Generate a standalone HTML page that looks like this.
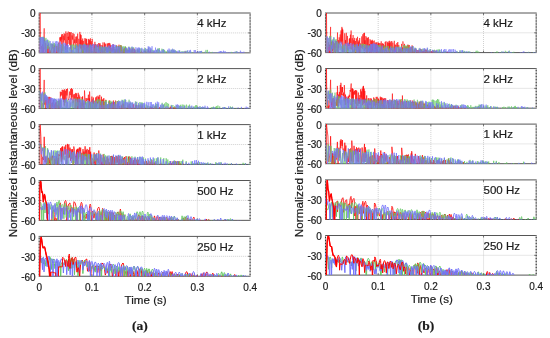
<!DOCTYPE html><html><head><meta charset="utf-8"><style>html,body{margin:0;padding:0;background:#fff;width:550px;height:338px;overflow:hidden}svg{display:block;filter:blur(0.4px)}text{font-family:"Liberation Sans",Arial,sans-serif;fill:#1a1a1a;stroke:#1a1a1a;stroke-width:0.2px}</style></head><body>
<svg width="550" height="338" viewBox="0 0 550 338"><defs><clipPath id="c00"><rect x="39.2" y="13" width="210.9" height="39.85"/></clipPath><clipPath id="c01"><rect x="39.2" y="68.6" width="210.9" height="39.85"/></clipPath><clipPath id="c02"><rect x="39.2" y="124.6" width="210.9" height="39.85"/></clipPath><clipPath id="c03"><rect x="39.2" y="180.5" width="210.9" height="39.85"/></clipPath><clipPath id="c04"><rect x="39.2" y="236.4" width="210.9" height="39.85"/></clipPath><clipPath id="c10"><rect x="325.5" y="13" width="210.7" height="39.6"/></clipPath><clipPath id="c11"><rect x="325.5" y="68.56" width="210.7" height="39.6"/></clipPath><clipPath id="c12"><rect x="325.5" y="124.1" width="210.7" height="39.6"/></clipPath><clipPath id="c13"><rect x="325.5" y="179.9" width="210.7" height="39.6"/></clipPath><clipPath id="c14"><rect x="325.5" y="235.5" width="210.7" height="39.6"/></clipPath></defs>
<path d="M91.92 13V52.85M144.65 13V52.85M197.37 13V52.85M39.2 32.92H250.1" stroke="#c4c4c4" stroke-width="0.8" stroke-dasharray="1 1" fill="none"/>
<path d="M91.92 13v2M91.92 52.85v-2M144.65 13v2M144.65 52.85v-2M197.37 13v2M197.37 52.85v-2M39.2 32.92h2M250.1 32.92h-2" stroke="#555" stroke-width="0.8" fill="none"/>
<path d="M38.7 13H250.6M38.7 52.85H250.6" stroke="#555" stroke-width="1" fill="none"/>
<path d="M39.2 13V52.85M250.1 13V52.85" stroke="#9a9a9a" stroke-width="1.1" fill="none"/>
<path d="M39.2 14.5V52.85M250.1 14.5V52.85" stroke="#333" stroke-width="1" stroke-dasharray="1 2" fill="none"/>
<g clip-path="url(#c00)"><path d="M40.0 62.8 40.1 13.0 40.3 32.9 40.5 42.9 40.8 45.0 41.0 49.3 41.5 46.0 42.0 62.8 42.5 44.4 43.0 57.1 43.2 46.3 43.4 61.4 44.2 28.3 44.3 41.4 44.7 39.7 45.2 58.8 45.6 43.0 46.0 48.3 46.6 48.8 47.2 55.8 47.5 45.0 47.9 61.7 48.4 44.2 48.9 60.0 49.5 47.4 50.0 53.4 50.3 50.4 50.7 61.9 51.3 48.9 51.9 48.8 52.2 44.2 52.5 48.3 53.1 47.1 53.7 55.4 54.0 44.7 54.3 52.7 54.8 45.9 55.2 61.4 55.6 59.7 56.1 62.8 56.6 45.9 57.2 62.8 57.8 46.3 58.3 57.7 58.7 42.6 59.1 51.7 59.7 37.4 60.3 40.5 60.5 37.2 60.8 41.8 61.1 36.7 61.4 62.8 61.7 34.5 61.9 39.6 62.3 34.0 62.8 51.2 63.3 35.6 63.8 42.8 64.1 33.3 64.4 40.3 65.0 34.0 65.5 50.0 65.9 31.4 66.2 45.0 66.5 46.0 66.8 38.7 67.1 33.0 67.4 49.0 67.7 37.6 67.9 38.1 68.2 31.5 68.5 40.0 68.7 36.6 69.0 43.8 69.4 32.0 69.8 45.3 70.2 32.4 70.6 49.1 71.1 32.1 71.7 62.8 72.0 35.4 72.4 39.6 72.9 33.0 73.5 45.5 74.0 33.9 74.6 43.2 74.9 39.4 75.2 49.0 75.8 36.7 76.3 43.2 76.7 36.4 77.1 47.3 77.7 33.6 78.2 62.8 78.8 38.8 79.4 46.6 79.9 31.9 80.4 48.0 80.6 34.3 80.9 49.0 81.1 35.1 81.3 62.8 81.8 40.2 82.4 55.1 82.7 38.5 82.9 56.8 83.3 40.9 83.7 62.8 84.1 44.6 84.5 49.7 84.9 38.2 85.2 54.9 85.8 38.6 86.3 62.8 86.5 38.9 86.8 62.8 87.3 43.5 87.8 53.1 88.3 38.9 88.8 53.3 89.1 39.3 89.4 62.8 89.7 40.2 90.1 46.2 90.4 38.3 90.7 54.8 91.3 41.3 91.8 56.6 92.2 38.8 92.5 45.5 93.0 44.6 93.6 59.7 94.1 44.5 94.7 54.1 94.9 41.8 95.2 55.4 95.6 44.2 96.0 47.5 96.3 45.1 96.7 55.9 97.2 44.1 97.8 47.1 98.2 46.0 98.5 57.0 98.7 43.0 99.0 47.4 99.3 43.5 99.5 55.6 100.1 43.4 100.7 54.7 101.0 45.0 101.3 62.8 101.7 48.6 102.0 58.1 102.3 45.4 102.5 58.6 103.0 42.4 103.4 59.6 103.8 50.7 104.3 53.9 104.5 42.5 104.8 61.5 105.1 44.3 105.5 50.7 105.9 43.5 106.4 58.5 106.8 47.4 107.2 49.8 107.5 43.5 107.8 60.7 108.4 43.1 109.0 52.2 109.3 42.9 109.5 59.3 110.0 43.5 110.5 62.8 110.7 45.3 110.9 49.5 111.2 52.4 111.4 51.7 111.9 48.0 112.4 52.0 112.8 44.5 113.2 50.8 113.6 44.4 114.0 53.4 114.4 48.9 114.7 62.8 115.2 49.5 115.7 55.5 115.9 48.9 116.1 62.8 116.6 45.3 117.2 56.5 117.6 48.9 118.0 60.6 118.3 45.9 118.7 62.8 119.0 44.7 119.4 57.5 119.8 46.7 120.1 60.1 120.5 45.2 120.9 62.8 121.4 45.6 121.9 57.3 122.3 50.2 122.7 62.4 123.3 49.1 123.8 56.6 124.2 47.9 124.6 55.2 124.8 48.7 125.1 58.2 125.5 46.9 125.8 60.0 126.2 48.6 126.6 52.7 126.9 52.6 127.3 58.5 127.7 49.8 128.1 55.3 128.7 49.9 129.3 57.2 129.8 47.9 130.3 62.8 130.7 51.4 131.1 62.8 131.3 50.1 131.6 60.4 132.1 48.6 132.5 54.5 132.9 48.4 133.2 54.7 133.6 52.3 134.0 62.8 134.3 48.7 134.7 55.4 135.0 50.2 135.3 62.8 135.7 51.6 136.0 62.8 136.5 53.6 137.0 62.8 137.3 49.8 137.7 56.5 138.1 53.6 138.5 57.5 138.9 51.1 139.3 62.8 139.7 57.0 140.1 55.1 140.5 52.5 141.0 62.8 141.3 50.8 141.5 55.2 142.0 52.5 142.4 59.0 142.9 54.7 143.4 61.8 144.0 54.3 144.6 62.8 144.9 50.9 145.3 62.8 145.8 51.3 146.3 60.8 146.5 56.7 146.8 58.6 147.4 53.9 147.9 62.8 148.2 50.1 148.4 61.9 148.9 50.8 149.4 62.8 149.8 52.2 150.2 62.8 150.4 50.2 150.6 62.8 150.8 51.6 151.0 59.4 151.4 57.1 151.8 62.8 152.0 54.8 152.3 56.9 152.8 52.4 153.4 62.8 153.9 51.7 154.4 62.8 154.8 53.7 155.3 62.0 155.7 56.6 156.1 62.8 156.6 53.0 157.1 57.2 157.7 52.6 158.3 62.8 158.5 52.6 158.7 60.5 159.0 54.8 159.3 62.5 159.7 53.4 160.1 62.8 160.5 53.1 161.0 62.8 161.4 53.7 161.9 60.2 162.4 55.0 162.8 61.1 163.4 53.9 163.9 62.8 164.3 54.7 164.8 58.4 165.1 54.9 165.4 62.8 165.8 53.7 166.2 62.8 166.6 52.4 167.0 62.8 167.4 53.1 167.8 58.6 168.2 53.1 168.7 62.8 169.2 55.8 169.7 62.8 170.2 52.5 170.8 62.8 171.1 52.9 171.5 62.8 171.8 52.9 172.2 62.8 172.5 53.3 172.8 62.8 173.2 52.9 173.5 62.8 174.1 57.4 174.6 62.2 175.1 52.8 175.5 62.8 175.9 55.7 176.3 59.4 176.9 52.5 177.4 62.8 177.8 56.0 178.3 62.8 178.7 55.7 179.1 62.8 179.6 54.0 180.0 62.8 180.3 56.6 180.5 62.8 180.9 54.0 181.2 62.8 181.5 53.2 181.8 62.8 182.1 53.0 182.4 62.1 182.9 55.3 183.3 62.8 183.6 54.6 184.0 62.8 184.4 56.0 184.7 58.7 185.2 51.5 185.6 62.8 186.2 53.5 186.8 62.8 187.3 54.3 187.8 62.8 188.4 53.0 188.9 60.5 189.4 52.9 189.9 62.8 190.3 56.5 190.8 62.4 191.1 54.4 191.5 61.4 192.0 56.7 192.4 62.8 192.6 55.4 192.9 62.8 193.3 56.2 193.8 62.2 194.1 54.8 194.3 62.8 194.6 62.8 194.9 61.1 195.1 60.1 195.3 62.8 195.7 57.3 196.1 60.6 196.4 55.9 196.6 62.6 197.0 56.3 197.3 62.8 197.9 55.7 198.4 59.4 198.8 56.9 199.3 62.8 199.6 57.6 199.9 62.8 200.2 55.0 200.4 62.8 200.7 56.5 201.1 62.8 201.3 56.0 201.6 61.1 201.8 59.6 202.0 61.3 202.6 54.7 203.1 62.8 203.4 57.7 203.7 62.8 204.1 55.7 204.6 62.8 205.1 54.1 205.7 62.8 206.2 57.6 206.7 62.8 207.0 57.7 207.3 60.7 207.6 56.1 207.9 62.8 208.2 55.0 208.5 62.8 208.7 57.7 208.9 59.7 209.2 54.3 209.4 62.8 209.7 58.0 209.9 61.6 210.3 54.5 210.6 62.8 211.2 57.7 211.7 62.2 212.0 55.2 212.3 62.8 212.6 60.1 212.9 62.8 213.4 54.9 213.8 62.8 214.2 56.9 214.5 62.8 215.1 54.9 215.6 62.8 216.0 54.8 216.4 62.8 217.0 55.2 217.5 62.8 217.9 54.6 218.3 62.8 218.7 57.2 219.0 62.8 219.6 54.3 220.1 60.8 220.6 56.1 221.0 62.8 221.5 54.5 222.0 62.8 222.5 57.3 223.1 62.8 223.6 57.7 224.1 62.8 224.5 55.9 224.9 62.8 225.2 58.1 225.4 62.8 225.9 55.1 226.4 62.8 226.8 62.8 227.1 62.1 227.5 55.8 228.0 62.8 228.4 56.4 228.8 62.8 229.2 60.9 229.6 62.6 230.0 55.5 230.3 62.8 230.5 62.8 230.8 62.8 231.0 55.9 231.3 62.8 231.5 58.6 231.8 62.8 232.3 60.2 232.7 62.8 233.0 59.2 233.3 62.6 233.6 56.8 233.9 62.8 234.1 61.5 234.4 62.8 234.9 58.0 235.3 62.8 235.9 60.0 236.4 62.8 236.7 58.2 237.1 62.8 237.5 57.9 237.9 62.8 238.3 59.5 238.7 62.8 239.2 56.5 239.8 62.8 240.3 56.4 240.8 62.8 241.2 57.6 241.6 62.8 241.9 57.7 242.2 62.8 242.4 58.8 242.7 62.8 243.3 61.9 243.9 62.8 244.1 57.1 244.3 62.8 244.6 61.9 244.8 62.8 245.2 60.5 245.6 62.8 246.2 57.6 246.8 62.8 247.1 57.6 247.5 62.8 247.7 60.1 247.9 62.8 248.3 58.6 248.7 62.8 249.1 57.4 249.6 62.8 250.2 57.7 250.7 62.8" stroke="#ff0000" stroke-width="0.55" fill="none" stroke-linejoin="round"/><path d="M39.2 36.2 39.6 39.4 40.0 42.8 40.6 37.6 41.2 62.8 42.0 36.9 42.8 61.7 43.2 36.8 43.6 46.4 44.0 37.0 44.5 49.6 44.9 38.6 45.3 59.1 46.0 37.9 46.7 52.8 47.2 40.3 47.6 48.9 48.0 39.9 48.4 48.6 49.1 40.7 49.7 51.5 50.4 43.5 51.1 62.8 51.5 43.4 52.0 59.7 52.7 43.7 53.4 62.8 53.7 43.3 54.0 49.8 54.4 43.1 54.8 54.8 55.7 44.2 56.6 50.6 57.3 44.1 57.9 62.8 58.6 43.7 59.3 60.8 59.9 47.3 60.5 62.8 60.9 44.9 61.3 62.8 62.1 43.8 63.0 62.5 63.3 44.7 63.6 58.6 64.3 46.4 65.0 62.8 65.7 45.6 66.4 58.2 66.8 46.6 67.2 57.0 67.8 46.9 68.3 62.8 69.2 48.1 70.1 52.0 70.9 44.8 71.6 58.7 72.0 44.6 72.5 62.8 73.0 44.4 73.5 62.8 74.1 44.7 74.8 62.8 75.5 45.2 76.2 52.2 76.5 44.2 76.9 62.8 77.7 45.4 78.6 60.2 79.4 44.1 80.2 62.8 81.0 44.4 81.8 59.5 82.2 45.4 82.5 54.5 83.0 47.8 83.4 59.6 84.1 43.8 84.9 59.5 85.2 44.0 85.5 53.1 86.1 45.8 86.6 62.8 87.2 47.7 87.7 62.8 88.5 47.3 89.3 62.8 89.7 44.7 90.2 62.8 91.0 45.1 91.8 56.8 92.7 50.7 93.5 62.8 94.1 47.9 94.7 62.8 95.5 45.5 96.2 51.9 96.7 45.5 97.3 62.8 98.0 47.4 98.7 62.8 99.0 48.8 99.4 60.2 99.8 46.0 100.3 52.4 100.9 47.0 101.5 62.8 101.8 47.0 102.2 62.8 102.8 46.6 103.4 60.4 103.8 47.2 104.1 53.7 104.7 46.9 105.3 57.8 105.9 46.8 106.4 62.8 106.7 47.4 107.1 62.8 107.4 47.0 107.7 62.8 108.1 46.9 108.6 60.8 109.0 48.0 109.4 58.1 109.7 48.7 110.0 53.5 110.8 49.6 111.6 62.8 112.2 46.9 112.9 55.6 113.5 49.9 114.1 62.8 114.6 47.1 115.2 60.0 115.7 46.2 116.2 62.8 116.8 45.7 117.4 53.3 117.9 48.4 118.4 62.8 118.7 46.2 119.0 57.3 119.7 45.5 120.4 55.0 121.0 45.0 121.6 62.8 122.1 46.3 122.5 62.8 123.4 46.3 124.2 62.8 124.5 46.6 124.9 59.8 125.4 46.2 125.9 62.8 126.7 47.5 127.4 59.5 127.7 48.6 128.0 62.8 128.4 50.4 128.7 62.8 129.1 46.7 129.4 62.8 130.1 49.5 130.8 62.8 131.1 47.3 131.5 62.8 132.2 47.0 132.9 62.8 133.7 47.2 134.5 62.8 135.2 49.5 135.9 55.8 136.3 52.1 136.6 62.8 137.1 49.5 137.5 62.8 137.8 48.7 138.1 62.8 138.5 49.7 138.8 62.8 139.2 48.3 139.5 58.0 140.3 48.5 141.1 62.8 141.8 48.6 142.6 62.8 143.2 53.1 143.7 62.8 144.0 50.4 144.3 62.8 144.7 48.1 145.1 62.8 145.8 49.7 146.5 62.8 147.0 48.9 147.6 58.7 147.9 51.5 148.3 62.8 148.6 47.7 148.9 62.8 149.7 51.9 150.4 62.8 151.0 48.7 151.6 62.8 152.1 50.1 152.5 61.9 153.2 49.9 154.0 57.5 154.9 51.3 155.7 62.8 156.4 49.8 157.0 62.8 157.6 48.7 158.2 62.8 158.6 48.6 159.0 62.8 159.4 48.1 159.8 62.8 160.5 54.0 161.2 62.8 161.9 48.7 162.5 55.8 163.0 49.1 163.4 62.8 163.8 49.6 164.2 62.8 164.6 50.0 165.1 61.4 165.4 51.4 165.7 62.8 166.6 51.3 167.4 62.8 167.8 50.3 168.2 62.8 168.9 51.0 169.6 62.8 170.3 51.4 170.9 62.0 171.2 49.9 171.5 62.8 172.1 49.6 172.8 61.3 173.4 49.4 174.1 62.8 174.5 50.6 175.0 62.8 175.4 50.3 175.8 59.9 176.5 51.1 177.1 57.9 177.9 54.5 178.7 62.8 179.6 50.2 180.4 62.8 180.8 52.6 181.1 62.8 181.8 51.2 182.5 62.8 183.2 51.2 183.9 62.8 184.7 51.5 185.6 60.5 186.1 50.8 186.6 62.8 187.3 50.8 188.1 62.2 188.7 52.3 189.3 62.8 189.7 51.5 190.2 62.8 190.5 52.0 190.8 62.8 191.1 51.8 191.4 62.8 192.1 52.2 192.9 60.1 193.3 56.0 193.8 62.8 194.2 53.3 194.6 57.7 195.1 53.3 195.7 62.8 196.4 53.4 197.2 62.8 197.5 52.9 197.8 62.8 198.6 52.5 199.4 60.0 199.9 51.4 200.4 62.8 201.0 51.0 201.5 62.8 202.0 51.8 202.5 62.8 203.1 53.1 203.8 62.8 204.6 51.9 205.4 62.8 206.0 49.9 206.6 62.8 207.5 49.9 208.3 62.8 208.7 52.2 209.1 62.8 209.7 57.5 210.3 62.8 211.0 52.2 211.8 62.8 212.4 51.9 213.1 62.8 213.5 53.2 214.0 62.8 214.6 56.9 215.1 62.8 215.8 52.5 216.4 62.2 216.9 52.7 217.5 59.5 218.0 55.2 218.5 62.8 219.0 53.9 219.4 60.2 220.1 55.3 220.7 62.8 221.4 52.2 222.1 62.8 222.9 53.3 223.7 61.1 224.0 52.5 224.4 61.1 225.0 54.2 225.5 62.8 226.0 54.8 226.5 62.8 226.9 52.6 227.2 60.5 227.7 53.5 228.1 62.8 228.5 55.0 228.9 62.8 229.4 55.5 230.0 62.8 230.4 52.6 230.9 62.8 231.3 51.9 231.8 61.8 232.2 52.3 232.7 62.8 233.0 54.0 233.4 62.8 233.9 53.0 234.5 60.5 234.9 52.1 235.3 62.8 236.2 51.1 237.1 62.8 237.8 52.3 238.6 62.8 239.0 55.5 239.4 62.8 239.8 55.3 240.2 62.8 241.0 53.8 241.8 62.8 242.4 56.5 243.1 62.8 243.9 56.2 244.6 62.8 245.4 55.0 246.1 62.8 247.0 54.9 247.9 61.1 248.6 55.0 249.3 62.8 250.2 57.6 251.0 62.8" stroke="#64c864" stroke-width="0.55" fill="none" stroke-linejoin="round"/><path d="M39.2 36.9 39.6 37.6 40.0 60.2 40.4 37.3 40.9 60.8 41.4 37.0 42.0 62.3 42.4 37.4 42.9 58.6 43.2 36.9 43.6 59.0 44.0 38.2 44.4 62.8 45.1 41.2 45.8 62.8 46.1 40.3 46.5 58.1 47.3 39.5 48.1 46.0 48.7 42.5 49.3 53.4 50.2 41.1 51.1 57.3 51.8 43.8 52.4 62.8 53.0 41.4 53.6 62.8 54.2 47.1 54.9 62.8 55.3 41.4 55.7 56.0 56.5 41.1 57.3 52.4 57.8 41.4 58.4 57.4 59.2 42.5 60.0 62.8 60.4 41.9 60.8 62.8 61.6 44.1 62.5 54.9 63.3 42.6 64.1 62.8 64.7 43.3 65.3 53.1 65.6 43.3 66.0 59.5 66.5 45.2 67.0 62.2 67.3 44.2 67.6 62.8 68.2 44.9 68.7 61.4 69.5 47.0 70.4 52.2 71.0 45.4 71.7 62.8 72.3 50.0 73.0 62.8 73.7 46.4 74.4 62.8 75.2 47.9 76.1 59.6 76.7 45.1 77.2 56.3 78.0 46.2 78.7 62.8 79.3 44.2 80.0 55.5 80.7 44.6 81.5 54.5 82.2 44.8 83.0 50.3 83.6 44.3 84.2 62.8 84.7 44.4 85.1 62.8 85.7 45.1 86.3 62.8 86.8 45.1 87.4 60.4 87.8 44.6 88.1 62.8 89.0 45.4 89.9 62.8 90.5 44.3 91.0 62.8 91.5 45.6 92.0 53.3 92.5 44.1 92.9 62.8 93.8 43.9 94.6 58.2 95.3 44.6 96.1 62.8 96.8 44.5 97.5 62.8 97.9 46.5 98.2 62.8 98.7 44.3 99.2 56.2 99.9 49.8 100.6 62.2 101.1 45.8 101.7 53.4 102.3 47.6 102.9 60.6 103.8 46.6 104.6 56.6 105.5 45.8 106.4 57.7 106.7 47.1 107.0 62.5 107.4 47.8 107.8 53.6 108.2 45.7 108.6 62.8 109.3 45.6 110.0 51.6 110.6 46.7 111.2 61.6 111.7 45.0 112.3 62.8 112.7 44.3 113.0 62.8 113.4 44.3 113.7 62.8 114.3 44.8 114.9 62.8 115.6 44.9 116.3 62.8 116.6 47.2 116.9 52.9 117.6 46.1 118.4 62.3 118.9 46.6 119.5 53.8 120.0 46.9 120.6 62.8 121.2 51.4 121.9 62.8 122.6 47.2 123.4 62.8 124.2 53.8 125.0 58.3 125.3 48.0 125.7 61.0 126.0 51.4 126.3 58.6 126.8 47.8 127.2 58.6 127.7 50.2 128.3 62.8 128.6 46.8 129.0 62.8 129.3 47.4 129.6 53.5 129.9 48.7 130.2 62.8 130.9 48.8 131.5 62.8 132.0 46.5 132.6 62.8 133.2 47.9 133.7 62.8 134.5 49.5 135.3 62.8 135.9 47.2 136.4 62.8 137.1 48.2 137.7 62.8 138.1 47.5 138.6 60.2 139.1 47.4 139.5 62.7 139.8 48.2 140.1 62.8 140.5 54.9 140.9 62.8 141.8 47.8 142.6 56.5 143.2 48.9 143.7 55.9 144.2 50.5 144.7 56.7 145.5 48.1 146.4 62.8 147.1 48.9 147.8 62.8 148.2 46.3 148.6 62.8 149.1 46.6 149.6 62.8 150.0 47.2 150.5 62.8 150.8 48.2 151.2 62.8 152.0 46.2 152.9 57.7 153.6 50.9 154.2 58.5 154.5 50.3 154.9 62.8 155.5 47.6 156.1 62.8 156.7 49.9 157.3 62.8 157.9 48.7 158.5 62.8 159.4 49.7 160.3 55.3 160.8 50.8 161.4 62.8 162.2 49.8 163.1 62.8 163.6 49.3 164.2 62.8 165.0 51.7 165.9 59.8 166.4 53.8 166.9 62.8 167.8 49.7 168.6 62.8 169.0 48.5 169.4 62.8 169.9 49.6 170.4 62.8 171.3 49.7 172.1 62.8 172.6 48.7 173.1 62.8 173.5 50.4 173.9 62.8 174.4 49.5 174.8 56.7 175.7 50.6 176.5 62.8 177.3 50.9 178.1 62.8 178.7 50.5 179.3 62.8 179.8 51.1 180.4 62.8 180.8 51.9 181.2 62.2 181.5 52.1 181.9 62.8 182.7 51.6 183.4 59.8 183.8 52.0 184.2 62.8 185.0 50.9 185.7 62.8 186.3 51.6 186.9 62.8 187.7 50.3 188.5 62.8 189.3 50.4 190.1 62.8 190.5 49.9 190.8 62.8 191.4 52.1 191.9 62.8 192.2 54.5 192.6 62.8 193.1 53.2 193.6 62.8 194.2 50.0 194.7 62.8 195.4 50.1 196.1 62.8 196.8 52.3 197.6 62.8 198.0 51.0 198.4 62.8 198.9 53.5 199.3 62.8 199.6 51.5 200.0 57.7 200.4 51.2 200.8 62.8 201.5 50.9 202.1 62.8 202.9 55.0 203.6 62.8 204.2 54.1 204.8 57.3 205.5 51.8 206.3 62.8 207.1 53.1 207.9 62.8 208.3 52.5 208.7 62.8 209.3 51.7 209.9 62.8 210.4 55.1 210.8 62.8 211.6 53.3 212.4 62.8 212.9 52.5 213.3 60.5 213.9 52.4 214.5 62.8 214.8 53.8 215.2 59.7 215.9 52.5 216.6 62.8 217.3 52.2 218.0 60.2 218.7 51.8 219.3 62.8 219.6 51.5 219.9 62.8 220.5 51.0 221.0 62.8 221.7 51.1 222.3 59.8 222.6 52.3 222.9 62.8 223.5 50.7 224.1 62.8 224.6 51.5 225.2 62.8 225.5 51.5 225.9 62.8 226.5 52.5 227.1 62.8 227.6 52.3 228.0 62.1 228.5 52.7 228.9 62.8 229.3 52.8 229.6 61.3 229.9 52.3 230.3 62.8 230.6 52.4 230.9 62.8 231.7 55.3 232.4 62.0 233.1 52.2 233.8 62.8 234.6 51.8 235.4 62.8 236.2 51.5 237.0 62.8 237.5 51.6 238.0 62.8 238.6 52.5 239.2 62.8 239.6 52.7 239.9 62.8 240.4 50.7 240.9 62.8 241.6 51.9 242.3 62.8 242.7 52.0 243.0 62.0 243.9 51.7 244.7 62.8 245.5 54.9 246.4 62.8 246.8 53.9 247.2 62.8 248.0 54.0 248.7 62.8 249.5 53.1 250.2 62.6" stroke="#7373fa" stroke-width="0.55" fill="none" stroke-linejoin="round"/></g>
<text x="35.6" y="17.4" font-size="10" text-anchor="end">0</text>
<text x="35.6" y="37.32" font-size="10" text-anchor="end"><tspan dy="-0.9">-</tspan><tspan dy="0.9">30</tspan></text>
<text x="35.6" y="57.25" font-size="10" text-anchor="end"><tspan dy="-0.9">-</tspan><tspan dy="0.9">60</tspan></text>
<text x="197.2" y="27.1" font-size="11.5">4 kHz</text>
<path d="M91.92 68.6V108.45M144.65 68.6V108.45M197.37 68.6V108.45M39.2 88.52H250.1" stroke="#c4c4c4" stroke-width="0.8" stroke-dasharray="1 1" fill="none"/>
<path d="M91.92 68.6v2M91.92 108.45v-2M144.65 68.6v2M144.65 108.45v-2M197.37 68.6v2M197.37 108.45v-2M39.2 88.52h2M250.1 88.52h-2" stroke="#555" stroke-width="0.8" fill="none"/>
<path d="M38.7 68.6H250.6M38.7 108.45H250.6" stroke="#555" stroke-width="1" fill="none"/>
<path d="M39.2 68.6V108.45M250.1 68.6V108.45" stroke="#9a9a9a" stroke-width="1.1" fill="none"/>
<path d="M39.2 70.1V108.45M250.1 70.1V108.45" stroke="#333" stroke-width="1" stroke-dasharray="1 2" fill="none"/>
<g clip-path="url(#c01)"><path d="M40.0 118.4 40.1 68.6 40.3 88.5 40.5 98.5 41.0 98.4 41.5 109.3 42.1 113.0 42.8 113.8 43.0 103.1 43.3 106.9 44.2 79.9 44.5 104.6 45.1 97.3 45.7 117.8 46.0 99.9 46.4 104.7 47.0 98.5 47.7 111.9 48.3 96.9 49.0 118.4 49.6 96.9 50.2 114.6 50.8 97.4 51.4 112.6 51.7 103.4 52.0 118.2 52.5 102.5 52.9 106.8 53.4 100.0 54.0 108.8 54.5 104.1 54.9 117.2 55.6 102.3 56.2 114.4 56.5 102.0 56.8 116.3 57.1 104.8 57.4 114.6 57.7 110.0 58.0 107.9 58.3 100.9 58.6 108.4 59.2 100.5 59.8 118.4 60.3 91.7 60.7 96.4 61.3 92.1 61.9 95.4 62.2 89.8 62.6 99.4 63.1 89.8 63.6 101.8 63.9 90.5 64.3 105.7 64.7 89.2 65.1 102.7 65.6 90.7 66.1 99.5 66.5 89.0 66.9 95.5 67.5 88.6 68.2 100.3 68.7 98.8 69.3 98.4 69.7 91.5 70.2 95.1 70.7 88.9 71.3 99.8 71.6 88.1 72.0 97.4 72.5 89.3 73.0 103.1 73.7 94.4 74.3 98.9 74.8 93.9 75.2 109.7 75.7 92.9 76.1 100.6 76.6 93.4 77.1 109.4 77.5 97.2 77.9 108.7 78.2 92.8 78.5 118.4 79.0 94.6 79.5 102.4 79.9 96.6 80.3 118.4 80.9 102.5 81.6 112.8 82.0 97.0 82.3 106.2 82.6 96.3 82.9 110.6 83.6 102.7 84.2 108.9 84.5 90.5 85.4 104.4 86.1 98.0 86.7 101.3 87.3 98.4 88.0 100.4 88.4 94.7 88.8 108.6 89.2 98.3 89.5 104.9 89.6 91.5 90.3 111.5 90.9 101.9 91.4 102.1 91.9 96.5 92.3 103.7 92.6 99.6 92.9 113.7 93.3 97.5 93.6 103.9 94.0 101.2 94.4 102.5 94.9 109.6 95.3 102.6 95.7 97.4 96.2 107.4 96.7 96.5 97.1 103.5 97.4 102.0 97.8 104.1 98.0 95.7 98.2 102.9 98.8 96.9 99.4 111.3 99.8 94.9 100.3 118.4 100.7 101.5 101.2 113.2 101.5 96.7 101.9 107.5 102.3 99.7 102.7 110.2 103.1 99.2 103.5 115.7 103.8 98.1 104.2 118.4 104.8 102.0 105.4 107.9 105.8 99.8 106.3 118.4 107.0 104.3 107.6 107.6 108.0 110.1 108.5 106.9 108.8 102.0 109.2 116.1 109.7 100.4 110.3 117.5 110.6 102.9 110.8 113.9 111.2 103.0 111.5 117.7 111.8 102.1 112.1 113.4 112.6 102.8 113.0 118.4 113.4 100.5 113.9 115.6 114.4 101.9 115.0 109.6 115.5 100.6 116.0 112.4 116.3 109.2 116.6 118.4 117.2 101.1 117.9 118.4 118.5 102.8 119.0 112.0 119.5 106.1 119.9 112.6 120.4 108.1 121.0 118.4 121.4 105.4 121.9 116.2 122.3 103.9 122.7 112.0 123.1 103.4 123.5 118.4 123.8 103.9 124.2 110.2 124.8 107.2 125.5 118.4 125.9 107.4 126.2 108.0 126.8 116.0 127.3 118.4 127.9 105.6 128.5 118.4 129.1 104.1 129.8 111.0 130.4 106.6 131.0 116.0 131.3 107.9 131.6 110.3 132.1 107.7 132.7 118.4 133.3 104.3 134.0 114.7 134.5 108.1 135.0 113.6 135.6 105.1 136.2 118.4 136.7 104.8 137.2 118.4 137.8 117.3 138.5 112.6 138.9 105.2 139.4 111.5 140.1 108.5 140.8 118.4 141.0 105.5 141.3 115.4 141.7 106.9 142.2 118.4 142.4 105.6 142.7 118.4 143.3 109.2 143.8 118.4 144.2 108.1 144.5 111.4 144.9 108.2 145.3 118.4 145.8 107.6 146.2 114.0 146.6 109.0 147.1 118.4 147.5 107.8 148.0 117.9 148.4 113.3 148.9 112.4 149.4 109.3 149.8 118.4 150.1 107.2 150.3 118.4 150.5 107.1 150.8 118.4 151.3 107.0 151.8 111.1 152.3 107.0 152.7 118.4 153.4 108.1 154.1 118.4 154.5 107.4 155.0 111.9 155.4 106.0 155.8 117.3 156.3 106.4 156.8 118.4 157.4 109.2 158.0 118.4 158.7 108.5 159.4 118.4 159.7 107.1 160.1 118.3 160.3 111.1 160.6 118.4 160.9 109.4 161.2 118.4 161.5 109.7 161.9 118.1 162.3 115.5 162.7 118.4 163.4 108.1 164.1 112.4 164.6 118.1 165.2 114.6 165.7 107.8 166.3 118.4 166.7 108.0 167.1 118.4 167.6 110.9 168.0 118.4 168.3 108.4 168.6 118.4 168.9 107.7 169.3 118.4 169.7 114.1 170.1 118.4 170.4 106.6 170.8 118.4 171.3 107.0 171.8 114.6 172.2 110.3 172.5 118.4 173.0 110.7 173.4 118.4 173.9 107.0 174.4 118.4 174.8 107.7 175.1 118.4 175.3 107.5 175.6 118.4 175.8 108.2 176.1 116.0 176.4 109.0 176.8 118.4 177.2 109.1 177.6 112.8 178.2 115.0 178.9 118.4 179.5 109.8 180.0 115.6 180.6 113.4 181.1 117.5 181.4 110.8 181.7 118.4 182.1 108.8 182.5 118.4 182.8 112.1 183.0 118.4 183.3 118.4 183.7 118.4 184.3 110.0 185.0 115.9 185.5 108.4 186.0 118.4 186.5 108.4 187.0 113.3 187.3 109.1 187.6 118.4 188.3 112.2 188.9 117.6 189.2 111.7 189.4 117.4 190.1 114.4 190.8 118.4 191.4 108.7 192.1 118.4 192.5 111.2 192.8 118.4 193.3 114.9 193.7 118.4 194.4 118.4 195.1 118.4 195.6 113.5 196.1 118.4 196.7 113.7 197.3 118.4 197.7 114.6 198.1 117.6 198.5 113.1 198.8 118.4 199.3 114.4 199.7 117.1 200.0 110.9 200.3 118.4 200.6 112.1 200.9 118.4 201.3 111.8 201.7 118.4 202.0 111.1 202.3 118.4 202.6 111.1 202.9 115.5 203.4 109.8 203.9 118.4 204.2 109.6 204.6 118.4 205.0 109.9 205.5 118.4 206.1 112.6 206.8 118.4 207.4 109.0 208.1 118.4 208.5 114.7 208.9 118.4 209.4 110.7 210.0 118.4 210.5 118.4 211.1 118.4 211.4 110.4 211.7 116.8 212.1 108.9 212.4 118.4 213.0 112.5 213.5 115.0 213.8 110.6 214.0 118.4 214.3 110.4 214.6 118.4 215.0 109.2 215.4 118.4 215.8 109.6 216.1 118.4 216.5 110.8 217.0 118.4 217.2 112.3 217.5 118.4 218.1 114.1 218.7 118.4 219.1 111.1 219.5 118.4 220.0 110.7 220.6 118.4 220.9 111.6 221.3 115.9 221.9 117.5 222.5 115.8 222.8 114.0 223.2 118.4 223.7 110.2 224.2 118.4 224.6 110.2 225.0 118.4 225.4 113.6 225.9 118.4 226.5 114.9 227.0 118.4 227.5 111.8 228.0 118.4 228.6 113.4 229.2 118.4 229.5 110.5 229.8 118.4 230.3 112.8 230.7 118.4 231.4 111.0 232.0 118.4 232.4 118.4 232.7 118.4 233.2 110.9 233.7 118.4 234.3 113.3 234.9 118.4 235.4 118.4 235.9 118.4 236.1 110.4 236.4 118.4 236.9 110.7 237.5 118.4 238.1 114.8 238.8 118.4 239.3 112.2 239.8 116.9 240.5 115.8 241.1 118.4 241.7 116.7 242.2 118.4 242.5 112.6 242.8 117.4 243.4 114.3 244.1 118.4 244.7 112.5 245.2 118.4 245.6 115.4 246.0 118.4 246.4 118.0 246.8 118.4 247.1 112.8 247.5 118.4 248.0 118.4 248.5 118.4 249.0 117.8 249.6 117.4 250.2 118.4 250.7 118.4" stroke="#ff0000" stroke-width="0.6" fill="none" stroke-linejoin="round"/><path d="M39.2 89.9 39.8 96.3 40.5 101.7 40.8 94.1 41.2 112.7 41.8 93.6 42.4 118.4 43.1 93.2 43.8 114.7 44.8 92.2 45.7 98.2 46.2 95.1 46.6 100.3 47.1 97.1 47.5 116.3 48.1 103.0 48.8 115.3 49.8 100.6 50.8 118.4 51.7 102.8 52.5 118.4 53.2 99.7 53.9 110.3 54.9 98.6 55.8 118.4 56.5 100.1 57.1 118.4 57.6 100.8 58.2 118.4 58.7 101.2 59.3 106.4 59.7 99.7 60.1 118.4 60.6 99.8 61.1 118.4 61.7 99.8 62.2 118.4 62.8 107.2 63.3 118.4 64.3 100.1 65.4 118.4 65.9 99.4 66.5 109.9 67.3 99.8 68.2 118.4 69.1 100.9 70.0 115.4 70.8 102.4 71.7 118.4 72.2 100.3 72.8 108.9 73.6 100.7 74.4 117.0 75.0 98.2 75.7 118.3 76.0 102.2 76.4 118.4 76.8 98.6 77.2 106.1 77.8 102.3 78.3 118.4 78.9 98.5 79.5 118.4 79.9 103.8 80.3 118.4 80.9 98.8 81.5 118.4 82.3 99.1 83.2 118.4 84.0 100.5 84.8 118.4 85.4 101.8 86.1 116.0 86.6 101.8 87.1 115.5 87.6 100.8 88.1 118.4 88.8 101.6 89.6 118.4 90.0 102.4 90.5 111.9 90.9 102.0 91.3 118.4 91.8 103.0 92.3 118.4 92.8 101.7 93.3 118.4 93.8 103.3 94.2 110.8 94.6 100.6 95.1 118.4 95.6 102.9 96.2 109.8 96.8 100.2 97.4 118.3 97.9 99.1 98.3 118.4 99.0 99.3 99.7 112.9 100.4 99.6 101.2 117.3 102.2 100.9 103.2 118.4 104.1 100.7 105.0 118.4 105.4 100.8 105.8 118.4 106.4 100.1 106.9 114.7 107.4 104.1 107.9 118.4 108.5 100.7 109.1 118.4 109.8 101.7 110.4 110.1 110.9 100.9 111.4 118.4 112.1 101.6 112.9 118.4 113.9 104.2 114.8 112.8 115.6 101.4 116.4 118.4 117.3 101.0 118.3 118.4 118.7 100.3 119.2 118.4 120.1 101.7 121.1 118.4 122.0 99.7 122.9 110.4 123.3 100.6 123.6 118.4 124.3 99.4 125.0 109.3 125.8 100.1 126.5 118.4 127.3 102.9 128.1 109.9 129.1 99.7 130.1 118.4 130.7 102.4 131.3 118.4 132.3 102.7 133.2 116.3 134.0 107.2 134.8 117.4 135.4 101.4 136.0 118.4 136.8 101.8 137.6 118.4 138.4 104.8 139.1 115.8 139.9 102.0 140.7 118.4 141.3 102.5 141.9 118.4 142.6 102.6 143.4 118.4 144.3 104.5 145.2 118.4 146.0 104.4 146.8 118.4 147.5 105.6 148.2 118.4 149.0 106.0 149.8 118.4 150.7 105.9 151.7 118.4 152.7 105.3 153.7 112.2 154.3 106.4 154.8 111.2 155.3 104.8 155.7 118.4 156.3 103.8 156.9 111.2 157.9 104.0 159.0 118.4 159.8 108.5 160.6 115.6 161.0 105.7 161.4 118.4 162.2 102.8 162.9 113.3 163.4 104.5 163.8 111.4 164.6 103.5 165.3 113.9 166.0 102.0 166.8 118.4 167.2 103.0 167.6 111.5 168.6 103.8 169.5 118.4 170.0 109.1 170.4 118.4 171.2 104.9 172.1 112.9 172.9 105.0 173.8 118.4 174.8 106.0 175.8 112.9 176.7 105.2 177.6 111.7 178.3 106.4 179.0 118.4 179.5 105.8 179.9 118.4 180.6 104.8 181.3 118.4 182.2 104.5 183.1 114.8 183.8 104.7 184.5 118.4 185.0 105.6 185.4 116.5 186.4 104.6 187.4 117.5 188.2 105.6 189.0 118.4 189.6 104.6 190.2 118.4 191.2 106.6 192.2 118.4 193.1 106.6 194.0 114.9 194.4 106.5 194.8 118.4 195.6 105.3 196.4 115.1 196.7 105.1 197.1 118.4 198.1 107.2 199.0 118.4 200.0 106.2 200.9 118.4 201.7 107.0 202.5 118.4 203.0 107.0 203.4 116.8 204.2 107.3 204.9 118.4 205.6 107.7 206.2 118.4 207.0 111.2 207.9 118.4 208.5 109.1 209.1 118.4 209.5 108.1 209.8 113.4 210.3 109.1 210.8 116.0 211.3 107.2 211.8 118.4 212.3 107.2 212.8 118.4 213.4 106.6 214.0 118.4 214.4 107.7 214.8 118.4 215.5 106.8 216.3 118.4 216.6 106.1 217.0 118.4 217.9 105.5 218.8 118.4 219.7 106.4 220.6 118.4 221.2 109.7 221.8 114.4 222.7 107.5 223.7 118.4 224.4 107.0 225.1 118.4 225.7 107.4 226.4 118.4 227.2 109.0 228.1 118.4 228.5 108.1 228.9 118.4 229.4 108.8 229.8 118.4 230.3 106.4 230.7 118.4 231.1 107.0 231.6 118.4 232.5 106.7 233.4 118.4 233.8 108.0 234.3 118.4 235.0 109.7 235.6 118.4 236.1 107.9 236.5 118.4 237.5 110.3 238.5 118.4 239.0 109.7 239.5 116.1 240.2 108.3 240.9 118.4 241.4 111.4 242.0 118.4 243.0 109.1 244.0 117.1 244.4 111.5 244.8 115.6 245.3 109.1 245.9 118.4 246.5 110.0 247.2 118.4 248.1 108.1 249.0 118.4 249.6 109.9 250.2 116.2" stroke="#64c864" stroke-width="0.6" fill="none" stroke-linejoin="round"/><path d="M39.2 91.2 39.8 91.7 40.4 118.4 41.1 92.6 41.7 100.7 42.5 91.7 43.3 107.9 44.1 94.6 44.9 102.6 45.3 93.7 45.6 100.3 46.0 95.4 46.4 107.7 46.9 95.9 47.4 116.2 47.8 96.8 48.2 118.4 49.0 98.7 49.8 104.5 50.4 97.8 51.0 109.5 51.5 97.9 52.0 118.4 52.6 98.1 53.2 113.3 53.5 98.7 53.9 114.8 54.4 98.6 54.8 114.7 55.5 99.0 56.2 115.9 56.9 98.7 57.7 114.0 58.6 98.6 59.5 116.0 60.0 98.6 60.4 112.3 60.8 98.6 61.3 118.4 62.0 98.1 62.8 118.4 63.5 99.6 64.3 118.4 65.0 99.4 65.8 118.4 66.4 98.3 67.1 118.1 67.6 101.6 68.1 116.2 69.1 99.1 70.0 118.0 70.5 98.2 71.0 106.9 72.0 98.7 73.0 108.1 74.0 98.9 75.0 118.4 76.1 99.4 77.1 118.4 78.0 99.3 78.8 115.8 79.4 99.1 80.0 118.4 80.5 100.1 81.0 112.0 82.0 100.2 83.1 118.4 83.5 99.6 83.9 108.9 84.7 100.8 85.5 115.3 86.3 103.0 87.2 118.4 88.0 100.1 88.9 118.4 89.7 101.2 90.6 117.1 91.3 101.7 92.1 118.4 92.9 99.8 93.8 118.4 94.7 102.3 95.6 118.4 96.1 101.3 96.6 111.0 97.5 103.6 98.3 111.0 99.2 101.4 100.1 112.1 100.6 105.3 101.2 118.4 102.1 101.2 103.0 118.4 103.9 105.1 104.9 118.4 105.9 102.1 106.9 118.4 107.4 104.7 107.9 113.7 108.6 102.9 109.2 118.4 110.1 104.3 111.0 116.7 111.4 103.4 111.8 112.0 112.8 101.7 113.7 118.4 114.5 102.3 115.2 112.7 116.2 103.9 117.1 118.4 117.6 101.8 118.2 118.4 118.6 101.4 119.0 118.4 119.6 101.0 120.3 110.1 121.1 100.8 121.9 118.4 122.7 100.2 123.5 117.1 124.2 101.7 124.9 118.4 125.4 99.3 125.9 112.0 126.7 102.1 127.4 107.7 128.0 101.7 128.7 115.9 129.1 102.9 129.6 118.4 130.1 101.3 130.6 118.4 131.3 102.6 132.1 118.4 132.7 102.4 133.3 110.4 134.2 103.5 135.2 118.4 136.0 101.9 136.7 112.6 137.2 105.4 137.7 118.4 138.6 102.9 139.5 118.4 140.1 104.5 140.6 110.2 141.0 102.8 141.4 118.4 142.3 103.9 143.3 117.5 143.7 103.1 144.2 118.4 144.7 102.6 145.1 118.4 145.7 113.8 146.2 118.4 146.8 101.8 147.4 118.4 148.3 102.3 149.3 118.4 150.1 102.0 150.9 116.8 151.3 102.0 151.7 118.4 152.2 104.2 152.7 118.4 153.6 104.2 154.6 110.6 155.6 102.7 156.6 118.4 157.3 101.6 158.0 115.0 158.7 102.3 159.5 118.4 160.5 104.8 161.4 118.4 161.9 103.8 162.5 110.6 163.5 104.8 164.5 118.4 165.3 106.7 166.2 110.3 167.1 105.9 168.1 118.4 168.7 107.2 169.3 118.4 170.3 108.1 171.2 112.3 171.6 105.4 171.9 118.2 172.5 107.4 173.1 118.4 174.1 110.2 175.1 114.4 176.1 104.6 177.1 118.4 177.5 104.4 177.9 118.4 178.7 104.9 179.5 118.4 180.2 106.5 181.0 118.4 181.8 106.2 182.6 118.4 183.3 107.5 183.9 115.8 184.5 105.8 185.1 118.4 185.5 108.4 186.0 118.4 186.8 107.7 187.5 118.4 188.4 106.3 189.4 116.0 190.1 106.4 190.8 118.4 191.8 105.6 192.8 117.6 193.5 106.8 194.1 118.4 195.0 107.7 195.9 117.1 196.7 107.2 197.6 116.0 198.5 106.9 199.4 118.4 199.9 106.6 200.4 118.4 201.4 107.2 202.3 118.4 202.7 106.4 203.2 116.3 203.8 107.1 204.3 118.4 205.0 105.7 205.7 118.4 206.3 107.9 206.8 113.6 207.4 106.3 207.9 118.4 208.6 107.6 209.3 118.4 210.2 111.1 211.1 118.4 212.0 108.0 212.9 118.4 213.3 107.3 213.7 118.4 214.4 107.3 215.1 118.4 215.6 108.5 216.1 115.0 216.9 113.9 217.6 116.7 218.6 108.0 219.6 118.4 220.2 108.1 220.8 115.7 221.7 108.6 222.6 118.4 223.1 107.3 223.5 118.4 223.9 107.5 224.2 117.4 224.6 107.0 225.0 118.4 225.8 107.9 226.6 116.1 227.1 108.3 227.7 118.4 228.6 106.4 229.6 118.4 230.5 107.5 231.5 118.4 232.3 107.2 233.2 118.4 233.7 107.8 234.2 118.4 234.8 111.1 235.4 118.4 236.3 108.5 237.1 118.2 238.1 107.4 239.0 118.4 239.8 109.5 240.5 118.4 241.4 106.9 242.2 118.4 243.1 110.1 244.0 118.4 244.7 107.9 245.3 115.3 246.2 106.6 247.2 118.4 247.8 107.1 248.3 118.4 249.4 108.4 250.4 118.4" stroke="#7373fa" stroke-width="0.6" fill="none" stroke-linejoin="round"/></g>
<text x="35.6" y="73" font-size="10" text-anchor="end">0</text>
<text x="35.6" y="92.92" font-size="10" text-anchor="end"><tspan dy="-0.9">-</tspan><tspan dy="0.9">30</tspan></text>
<text x="35.6" y="112.85" font-size="10" text-anchor="end"><tspan dy="-0.9">-</tspan><tspan dy="0.9">60</tspan></text>
<text x="197.2" y="82.7" font-size="11.5">2 kHz</text>
<path d="M91.92 124.6V164.45M144.65 124.6V164.45M197.37 124.6V164.45M39.2 144.52H250.1" stroke="#c4c4c4" stroke-width="0.8" stroke-dasharray="1 1" fill="none"/>
<path d="M91.92 124.6v2M91.92 164.45v-2M144.65 124.6v2M144.65 164.45v-2M197.37 124.6v2M197.37 164.45v-2M39.2 144.52h2M250.1 144.52h-2" stroke="#555" stroke-width="0.8" fill="none"/>
<path d="M38.7 124.6H250.6M38.7 164.45H250.6" stroke="#555" stroke-width="1" fill="none"/>
<path d="M39.2 124.6V164.45M250.1 124.6V164.45" stroke="#9a9a9a" stroke-width="1.1" fill="none"/>
<path d="M39.2 126.1V164.45M250.1 126.1V164.45" stroke="#333" stroke-width="1" stroke-dasharray="1 2" fill="none"/>
<g clip-path="url(#c02)"><path d="M40.0 174.4 40.1 124.6 40.5 129.9 40.9 136.6 41.2 147.8 41.5 157.7 41.9 164.5 42.7 156.8 43.5 160.0 44.2 136.8 45.0 162.4 45.8 156.8 46.6 165.4 47.3 155.4 48.1 172.4 48.7 157.8 49.4 163.4 49.8 158.1 50.3 167.1 51.0 156.4 51.8 160.3 52.6 155.7 53.4 172.9 53.9 168.8 54.4 174.4 54.8 158.4 55.1 168.0 55.5 159.9 55.9 165.2 56.4 156.4 57.0 174.4 57.3 160.3 57.5 174.4 57.9 157.9 58.3 167.2 58.8 154.2 59.3 156.0 59.7 155.2 60.1 155.5 60.7 148.0 61.4 161.9 61.8 147.2 62.1 157.0 62.4 146.3 62.8 159.4 63.1 156.4 63.4 155.6 64.2 146.6 65.0 154.5 65.8 144.9 66.6 174.4 67.4 143.9 68.2 158.2 68.8 144.4 69.4 157.5 70.0 147.6 70.6 160.8 71.2 149.2 71.8 158.8 72.5 149.2 73.2 174.4 73.8 146.5 74.5 150.5 75.0 154.6 75.4 164.0 75.9 155.8 76.3 161.6 76.6 149.7 76.9 165.3 77.4 148.9 77.8 166.1 78.2 148.6 78.6 158.7 79.4 147.4 80.2 157.0 80.7 147.6 81.2 174.4 81.9 152.8 82.5 167.3 83.0 149.1 83.4 174.4 83.9 151.5 84.4 156.6 85.1 146.3 85.7 156.4 86.2 150.1 86.6 166.6 87.1 148.9 87.6 168.7 87.9 160.6 88.1 156.2 88.7 149.9 89.3 159.3 89.8 147.2 90.2 174.4 90.6 151.7 91.1 169.7 91.7 158.0 92.3 158.5 93.0 160.2 93.8 164.1 94.1 152.5 94.5 163.5 95.2 154.7 95.9 174.4 96.4 153.4 96.9 162.4 97.4 158.4 97.9 160.8 98.2 159.1 98.5 162.8 98.8 150.5 99.8 174.4 100.6 154.9 101.5 164.2 102.1 161.6 102.7 174.4 103.2 154.3 103.7 173.2 104.4 157.2 105.1 165.0 105.8 160.3 106.6 169.0 107.1 156.8 107.5 174.4 108.1 158.5 108.7 166.0 109.2 162.2 109.8 166.6 110.5 156.2 111.2 165.6 111.6 155.9 111.9 174.1 112.2 156.4 112.5 166.4 113.0 156.7 113.6 173.3 114.2 157.0 114.8 166.7 115.5 158.5 116.2 162.8 116.7 156.0 117.3 162.7 118.0 156.6 118.6 166.6 119.0 156.0 119.4 167.0 120.0 159.1 120.6 174.4 121.3 159.3 122.0 164.7 122.4 157.4 122.8 161.3 123.3 157.9 123.8 166.4 124.5 157.1 125.2 170.9 126.0 156.2 126.7 167.6 127.2 161.9 127.7 171.4 128.5 156.6 129.4 173.8 129.7 156.7 130.1 169.0 130.4 157.7 130.7 174.4 131.4 158.5 132.2 168.6 132.6 162.7 132.9 164.1 133.4 160.2 133.8 166.4 134.6 158.5 135.3 174.2 136.0 160.0 136.7 171.3 137.2 158.7 137.6 174.4 138.3 159.8 139.0 174.4 139.7 163.7 140.4 174.4 141.2 168.3 142.0 172.0 142.6 165.3 143.3 169.1 143.8 161.2 144.3 173.1 145.0 165.1 145.6 174.4 146.4 161.2 147.2 165.8 147.7 162.8 148.2 174.4 148.9 160.8 149.6 172.1 150.4 162.1 151.2 167.4 151.9 160.2 152.5 173.1 153.1 162.5 153.8 174.4 154.5 162.6 155.3 171.4 155.9 162.6 156.4 174.4 156.8 165.8 157.2 173.9 157.9 165.6 158.7 168.2 159.3 164.3 159.9 174.4 160.7 163.3 161.5 174.4 162.1 168.8 162.8 174.4 163.4 172.8 163.9 174.4 164.7 164.4 165.5 174.4 166.3 166.7 167.1 174.4 167.7 165.8 168.3 167.9 168.5 166.0 168.8 174.4 169.5 163.5 170.2 174.4 170.6 161.2 170.9 174.4 171.8 163.0 172.6 168.0 173.1 161.3 173.6 174.4 174.1 162.1 174.7 174.4 175.4 161.2 176.2 174.4 176.9 161.4 177.6 174.4 178.2 161.4 178.8 173.0 179.1 161.5 179.4 172.4 180.1 163.2 180.8 169.0 181.5 166.0 182.2 171.4 182.9 163.5 183.6 174.4 183.8 164.6 184.1 174.4 184.7 166.4 185.2 174.4 186.0 166.7 186.7 174.0 187.3 165.9 187.9 174.4 188.3 170.3 188.7 174.4 189.3 166.9 189.8 174.4 190.2 172.3 190.5 170.4 190.8 170.4 191.0 174.4 191.5 166.2 191.9 173.5 192.3 166.3 192.8 169.7 193.2 169.2 193.6 174.4 194.3 171.4 194.9 174.4 195.5 165.0 196.1 173.9 196.6 163.8 197.1 171.4 197.7 166.0 198.3 173.5 199.1 168.2 199.9 174.4 200.6 164.8 201.3 171.9 202.1 169.2 202.9 170.6 203.4 168.8 203.8 174.4 204.5 164.9 205.3 174.4 205.6 164.9 206.0 174.4 206.6 166.3 207.1 173.0 207.5 166.2 207.8 174.4 208.3 167.9 208.8 174.4 209.6 165.5 210.4 174.4 210.9 167.4 211.5 174.4 212.0 167.5 212.4 174.4 213.0 165.3 213.6 174.4 214.3 174.4 215.1 174.4 215.5 168.8 215.9 173.3 216.3 168.6 216.8 174.4 217.3 165.4 217.7 173.9 218.1 166.4 218.4 174.4 218.9 171.0 219.4 174.4 219.7 166.1 220.1 172.2 220.9 165.0 221.7 173.9 222.0 165.9 222.3 174.4 223.1 166.8 223.9 174.4 224.7 171.5 225.5 173.7 226.0 165.7 226.5 172.4 227.0 165.7 227.6 174.4 227.9 166.4 228.2 174.4 228.9 168.5 229.6 174.4 230.4 166.9 231.2 174.4 231.9 169.3 232.6 174.4 233.4 166.8 234.3 174.4 234.5 170.0 234.8 174.4 235.4 171.7 236.0 174.4 236.3 166.1 236.7 174.4 237.0 166.4 237.3 174.4 237.8 167.8 238.2 174.4 239.0 169.8 239.8 174.4 240.5 168.5 241.1 174.3 241.9 166.6 242.6 174.4 243.3 168.5 244.0 174.4 244.7 168.2 245.4 174.4 245.8 169.7 246.3 174.4 246.6 168.7 247.0 174.4 247.3 171.9 247.6 174.4 248.2 170.2 248.8 174.4 249.1 174.4 249.5 174.4 249.9 167.7 250.4 174.4" stroke="#ff0000" stroke-width="0.7" fill="none" stroke-linejoin="round"/><path d="M39.2 144.5 40.8 144.9 42.4 150.8 43.2 147.3 44.1 158.4 45.5 146.2 47.0 174.4 47.6 148.2 48.2 168.9 49.7 152.5 51.2 167.0 51.8 150.8 52.5 171.3 53.5 152.0 54.4 174.4 55.0 150.3 55.6 164.9 56.3 150.8 57.1 174.4 57.8 150.5 58.5 174.4 60.0 150.5 61.6 165.4 62.8 151.2 64.1 160.2 65.1 155.7 66.1 174.4 67.0 153.7 67.8 170.5 69.5 151.0 71.1 158.2 72.1 152.7 73.1 171.5 74.0 151.4 74.8 163.1 75.9 157.2 77.1 172.9 78.3 153.3 79.5 174.3 80.7 153.6 81.9 174.4 82.5 153.6 83.2 169.5 84.2 154.1 85.2 174.4 85.9 153.5 86.5 171.9 87.7 154.4 88.9 170.0 89.5 154.2 90.2 171.0 91.6 155.0 93.0 166.4 94.0 154.3 95.0 161.4 96.1 153.9 97.2 174.4 98.1 153.1 99.0 174.4 100.6 153.7 102.2 162.2 102.8 157.6 103.4 164.1 104.1 153.9 104.7 174.4 105.7 155.4 106.8 174.3 107.9 155.6 108.9 170.1 110.5 156.5 112.0 174.4 113.3 155.3 114.7 174.0 115.8 156.2 117.0 171.6 118.5 154.9 120.0 174.4 120.8 156.1 121.6 169.3 122.6 156.5 123.5 174.4 124.4 158.6 125.3 174.4 126.8 156.2 128.4 164.3 129.4 156.5 130.3 174.4 131.9 156.3 133.5 172.2 135.0 156.7 136.5 165.6 137.7 157.0 138.8 163.7 140.1 156.8 141.4 174.4 142.0 158.4 142.6 174.4 143.3 157.4 143.9 174.4 145.5 158.6 147.1 171.2 148.5 160.0 149.9 174.4 151.2 159.0 152.5 174.4 154.1 158.5 155.6 174.4 156.3 158.3 157.1 174.4 158.1 157.5 159.1 173.8 160.7 157.5 162.3 169.5 163.8 158.2 165.3 174.4 166.2 158.3 167.1 172.4 167.8 159.5 168.5 171.3 169.9 161.0 171.4 174.4 172.6 161.8 173.8 174.4 174.6 160.5 175.5 171.3 176.1 161.7 176.8 174.4 177.9 161.0 179.0 174.4 179.7 161.2 180.5 174.4 181.2 161.1 181.9 174.4 182.8 159.7 183.7 174.4 184.3 167.9 184.9 174.4 186.2 161.2 187.5 174.4 188.6 166.7 189.7 174.4 191.2 161.4 192.7 173.8 193.6 163.4 194.5 174.2 195.1 163.2 195.7 174.4 196.9 163.0 198.1 174.4 199.6 162.2 201.0 174.4 202.2 163.2 203.5 174.4 204.4 163.1 205.3 174.4 206.1 163.0 206.9 174.4 208.0 162.5 209.1 174.4 210.5 163.2 212.0 174.4 213.5 165.5 215.1 174.4 215.8 162.2 216.6 172.2 217.3 163.2 218.0 174.4 218.9 162.8 219.8 174.4 220.9 162.2 222.0 174.4 222.8 166.2 223.6 174.4 224.8 164.9 226.1 174.4 227.3 163.9 228.4 174.4 229.2 163.8 230.1 174.4 231.4 163.2 232.7 174.4 233.9 164.6 235.0 174.4 235.9 164.8 236.8 174.2 238.1 164.0 239.4 174.4 240.0 164.4 240.6 174.4 241.2 166.1 241.8 174.4 243.1 162.8 244.4 174.4 245.3 163.0 246.1 172.6 247.0 165.3 247.9 174.4 249.2 163.9 250.5 174.4" stroke="#64c864" stroke-width="0.7" fill="none" stroke-linejoin="round"/><path d="M39.2 143.2 40.3 145.1 41.4 154.3 42.6 147.7 43.8 174.4 44.4 148.0 45.1 174.4 45.8 156.0 46.6 163.2 48.2 149.7 49.8 159.5 51.4 150.0 52.9 174.4 53.5 150.6 54.0 157.9 54.7 156.0 55.3 169.6 56.0 152.4 56.6 165.1 57.9 151.0 59.1 174.4 60.2 150.7 61.4 171.1 62.2 151.6 63.0 174.4 64.3 149.3 65.7 169.3 66.2 149.0 66.8 169.7 68.3 149.8 69.7 174.2 70.6 150.8 71.5 162.9 72.4 152.1 73.3 160.6 74.3 151.5 75.3 165.1 76.1 153.7 76.9 174.4 77.7 151.9 78.4 174.3 79.9 151.2 81.3 171.1 82.2 154.9 83.1 170.2 84.0 155.3 85.0 160.2 86.0 156.7 87.0 166.8 88.6 154.4 90.2 174.4 91.8 153.8 93.3 171.5 94.5 154.1 95.6 159.9 96.4 154.2 97.2 166.3 98.2 153.4 99.3 174.4 100.0 154.2 100.8 173.8 101.8 154.9 102.9 168.7 104.4 156.5 106.0 166.4 107.0 156.3 108.0 174.4 109.1 155.5 110.3 165.8 111.4 156.7 112.5 171.9 113.5 154.5 114.5 174.4 115.9 155.4 117.4 174.4 118.1 155.2 118.9 174.4 120.0 154.9 121.1 164.5 121.9 156.6 122.8 163.1 124.1 159.6 125.5 174.4 126.3 157.8 127.0 173.2 128.3 162.7 129.5 171.5 130.3 158.4 131.1 170.6 132.0 157.9 133.0 165.9 134.0 157.5 135.1 166.8 135.7 157.7 136.2 169.3 137.7 157.2 139.1 168.9 139.8 156.7 140.5 174.4 141.1 157.1 141.7 169.9 142.3 156.5 142.9 168.8 143.6 159.1 144.3 174.4 145.6 159.6 146.9 174.4 148.0 158.3 149.1 174.4 150.4 157.6 151.7 170.7 153.2 157.5 154.7 174.4 155.7 161.0 156.7 168.2 157.8 157.5 159.0 174.4 160.4 159.2 161.7 174.4 163.1 159.1 164.6 169.7 166.1 161.2 167.5 174.4 168.8 162.7 170.0 174.4 170.7 161.0 171.4 174.4 172.2 162.7 173.0 174.4 173.6 160.8 174.2 174.4 175.3 161.4 176.4 174.4 177.7 161.0 178.9 174.4 180.4 166.2 181.9 174.4 182.6 161.1 183.2 174.4 184.4 164.0 185.6 174.4 186.1 162.4 186.7 170.5 187.4 165.1 188.2 170.9 188.8 162.8 189.3 174.4 190.3 164.0 191.3 174.4 192.6 161.2 193.8 174.4 194.7 160.4 195.5 172.6 196.3 160.0 197.0 174.4 198.5 160.8 200.1 174.4 201.2 162.0 202.3 174.4 203.2 162.4 204.1 169.3 205.0 162.8 205.9 174.4 207.4 162.8 208.9 174.4 209.9 163.6 210.9 174.4 212.0 163.6 213.0 174.4 214.1 164.2 215.2 174.4 216.7 162.9 218.3 174.4 219.1 162.3 219.8 174.4 221.3 162.7 222.8 174.4 223.4 163.7 224.0 174.4 225.1 162.7 226.2 174.4 227.1 163.4 228.0 174.4 229.1 165.0 230.2 174.4 231.4 163.4 232.7 174.4 233.9 164.1 235.2 174.4 236.3 163.6 237.4 174.4 237.9 164.3 238.5 174.4 239.7 165.6 241.0 174.4 241.7 164.3 242.5 174.4 243.4 165.5 244.4 174.4 245.6 163.6 246.9 174.4 248.4 164.4 249.9 174.4 251.4 165.7 252.8 174.4" stroke="#7373fa" stroke-width="0.7" fill="none" stroke-linejoin="round"/></g>
<text x="35.6" y="129" font-size="10" text-anchor="end">0</text>
<text x="35.6" y="148.92" font-size="10" text-anchor="end"><tspan dy="-0.9">-</tspan><tspan dy="0.9">30</tspan></text>
<text x="35.6" y="168.85" font-size="10" text-anchor="end"><tspan dy="-0.9">-</tspan><tspan dy="0.9">60</tspan></text>
<text x="197.2" y="138.7" font-size="11.5">1 kHz</text>
<path d="M91.92 180.5V220.35M144.65 180.5V220.35M197.37 180.5V220.35M39.2 200.43H250.1" stroke="#c4c4c4" stroke-width="0.8" stroke-dasharray="1 1" fill="none"/>
<path d="M91.92 180.5v2M91.92 220.35v-2M144.65 180.5v2M144.65 220.35v-2M197.37 180.5v2M197.37 220.35v-2M39.2 200.43h2M250.1 200.43h-2" stroke="#555" stroke-width="0.8" fill="none"/>
<path d="M38.7 180.5H250.6M38.7 220.35H250.6" stroke="#555" stroke-width="1" fill="none"/>
<path d="M39.2 180.5V220.35M250.1 180.5V220.35" stroke="#9a9a9a" stroke-width="1.1" fill="none"/>
<path d="M39.2 182V220.35M250.1 182V220.35" stroke="#333" stroke-width="1" stroke-dasharray="1 2" fill="none"/>
<g clip-path="url(#c03)"><path d="M39.4 230.3 39.7 193.8 40.1 183.2 40.5 181.2 40.9 181.8 41.3 187.1 41.8 192.4 42.3 191.8 42.8 195.1 43.3 201.8 43.8 197.8 44.5 194.3 45.0 196.4 45.5 200.4 46.7 204.4 48.0 230.3 48.5 227.4 49.0 224.0 49.7 222.8 50.3 224.0 50.8 227.4 51.3 230.3 52.1 214.3 52.9 210.9 54.0 209.7 54.1 210.9 54.2 214.3 54.4 226.9 54.7 222.1 55.1 218.8 55.6 217.6 56.1 218.8 56.4 222.1 56.8 226.9 57.0 218.4 57.3 218.4 57.7 218.4 58.0 218.4 58.3 218.4 58.5 218.4 59.1 207.4 59.6 204.1 60.4 202.9 60.4 204.1 60.4 207.4 60.5 230.3 60.9 212.9 61.4 209.5 62.1 208.3 62.7 209.5 63.2 212.9 63.7 214.2 64.2 205.0 64.8 201.6 65.6 200.4 66.1 201.6 66.4 205.0 66.8 221.1 67.8 207.4 68.7 204.1 70.0 202.9 70.1 204.1 70.2 207.4 70.3 212.6 70.7 211.8 71.2 208.4 71.8 207.2 72.5 208.4 72.9 211.8 73.4 214.2 73.6 206.2 73.8 202.9 74.0 201.7 75.1 202.9 76.0 206.2 76.9 224.7 77.3 213.3 77.8 210.0 78.5 208.8 79.1 210.0 79.6 213.3 80.1 222.9 80.5 206.8 80.9 203.5 81.4 202.3 82.0 203.5 82.5 206.8 82.9 216.4 83.3 217.6 83.7 216.9 84.3 215.7 84.8 216.9 85.3 217.6 85.7 217.6 85.9 218.6 86.2 215.2 86.5 214.0 86.8 215.2 87.0 218.6 87.3 218.6 87.6 218.8 87.8 216.2 88.2 215.0 88.5 216.2 88.8 218.8 89.1 218.8 89.4 208.7 89.7 205.4 90.2 204.1 90.7 205.4 91.0 208.7 91.4 230.3 91.7 215.8 92.1 212.5 92.6 211.3 93.1 212.5 93.5 215.8 93.9 218.3 94.3 217.0 94.6 213.6 95.2 212.4 95.7 213.6 96.1 217.0 96.4 230.3 97.1 211.6 97.8 208.3 98.8 207.1 99.3 208.3 99.7 211.6 100.2 230.3 100.5 216.9 100.8 213.6 101.2 212.4 101.6 213.6 101.9 216.9 102.3 230.3 102.3 213.0 102.4 209.6 102.5 208.4 103.5 209.6 104.4 213.0 105.2 221.5 105.4 219.4 105.6 216.0 105.8 214.8 106.1 216.0 106.3 219.4 106.5 230.3 106.8 217.0 107.2 213.7 107.6 212.4 108.1 213.7 108.4 217.0 108.7 227.7 109.1 216.2 109.4 212.8 109.9 211.6 110.3 212.8 110.6 216.2 111.0 230.3 111.2 217.1 111.4 213.7 111.7 212.5 112.0 213.7 112.3 217.1 112.5 223.1 112.7 217.2 112.9 213.9 113.1 212.7 113.4 213.9 113.6 217.2 113.7 219.7 114.1 219.5 114.4 216.2 114.8 215.0 115.2 216.2 115.6 219.5 115.9 227.4 116.4 216.5 117.0 213.2 117.7 212.0 118.5 213.2 119.0 216.5 119.6 230.3 119.8 213.6 120.1 210.3 120.4 209.1 120.6 210.3 120.8 213.6 120.9 220.9 121.2 217.6 121.4 214.3 121.7 213.1 122.0 214.3 122.2 217.6 122.4 218.3 122.8 219.0 123.2 215.7 123.8 214.5 124.3 215.7 124.7 219.0 125.1 230.3 125.6 224.5 126.1 221.2 126.7 219.9 127.4 221.2 127.9 224.5 128.4 230.3 128.8 223.5 129.3 220.2 129.9 218.9 130.6 220.2 131.0 223.5 131.5 230.3 131.9 222.0 132.3 218.6 132.9 217.4 133.4 218.6 133.9 222.0 134.3 229.2 134.7 221.7 135.1 219.6 135.7 218.4 136.3 219.6 136.7 221.7 137.1 221.7 137.6 219.3 138.1 216.0 138.8 214.8 139.4 216.0 139.9 219.3 140.4 222.4 140.6 220.6 140.8 217.3 141.1 216.0 141.4 217.3 141.6 220.6 141.8 230.3 142.0 220.5 142.3 217.2 142.7 215.9 143.0 217.2 143.3 220.5 143.6 230.3 144.1 221.1 144.7 217.8 145.4 216.6 146.2 217.8 146.7 221.1 147.3 230.3 147.7 221.1 148.2 217.8 148.8 216.6 149.4 217.8 149.9 221.1 150.3 230.3 150.8 221.9 151.3 218.5 151.9 217.3 152.6 218.5 153.0 221.9 153.5 227.1 153.8 220.5 154.1 217.2 154.5 215.9 154.9 217.2 155.3 220.5 155.6 230.3 156.0 221.1 156.5 217.7 157.2 216.5 157.8 217.7 158.3 221.1 158.8 227.0 159.0 221.7 159.2 218.4 159.6 217.2 159.9 218.4 160.1 221.7 160.4 228.5 160.8 221.9 161.3 218.6 161.9 217.4 162.5 218.6 162.9 221.9 163.4 225.7 163.6 221.7 163.9 218.3 164.3 217.1 164.7 218.3 165.0 221.7 165.3 230.3 165.7 221.9 166.1 218.6 166.7 217.3 167.3 218.6 167.7 221.9 168.1 223.5 168.4 223.0 168.7 219.7 169.1 218.4 169.5 219.7 169.8 223.0 170.1 230.3 170.3 222.1 170.6 218.8 170.9 217.6 171.2 218.8 171.5 222.1 171.7 230.3 172.0 223.9 172.4 220.5 172.8 219.3 173.2 220.5 173.5 223.9 173.8 230.3 174.1 225.8 174.4 222.5 174.7 221.3 175.1 222.5 175.3 225.8 175.6 230.3 175.8 223.6 176.0 220.3 176.2 219.0 176.5 220.3 176.7 223.6 176.9 230.3 177.2 223.8 177.5 220.4 178.0 219.2 178.4 220.4 178.7 223.8 179.0 227.7 179.5 229.4 180.0 226.1 180.7 224.9 181.4 226.1 181.9 229.4 182.4 230.3 182.7 222.6 183.0 219.3 183.4 218.0 183.8 219.3 184.1 222.6 184.4 230.3 184.8 221.9 185.1 218.6 185.6 217.4 186.0 218.6 186.4 221.9 186.7 224.4 187.0 222.6 187.3 219.3 187.8 218.1 188.2 219.3 188.5 222.6 188.8 230.3 189.3 223.9 189.8 220.5 190.5 219.3 191.1 220.5 191.6 223.9 192.1 230.3 192.6 221.7 193.1 218.4 193.8 217.1 194.4 218.4 194.9 221.7 195.4 230.3 195.7 227.4 196.0 224.0 196.3 222.8 196.7 224.0 197.0 227.4 197.3 230.3 197.5 225.1 197.8 222.5 198.1 221.3 198.5 222.5 198.8 225.1 199.0 225.1 199.5 224.8 199.9 221.4 200.5 220.2 201.1 221.4 201.6 224.8 202.0 230.3 202.3 225.0 202.7 221.7 203.1 220.5 203.5 221.7 203.9 225.0 204.2 230.3 204.4 224.8 204.6 221.5 204.9 220.2 205.2 221.5 205.5 224.8 205.7 225.3 205.9 223.6 206.1 220.3 206.4 219.0 206.7 220.3 206.9 223.6 207.1 229.4 207.6 223.9 208.1 220.6 208.7 219.4 209.4 220.6 209.9 223.9 210.4 227.4 210.8 225.6 211.3 222.3 211.9 221.0 212.5 222.3 212.9 225.6 213.4 230.3 213.8 225.5 214.2 222.2 214.7 220.9 215.3 222.2 215.7 225.5 216.1 230.3 216.6 228.2 217.1 225.1 217.7 223.9 218.3 225.1 218.8 228.2 219.3 228.2 219.7 225.6 220.1 222.3 220.7 221.1 221.2 222.3 221.6 225.6 222.0 230.3 222.4 225.2 222.8 221.8 223.3 220.6 223.8 221.8 224.2 225.2 224.6 229.5 224.8 223.7 225.1 220.4 225.4 219.2 225.7 220.4 225.9 223.7 226.1 227.2 226.4 225.6 226.7 222.3 227.1 221.1 227.5 222.3 227.8 225.6 228.1 230.3 228.4 228.0 228.7 224.7 229.1 223.5 229.5 224.7 229.8 228.0 230.1 230.3 230.3 226.0 230.5 222.6 230.8 221.4 231.1 222.6 231.4 226.0 231.6 230.3 232.0 227.2 232.3 223.8 232.8 222.6 233.3 223.8 233.7 227.2 234.1 230.3 234.4 226.4 234.8 223.1 235.3 221.9 235.7 223.1 236.1 226.4 236.5 230.3 237.0 225.4 237.5 222.1 238.3 220.9 239.0 222.1 239.5 225.4 240.1 230.3 240.3 229.5 240.6 226.1 240.9 224.9 241.2 226.1 241.4 229.5 241.7 230.3 241.9 227.4 242.1 224.1 242.4 222.9 242.7 224.1 242.9 227.4 243.1 230.3 243.3 227.1 243.5 223.8 243.8 222.5 244.1 223.8 244.3 227.1 244.5 230.3 244.8 227.6 245.2 224.3 245.6 223.1 246.1 224.3 246.4 227.6 246.8 230.3 247.1 229.1 247.5 225.7 248.0 224.5 248.5 225.7 248.8 229.1 249.2 230.3 249.4 230.1 249.6 226.8 249.9 225.6 250.1 226.8 250.3 230.1 250.5 230.3" stroke="#ff0000" stroke-width="0.85" fill="none" stroke-linejoin="round"/><path d="M39.2 201.8 39.6 206.9 40.0 203.5 40.5 202.3 41.0 203.5 41.4 206.9 41.8 230.3 42.1 210.8 42.4 207.4 42.7 206.2 43.1 207.4 43.4 210.8 43.6 230.3 43.8 207.2 44.0 203.8 44.3 202.6 44.6 203.8 44.8 207.2 45.0 213.0 45.2 207.0 45.5 203.7 45.9 202.4 46.2 203.7 46.5 207.0 46.8 212.5 47.0 211.7 47.3 208.4 47.6 207.2 47.9 208.4 48.1 211.7 48.4 214.1 48.6 208.8 48.8 205.5 49.1 204.3 49.4 205.5 49.7 208.8 49.9 209.5 50.4 209.2 50.8 205.8 51.5 204.6 52.1 205.8 52.6 209.2 53.1 220.8 53.5 209.1 54.0 205.8 54.6 204.5 55.2 205.8 55.6 209.1 56.1 214.6 56.3 206.7 56.6 203.3 56.9 202.1 57.3 203.3 57.5 206.7 57.8 230.3 58.2 205.0 58.6 201.6 59.1 200.4 59.6 201.6 60.0 205.0 60.4 230.3 60.9 208.9 61.5 205.6 62.2 204.4 62.9 205.6 63.4 208.9 63.9 218.7 64.3 207.7 64.6 204.4 65.0 203.2 65.5 204.4 65.8 207.7 66.2 217.6 66.6 210.4 67.1 207.0 67.7 205.8 68.3 207.0 68.8 210.4 69.2 217.7 69.7 209.7 70.2 206.4 70.8 205.1 71.5 206.4 72.0 209.7 72.4 230.3 72.9 211.9 73.4 208.6 74.0 207.4 74.6 208.6 75.1 211.9 75.5 224.0 75.8 211.3 76.0 208.0 76.3 206.8 76.7 208.0 76.9 211.3 77.1 219.5 77.5 211.9 77.9 208.5 78.3 207.3 78.8 208.5 79.2 211.9 79.5 224.3 80.1 212.9 80.7 209.6 81.4 208.3 82.1 209.6 82.7 212.9 83.2 230.3 83.5 214.1 83.7 210.7 84.0 209.5 84.2 210.7 84.4 214.1 84.7 224.1 85.2 216.8 85.7 213.5 86.3 212.2 87.0 213.5 87.5 216.8 88.0 224.9 88.3 219.1 88.5 215.8 88.8 214.5 89.2 215.8 89.4 219.1 89.7 230.3 90.0 215.1 90.4 213.5 90.9 212.3 91.4 213.5 91.8 215.1 92.2 215.1 92.7 215.8 93.3 212.4 94.1 211.2 94.8 212.4 95.4 215.8 95.9 230.3 96.3 217.4 96.7 214.1 97.3 212.9 97.8 214.1 98.2 217.4 98.6 222.8 98.9 215.0 99.3 211.7 99.7 210.4 100.2 211.7 100.5 215.0 100.8 224.5 101.3 213.8 101.8 210.5 102.5 209.2 103.2 210.5 103.7 213.8 104.2 223.3 104.4 214.7 104.7 211.4 105.0 210.2 105.3 211.4 105.6 214.7 105.9 224.4 106.1 215.3 106.4 212.0 106.7 210.8 107.1 212.0 107.3 215.3 107.6 222.5 107.8 216.5 108.1 213.1 108.5 211.9 108.8 213.1 109.1 216.5 109.3 220.7 109.7 217.8 110.0 214.5 110.4 213.3 110.8 214.5 111.1 217.8 111.4 227.0 111.6 216.8 111.8 213.5 112.1 212.2 112.4 213.5 112.6 216.8 112.8 223.9 113.0 219.8 113.3 216.4 113.7 215.2 114.0 216.4 114.3 219.8 114.5 226.1 114.9 216.9 115.3 213.6 115.8 212.4 116.4 213.6 116.8 216.9 117.2 227.1 117.5 216.2 117.8 212.9 118.2 211.7 118.6 212.9 118.9 216.2 119.1 223.2 119.6 215.4 120.1 212.0 120.7 210.8 121.3 212.0 121.8 215.4 122.3 230.3 122.5 216.3 122.8 213.0 123.1 211.7 123.4 213.0 123.6 216.3 123.9 225.8 124.3 219.2 124.6 215.8 125.2 214.6 125.7 215.8 126.1 219.2 126.5 230.3 126.9 220.9 127.2 217.5 127.7 216.3 128.2 217.5 128.5 220.9 128.9 230.3 129.2 218.3 129.6 215.0 130.1 213.8 130.5 215.0 130.9 218.3 131.2 230.3 131.4 220.6 131.7 217.3 131.9 216.0 132.2 217.3 132.4 220.6 132.6 230.3 133.1 220.2 133.5 216.9 134.1 215.6 134.7 216.9 135.1 220.2 135.6 226.6 136.1 216.2 136.5 212.9 137.1 211.7 137.7 212.9 138.2 216.2 138.6 230.3 139.0 216.2 139.4 212.9 140.0 211.7 140.5 212.9 140.9 216.2 141.3 226.8 141.7 215.7 142.0 212.4 142.5 211.1 143.1 212.4 143.4 215.7 143.8 220.1 144.2 220.2 144.6 216.9 145.2 215.7 145.8 216.9 146.2 220.2 146.6 222.1 147.0 216.6 147.3 213.3 147.8 212.1 148.3 213.3 148.6 216.6 149.0 230.3 149.2 218.6 149.5 215.2 149.9 214.0 150.3 215.2 150.5 218.6 150.8 230.3 151.0 219.8 151.3 216.5 151.6 215.3 151.9 216.5 152.2 219.8 152.4 222.1 152.8 222.3 153.3 219.0 153.9 217.7 154.5 219.0 154.9 222.3 155.3 226.4 155.9 225.3 156.4 221.9 157.1 220.7 157.8 221.9 158.4 225.3 158.9 230.3 159.4 220.7 159.9 218.4 160.6 217.1 161.3 218.4 161.8 220.7 162.4 220.7 162.6 221.4 162.9 218.1 163.3 216.9 163.7 218.1 164.0 221.4 164.3 221.7 164.8 222.0 165.3 218.6 165.9 217.4 166.6 218.6 167.1 222.0 167.6 229.7 167.8 226.9 168.0 223.6 168.3 222.3 168.7 223.6 168.9 226.9 169.1 228.6 169.4 222.2 169.7 218.9 170.1 217.7 170.5 218.9 170.8 222.2 171.1 227.6 171.3 221.6 171.6 218.3 171.9 217.0 172.3 218.3 172.5 221.6 172.8 230.3 173.2 220.5 173.7 217.2 174.3 216.0 174.9 217.2 175.4 220.5 175.8 227.9 176.3 222.8 176.8 219.5 177.4 218.3 178.1 219.5 178.5 222.8 179.0 230.3 179.4 225.3 179.7 222.0 180.1 220.8 180.6 222.0 180.9 225.3 181.3 228.5 181.5 220.4 181.8 217.1 182.1 215.8 182.4 217.1 182.7 220.4 182.9 229.9 183.3 221.2 183.7 217.8 184.2 216.6 184.6 217.8 185.0 221.2 185.4 230.2 185.7 220.5 185.9 217.1 186.3 215.9 186.7 217.1 187.0 220.5 187.3 230.3 187.8 223.5 188.3 220.2 189.0 218.9 189.7 220.2 190.2 223.5 190.7 224.4 191.0 223.4 191.4 220.6 191.9 219.4 192.4 220.6 192.7 223.4 193.1 223.4 193.6 224.0 194.0 220.6 194.7 219.4 195.3 220.6 195.7 224.0 196.2 230.3 196.4 223.9 196.6 220.6 196.9 219.3 197.2 220.6 197.5 223.9 197.7 227.8 198.1 225.7 198.5 222.4 199.1 221.2 199.7 222.4 200.1 225.7 200.6 229.0 200.8 227.6 201.1 224.3 201.5 223.1 201.9 224.3 202.2 227.6 202.5 230.3 202.8 225.1 203.1 221.8 203.6 220.6 204.0 221.8 204.3 225.1 204.6 230.3 204.9 224.1 205.1 224.1 205.5 223.3 205.9 224.1 206.2 224.1 206.4 224.1 207.0 224.3 207.5 220.9 208.2 219.7 208.9 220.9 209.4 224.3 210.0 230.3 210.4 224.8 210.9 221.5 211.5 220.3 212.1 221.5 212.5 224.8 213.0 229.0 213.4 224.1 213.8 220.8 214.4 219.6 214.9 220.8 215.3 224.1 215.8 227.4 216.1 227.0 216.4 224.3 216.8 223.1 217.3 224.3 217.6 227.0 217.9 227.0 218.4 226.8 218.8 223.4 219.5 222.2 220.1 223.4 220.5 226.8 221.0 230.3 221.4 225.1 221.8 221.7 222.3 220.5 222.8 221.7 223.2 225.1 223.6 230.3 224.1 223.6 224.6 220.3 225.3 219.0 225.9 220.3 226.5 223.6 227.0 230.3 227.3 223.5 227.6 220.2 228.0 219.0 228.5 220.2 228.8 223.5 229.1 230.3 229.5 223.2 229.9 219.9 230.5 218.6 231.1 219.9 231.5 223.2 231.9 230.3 232.1 223.9 232.3 220.5 232.5 219.3 232.8 220.5 233.0 223.9 233.2 230.3 233.7 226.9 234.2 226.2 234.9 224.9 235.7 226.2 236.2 226.9 236.7 226.9 237.0 227.6 237.2 224.3 237.6 223.1 237.9 224.3 238.1 227.6 238.4 230.3 238.9 230.3 239.4 229.0 240.1 227.7 240.9 229.0 241.4 230.3 241.9 230.3 242.1 226.8 242.3 226.3 242.6 225.1 242.8 226.3 243.0 226.8 243.2 226.8 243.7 229.2 244.1 225.9 244.7 224.7 245.3 225.9 245.8 229.2 246.2 230.3 246.5 230.3 246.8 230.3 247.1 229.5 247.5 230.3 247.7 230.3 248.0 230.3 248.5 225.6 249.0 222.3 249.7 221.1 250.4 222.3 250.9 225.6 251.4 230.3" stroke="#64c864" stroke-width="0.85" fill="none" stroke-linejoin="round"/><path d="M39.2 199.1 39.7 209.8 40.2 208.5 40.8 207.3 41.5 208.5 41.9 209.8 42.4 209.8 42.8 208.0 43.1 204.7 43.6 203.5 44.1 204.7 44.5 208.0 44.8 209.7 45.1 208.7 45.4 205.4 45.9 204.1 46.3 205.4 46.6 208.7 46.9 218.6 47.2 207.0 47.6 203.7 48.0 202.5 48.5 203.7 48.8 207.0 49.2 230.3 49.6 206.5 49.9 203.1 50.5 201.9 51.0 203.1 51.4 206.5 51.8 218.6 52.2 210.1 52.6 206.8 53.1 205.5 53.7 206.8 54.1 210.1 54.5 212.2 54.7 207.9 54.9 204.5 55.1 203.3 55.4 204.5 55.6 207.9 55.8 216.9 56.2 212.0 56.6 208.7 57.2 207.4 57.7 208.7 58.1 212.0 58.5 220.0 58.9 209.7 59.2 206.4 59.7 205.2 60.2 206.4 60.6 209.7 61.0 221.8 61.1 212.4 61.3 209.1 61.6 207.9 61.9 209.1 62.0 212.4 62.2 218.7 62.6 211.3 63.0 208.0 63.5 206.8 64.0 208.0 64.4 211.3 64.8 214.6 65.2 211.2 65.7 207.9 66.3 206.7 67.0 207.9 67.5 211.2 67.9 230.3 68.4 214.6 68.8 211.3 69.4 210.0 69.9 211.3 70.4 214.6 70.8 230.3 71.2 212.6 71.6 209.3 72.2 208.0 72.7 209.3 73.1 212.6 73.6 216.7 73.9 213.6 74.2 210.2 74.6 209.0 75.0 210.2 75.3 213.6 75.6 214.3 75.8 215.3 76.1 212.0 76.3 210.7 76.6 212.0 76.8 215.3 77.0 224.2 77.3 212.2 77.6 209.5 77.9 208.2 78.2 209.5 78.5 212.2 78.8 212.2 79.1 210.4 79.4 207.1 79.9 205.9 80.3 207.1 80.7 210.4 81.0 213.5 81.2 210.4 81.4 207.0 81.7 205.8 82.0 207.0 82.2 210.4 82.4 230.3 82.7 212.3 83.0 209.1 83.4 207.9 83.8 209.1 84.1 212.3 84.4 212.3 84.9 209.1 85.4 205.8 86.1 204.6 86.8 205.8 87.3 209.1 87.8 222.7 88.0 215.4 88.2 212.0 88.5 210.8 88.7 212.0 88.9 215.4 89.1 230.3 89.6 211.6 90.1 208.3 90.7 207.1 91.3 208.3 91.8 211.6 92.3 230.3 92.8 213.7 93.4 210.9 94.1 209.7 94.9 210.9 95.4 213.7 96.0 213.7 96.2 219.6 96.4 216.3 96.6 215.0 96.9 216.3 97.1 219.6 97.3 223.5 97.6 215.7 97.8 212.4 98.2 211.2 98.6 212.4 98.9 215.7 99.2 230.3 99.7 219.7 100.2 216.4 100.9 215.1 101.6 216.4 102.1 219.7 102.6 222.3 103.1 213.1 103.6 209.7 104.2 208.5 104.8 209.7 105.2 213.1 105.7 216.8 105.9 213.8 106.1 210.5 106.4 209.2 106.7 210.5 106.9 213.8 107.1 218.2 107.5 214.6 107.9 211.3 108.5 210.0 109.0 211.3 109.4 214.6 109.8 225.0 110.1 214.8 110.4 211.4 110.8 210.2 111.2 211.4 111.4 214.8 111.7 230.3 112.0 215.1 112.2 211.7 112.5 210.5 112.8 211.7 113.0 215.1 113.2 224.6 113.6 216.3 114.0 213.0 114.5 211.7 115.0 213.0 115.4 216.3 115.7 230.3 116.2 218.6 116.7 215.3 117.4 214.0 118.1 215.3 118.6 218.6 119.1 224.7 119.4 219.4 119.6 216.1 120.0 214.9 120.4 216.1 120.7 219.4 121.0 230.3 121.2 219.9 121.4 216.6 121.6 215.4 121.9 216.6 122.1 219.9 122.3 225.6 122.7 219.8 123.2 216.4 123.8 215.2 124.4 216.4 124.8 219.8 125.2 230.3 125.6 227.6 126.0 224.3 126.5 223.1 127.0 224.3 127.4 227.6 127.8 230.0 128.0 218.1 128.2 214.7 128.5 213.5 128.8 214.7 129.1 218.1 129.3 226.6 129.6 220.0 130.0 216.7 130.4 215.4 130.9 216.7 131.2 220.0 131.6 230.1 131.9 219.8 132.2 216.4 132.7 215.2 133.1 216.4 133.4 219.8 133.8 227.4 134.0 217.5 134.3 214.2 134.7 212.9 135.0 214.2 135.3 217.5 135.5 218.5 135.8 217.8 136.1 214.5 136.4 213.3 136.8 214.5 137.1 217.8 137.3 223.7 137.9 220.9 138.5 217.6 139.2 216.4 139.9 217.6 140.5 220.9 141.0 226.8 141.4 219.7 141.8 216.4 142.2 215.2 142.7 216.4 143.1 219.7 143.4 229.4 143.9 218.5 144.4 215.2 145.0 214.0 145.6 215.2 146.1 218.5 146.5 230.3 146.9 220.7 147.3 217.3 147.8 216.1 148.4 217.3 148.8 220.7 149.2 221.3 149.7 218.2 150.2 214.9 150.9 213.6 151.6 214.9 152.2 218.2 152.7 225.8 153.2 222.6 153.7 219.2 154.3 218.0 155.0 219.2 155.5 222.6 156.0 227.8 156.5 219.6 157.0 216.2 157.7 215.0 158.4 216.2 158.9 219.6 159.4 230.3 159.7 221.3 160.0 218.0 160.3 216.8 160.7 218.0 161.0 221.3 161.3 230.3 161.6 220.0 161.9 216.7 162.4 215.4 162.8 216.7 163.1 220.0 163.5 221.0 163.7 219.9 163.9 216.6 164.2 215.3 164.5 216.6 164.7 219.9 164.9 230.3 165.5 220.1 166.0 216.8 166.8 215.6 167.5 216.8 168.1 220.1 168.6 230.3 168.8 220.5 169.1 217.2 169.4 215.9 169.6 217.2 169.9 220.5 170.1 222.7 170.5 220.5 170.9 217.2 171.4 216.0 172.0 217.2 172.4 220.5 172.8 222.2 173.2 221.2 173.7 217.8 174.3 216.6 174.9 217.8 175.4 221.2 175.8 230.3 176.2 222.3 176.6 218.9 177.1 217.7 177.7 218.9 178.0 222.3 178.4 230.3 178.9 225.0 179.3 221.6 179.9 220.4 180.5 221.6 180.9 225.0 181.3 230.3 181.6 223.9 181.9 220.6 182.2 219.4 182.6 220.6 182.8 223.9 183.1 229.8 183.6 226.6 184.1 223.4 184.7 222.1 185.3 223.4 185.8 226.6 186.3 226.6 186.8 219.9 187.3 216.6 187.9 215.4 188.5 216.6 189.0 219.9 189.5 230.3 190.0 221.2 190.4 217.8 191.0 216.6 191.6 217.8 192.1 221.2 192.6 230.3 193.1 223.5 193.6 220.2 194.4 218.9 195.1 220.2 195.6 223.5 196.2 230.3 196.4 223.4 196.7 220.1 197.0 218.9 197.3 220.1 197.6 223.4 197.8 230.3 198.3 223.1 198.8 219.8 199.4 218.6 200.0 219.8 200.5 223.1 201.0 230.3 201.3 225.6 201.7 223.8 202.2 222.6 202.7 223.8 203.0 225.6 203.4 225.6 203.9 223.5 204.5 220.1 205.2 218.9 206.0 220.1 206.5 223.5 207.1 229.6 207.4 227.4 207.8 224.1 208.3 222.9 208.8 224.1 209.1 227.4 209.5 230.3 209.9 226.0 210.4 222.7 211.0 221.4 211.6 222.7 212.0 226.0 212.5 230.3 213.0 224.0 213.6 220.6 214.3 219.4 215.0 220.6 215.5 224.0 216.1 230.3 216.6 223.6 217.1 220.3 217.9 219.1 218.6 220.3 219.1 223.6 219.6 230.3 220.0 222.5 220.3 219.2 220.7 218.0 221.1 219.2 221.4 222.5 221.8 229.9 222.1 225.3 222.5 221.9 222.9 220.7 223.4 221.9 223.7 225.3 224.1 230.3 224.3 223.5 224.6 220.2 225.0 219.0 225.4 220.2 225.6 223.5 225.9 230.3 226.2 224.1 226.6 220.8 227.0 219.5 227.5 220.8 227.8 224.1 228.1 225.4 228.6 224.4 229.1 221.0 229.7 219.8 230.3 221.0 230.7 224.4 231.2 230.2 231.6 223.6 231.9 220.2 232.4 219.0 232.8 220.2 233.2 223.6 233.5 230.3 234.0 227.5 234.5 224.2 235.2 222.9 235.9 224.2 236.4 227.5 236.9 230.3 237.2 224.9 237.6 221.6 238.1 220.3 238.6 221.6 238.9 224.9 239.3 230.3 239.7 225.0 240.2 221.7 240.7 220.5 241.3 221.7 241.7 225.0 242.1 230.3 242.6 226.3 243.0 222.9 243.6 221.7 244.3 222.9 244.7 226.3 245.2 230.3 245.5 227.5 245.9 224.1 246.4 222.9 246.9 224.1 247.2 227.5 247.6 230.0 248.1 227.9 248.6 224.5 249.4 223.3 250.1 224.5 250.6 227.9 251.1 230.3" stroke="#7373fa" stroke-width="0.85" fill="none" stroke-linejoin="round"/><path d="M39.4 230.3 39.7 193.8 40.1 183.2 40.5 181.2 40.9 181.8 41.3 187.1 41.8 192.4 42.3 191.8 42.8 195.1 43.3 201.8 43.8 197.8 44.5 194.3 45.0 196.4 45.5 200.4 46.7 204.4 48.0 230.3 48.5 227.4" stroke="#ff0000" stroke-width="1.3" fill="none" stroke-linejoin="round"/></g>
<text x="35.6" y="184.9" font-size="10" text-anchor="end">0</text>
<text x="35.6" y="204.83" font-size="10" text-anchor="end"><tspan dy="-0.9">-</tspan><tspan dy="0.9">30</tspan></text>
<text x="35.6" y="224.75" font-size="10" text-anchor="end"><tspan dy="-0.9">-</tspan><tspan dy="0.9">60</tspan></text>
<text x="197.2" y="194.6" font-size="11.5">500 Hz</text>
<path d="M91.92 236.4V276.25M144.65 236.4V276.25M197.37 236.4V276.25M39.2 256.32H250.1" stroke="#c4c4c4" stroke-width="0.8" stroke-dasharray="1 1" fill="none"/>
<path d="M91.92 236.4v2M91.92 276.25v-2M144.65 236.4v2M144.65 276.25v-2M197.37 236.4v2M197.37 276.25v-2M39.2 256.32h2M250.1 256.32h-2" stroke="#555" stroke-width="0.8" fill="none"/>
<path d="M38.7 236.4H250.6M38.7 276.25H250.6" stroke="#555" stroke-width="1" fill="none"/>
<path d="M39.2 236.4V276.25M250.1 236.4V276.25" stroke="#9a9a9a" stroke-width="1.1" fill="none"/>
<path d="M39.2 237.9V276.25M250.1 237.9V276.25" stroke="#333" stroke-width="1" stroke-dasharray="1 2" fill="none"/>
<g clip-path="url(#c04)"><path d="M80.5 264.9 81.3 261.5 82.4 260.3 82.6 261.5 82.8 264.9 83.0 268.6 84.1 263.5 85.2 260.2 86.7 259.0 86.9 260.2 87.0 263.5 87.2 267.5 87.5 271.2 87.8 269.7 88.2 268.5 88.6 269.7 88.9 271.2 89.2 271.2 89.2 265.9 89.3 262.5 89.3 261.3 89.9 262.5 90.3 265.9 90.7 275.4 91.2 269.6 91.6 267.4 92.3 266.1 92.9 267.4 93.4 269.6 93.9 269.6 94.5 270.3 95.0 267.0 95.8 265.8 96.6 267.0 97.2 270.3 97.7 272.5 98.0 270.6 98.3 267.2 98.6 266.0 99.0 267.2 99.3 270.6 99.5 276.5 99.8 271.0 100.1 268.7 100.5 267.5 100.8 268.7 101.1 271.0 101.4 271.0 101.5 267.5 101.7 264.2 101.9 263.0 103.3 264.2 104.3 267.5 105.3 275.1 105.8 273.2 106.2 269.9 106.9 268.6 107.5 269.9 107.9 273.2 108.4 273.3 108.8 268.5 109.3 265.2 109.9 264.0 110.9 265.2 111.7 268.5 112.5 278.2 113.1 273.5 113.6 270.1 114.3 268.9 115.0 270.1 115.6 273.5 116.1 276.5 116.4 274.0 116.8 270.7 117.2 269.5 117.7 270.7 118.0 274.0 118.4 278.6 118.7 274.2 119.0 270.8 119.4 269.6 119.8 270.8 120.1 274.2 120.4 286.2 121.2 267.5 122.0 264.2 123.0 263.0 123.5 264.2 123.9 267.5 124.3 286.2 124.7 276.2 125.1 272.8 125.6 271.6 126.2 272.8 126.6 276.2 127.0 280.0 127.2 275.1 127.5 271.8 127.8 270.5 128.1 271.8 128.4 275.1 128.6 280.8 128.9 274.4 129.2 271.1 129.6 269.9 130.0 271.1 130.3 274.4 130.6 286.2 131.2 274.7 131.7 271.4 132.4 270.2 133.1 271.4 133.7 274.7 134.2 286.2 134.8 274.1 135.4 270.7 136.3 269.5 137.1 270.7 137.7 274.1 138.3 286.2 138.9 273.0 139.5 269.6 140.3 268.4 141.1 269.6 141.7 273.0 142.3 286.2 142.8 276.0 143.3 272.7 143.9 271.5 144.6 272.7 145.1 276.0 145.5 278.2 146.0 274.9 146.4 271.6 146.9 270.4 147.4 271.6 147.8 274.9 148.2 282.9 148.7 276.2 149.1 272.8 149.7 271.6 150.2 272.8 150.7 276.2 151.1 277.6 151.4 277.0 151.7 273.7 152.0 272.4 152.4 273.7 152.7 277.0 152.9 286.2 153.5 277.9 154.2 274.6 155.0 273.3 155.8 274.6 156.4 277.9 157.0 284.6 157.6 277.3 158.2 274.0 159.0 272.8 159.8 274.0 160.4 277.3 161.0 286.2 161.6 276.6 162.2 273.3 162.9 272.0 163.7 273.3 164.3 276.6 164.8 286.2 165.5 276.4 166.1 273.0 166.9 271.8 167.7 273.0 168.3 276.4 168.9 286.2 169.3 276.2 169.6 272.9 170.1 271.6 170.5 272.9 170.8 276.2 171.2 286.2 171.5 276.2 171.7 272.8 172.1 271.6 172.4 272.8 172.7 276.2 173.0 285.0 173.4 278.4 173.8 275.1 174.4 273.8 174.9 275.1 175.4 278.4 175.8 282.2 176.2 278.6 176.6 275.3 177.1 274.0 177.6 275.3 178.0 278.6 178.4 286.2 178.8 279.3 179.1 276.0 179.6 274.8 180.0 276.0 180.4 279.3 180.7 286.2 181.3 280.0 181.9 276.6 182.6 275.4 183.4 276.6 184.0 280.0 184.6 286.2 185.2 276.2 185.8 272.8 186.6 271.6 187.4 272.8 188.0 276.2 188.6 279.3 189.0 278.0 189.4 274.7 189.9 273.5 190.5 274.7 190.9 278.0 191.3 285.5 191.6 277.9 191.9 274.6 192.3 273.4 192.6 274.6 192.9 277.9 193.2 286.2 193.5 279.3 193.8 275.9 194.3 274.7 194.7 275.9 195.0 279.3 195.3 286.2 195.7 280.0 196.2 276.6 196.8 275.4 197.3 276.6 197.8 280.0 198.2 286.2 198.6 281.5 198.9 278.2 199.4 276.9 199.8 278.2 200.1 281.5 200.5 286.2 200.7 278.5 201.0 275.2 201.3 274.0 201.6 275.2 201.9 278.5 202.1 286.2 202.5 277.3 202.9 274.0 203.4 272.8 203.9 274.0 204.3 277.3 204.7 286.2 205.3 276.5 205.9 273.2 206.8 271.9 207.6 273.2 208.2 276.5 208.8 286.2 209.2 280.1 209.5 276.7 210.0 275.5 210.4 276.7 210.7 280.1 211.1 286.2 211.6 277.7 212.1 274.4 212.8 273.2 213.4 274.4 213.9 277.7 214.4 281.6 214.7 282.1 215.0 278.7 215.4 277.5 215.8 278.7 216.1 282.1 216.3 286.2 216.9 280.1 217.5 276.8 218.3 275.6 219.1 276.8 219.7 280.1 220.3 286.2 220.8 280.1 221.3 276.8 222.1 275.6 222.8 276.8 223.3 280.1 223.9 286.2 224.4 280.4 224.9 277.0 225.7 275.8 226.4 277.0 226.9 280.4 227.5 286.2 228.0 280.1 228.5 276.8 229.2 275.5 229.9 276.8 230.5 280.1 231.0 286.2 231.3 282.3 231.6 279.0 232.1 277.8 232.5 279.0 232.8 282.3 233.1 286.2 233.6 279.1 234.1 275.7 234.7 274.5 235.3 275.7 235.8 279.1 236.3 286.2 236.7 283.4 237.1 280.4 237.7 279.2 238.2 280.4 238.7 283.4 239.1 283.4 239.7 284.4 240.3 281.1 241.1 279.8 241.9 281.1 242.5 284.4 243.1 286.2 243.4 281.0 243.6 277.7 244.0 276.4 244.3 277.7 244.6 281.0 244.8 286.2 245.3 285.0 245.8 281.7 246.5 280.4 247.2 281.7 247.7 285.0 248.2 286.2 248.7 282.7 249.1 279.4 249.7 278.1 250.3 279.4 250.7 282.7 251.2 286.2" stroke="#ff0000" stroke-width="1.0" fill="none" stroke-linejoin="round"/><path d="M39.2 257.3 39.5 261.7 39.8 258.4 40.3 257.2 40.7 258.4 41.0 261.7 41.3 262.9 41.6 262.4 42.0 259.1 42.4 257.9 42.8 259.1 43.1 262.4 43.5 262.4 43.8 264.2 44.2 260.9 44.7 259.7 45.2 260.9 45.5 264.2 45.9 266.2 46.2 263.7 46.6 260.4 47.1 259.2 47.5 260.4 47.9 263.7 48.3 266.5 48.7 261.1 49.2 257.8 49.8 256.6 50.4 257.8 50.8 261.1 51.3 269.5 51.9 263.5 52.4 260.1 53.1 258.9 53.9 260.1 54.4 263.5 54.9 268.6 55.5 266.4 56.1 263.0 56.9 261.8 57.6 263.0 58.2 266.4 58.8 267.7 59.0 267.0 59.3 263.7 59.7 262.5 60.0 263.7 60.3 267.0 60.6 286.2 61.1 264.6 61.7 263.2 62.4 262.0 63.2 263.2 63.7 264.6 64.3 264.6 64.9 263.8 65.6 260.5 66.4 259.3 67.3 260.5 67.9 263.8 68.6 270.7 68.9 262.8 69.3 259.5 69.8 258.2 70.3 259.5 70.7 262.8 71.1 268.5 71.3 262.2 71.6 258.9 71.9 257.6 72.2 258.9 72.4 262.2 72.7 267.9 72.9 263.5 73.2 260.2 73.6 259.0 74.0 260.2 74.2 263.5 74.5 274.7 75.0 265.5 75.6 262.2 76.3 260.9 77.0 262.2 77.5 265.5 78.0 275.8 78.4 264.7 78.7 261.6 79.1 260.3 79.6 261.6 79.9 264.7 80.2 264.7 80.6 264.9 81.0 261.6 81.6 260.4 82.1 261.6 82.5 264.9 82.9 273.6 83.5 264.5 84.0 261.2 84.8 260.0 85.5 261.2 86.0 264.5 86.6 265.6 87.2 267.0 87.9 263.7 88.7 262.5 89.6 263.7 90.3 267.0 90.9 269.3 91.5 269.3 92.2 265.9 93.0 264.7 93.9 265.9 94.5 269.3 95.2 272.2 95.7 267.0 96.3 267.0 97.0 266.2 97.8 267.0 98.3 267.0 98.9 267.0 99.3 269.0 99.6 265.7 100.1 264.4 100.6 265.7 101.0 269.0 101.4 286.2 101.8 267.9 102.2 266.9 102.8 265.7 103.4 266.9 103.8 267.9 104.3 267.9 104.7 269.8 105.2 268.8 105.8 267.6 106.4 268.8 106.9 269.8 107.3 269.8 107.7 270.9 108.0 267.6 108.4 266.4 108.9 267.6 109.2 270.9 109.6 278.0 109.9 269.8 110.1 266.5 110.5 265.3 110.9 266.5 111.2 269.8 111.5 272.3 112.0 268.8 112.6 265.5 113.3 264.3 114.0 265.5 114.5 268.8 115.0 273.9 115.4 270.8 115.8 267.5 116.4 266.2 116.9 267.5 117.3 270.8 117.7 272.2 118.1 271.1 118.5 267.8 119.0 266.6 119.5 267.8 119.9 271.1 120.3 271.3 120.7 272.6 121.0 269.3 121.5 268.1 122.0 269.3 122.3 272.6 122.7 275.3 123.0 269.9 123.3 266.6 123.6 265.3 124.0 266.6 124.3 269.9 124.6 286.2 124.9 271.3 125.2 268.0 125.5 266.8 125.9 268.0 126.2 271.3 126.4 277.7 126.7 270.3 127.0 267.6 127.4 266.4 127.8 267.6 128.1 270.3 128.4 270.3 129.0 272.3 129.6 269.0 130.4 267.7 131.2 269.0 131.9 272.3 132.5 280.1 132.9 270.6 133.4 267.3 134.0 266.1 134.6 267.3 135.1 270.6 135.5 282.1 136.2 271.2 136.8 267.9 137.7 266.7 138.5 267.9 139.1 271.2 139.8 275.9 140.3 273.1 140.8 269.8 141.4 268.5 142.1 269.8 142.6 273.1 143.0 281.2 143.5 272.9 143.9 269.6 144.5 268.3 145.0 269.6 145.5 272.9 145.9 277.3 146.1 272.9 146.4 269.6 146.7 268.4 147.0 269.6 147.2 272.9 147.5 273.3 147.9 273.4 148.4 270.0 149.0 268.8 149.6 270.0 150.1 273.4 150.5 274.9 151.1 273.8 151.6 270.4 152.3 269.2 153.0 270.4 153.5 273.8 154.0 278.6 154.6 276.2 155.1 272.9 155.8 271.7 156.6 272.9 157.1 276.2 157.6 284.7 158.1 277.1 158.7 277.1 159.3 277.1 160.0 277.1 160.6 277.1 161.1 277.1 161.6 277.3 162.1 273.9 162.8 272.7 163.5 273.9 164.0 277.3 164.6 281.6 165.2 276.8 165.8 273.5 166.6 272.2 167.4 273.5 168.0 276.8 168.6 286.2 169.2 278.1 169.8 274.7 170.5 273.5 171.3 274.7 171.8 278.1 172.4 286.2 172.7 280.8 173.1 277.5 173.5 276.2 174.0 277.5 174.3 280.8 174.6 286.2 175.0 279.0 175.5 275.7 176.0 274.5 176.6 275.7 177.1 279.0 177.5 286.1 177.8 278.6 178.2 275.2 178.7 274.0 179.2 275.2 179.5 278.6 179.9 286.2 180.5 278.2 181.0 274.8 181.8 273.6 182.6 274.8 183.1 278.2 183.7 286.2 184.0 279.9 184.4 276.6 184.9 275.4 185.3 276.6 185.7 279.9 186.0 285.1 186.3 278.8 186.5 275.4 186.9 274.2 187.2 275.4 187.4 278.8 187.7 282.5 188.2 278.6 188.6 275.3 189.3 274.0 189.9 275.3 190.4 278.6 190.8 281.9 191.2 280.6 191.5 277.3 192.0 276.1 192.4 277.3 192.7 280.6 193.1 282.7 193.3 280.1 193.5 276.7 193.8 275.5 194.1 276.7 194.3 280.1 194.6 286.2 195.2 282.8 195.8 279.4 196.7 278.2 197.6 279.4 198.2 282.8 198.8 285.8 199.1 280.0 199.3 279.1 199.6 277.8 199.9 279.1 200.1 280.0 200.3 280.0 200.9 282.8 201.6 279.4 202.4 278.2 203.2 279.4 203.9 282.8 204.5 286.2 204.9 280.5 205.4 277.2 206.0 275.9 206.6 277.2 207.0 280.5 207.4 281.8 207.9 279.1 208.4 277.3 209.0 276.1 209.6 277.3 210.1 279.1 210.6 279.1 211.0 279.0 211.5 275.7 212.1 274.4 212.7 275.7 213.2 279.0 213.6 285.9 214.1 279.8 214.6 276.4 215.3 275.2 216.0 276.4 216.5 279.8 217.0 286.2 217.5 278.1 218.0 274.7 218.6 273.5 219.3 274.7 219.8 278.1 220.3 286.2 220.7 276.3 221.1 273.0 221.7 271.8 222.2 273.0 222.6 276.3 223.0 286.2 223.4 277.1 223.8 273.8 224.3 272.6 224.9 273.8 225.2 277.1 225.6 285.6 226.2 278.5 226.7 275.1 227.4 273.9 228.1 275.1 228.7 278.5 229.2 285.7 229.6 278.5 230.0 275.2 230.5 273.9 231.0 275.2 231.4 278.5 231.8 286.2 232.3 279.6 232.9 276.3 233.7 275.1 234.4 276.3 235.0 279.6 235.6 280.6 235.8 280.6 236.0 277.3 236.4 276.0 236.7 277.3 236.9 280.6 237.2 280.7 237.6 279.7 238.1 276.4 238.7 275.2 239.2 276.4 239.7 279.7 240.1 286.2 240.4 279.5 240.7 276.1 241.1 274.9 241.5 276.1 241.8 279.5 242.1 286.2 242.5 279.7 242.9 276.4 243.5 275.2 244.1 276.4 244.5 279.7 244.9 284.1 245.5 281.0 246.1 277.8 246.9 276.6 247.7 277.8 248.4 281.0 249.0 281.0 249.5 282.3 250.0 279.0 250.6 277.8 251.3 279.0 251.8 282.3 252.3 286.2" stroke="#64c864" stroke-width="1.0" fill="none" stroke-linejoin="round"/><path d="M39.2 255.3 39.7 262.4 40.2 259.0 40.9 257.8 41.5 259.0 42.0 262.4 42.5 269.7 42.7 261.7 43.0 258.4 43.3 257.2 43.6 258.4 43.8 261.7 44.0 271.9 44.5 262.4 45.0 259.1 45.6 257.9 46.3 259.1 46.7 262.4 47.2 266.8 47.7 260.8 48.2 257.5 48.8 256.2 49.4 257.5 49.9 260.8 50.4 273.3 50.8 263.2 51.2 259.9 51.7 258.7 52.2 259.9 52.6 263.2 53.0 286.2 53.4 263.8 53.9 260.5 54.5 259.3 55.1 260.5 55.6 263.8 56.0 286.2 56.3 263.4 56.6 260.1 56.9 258.8 57.3 260.1 57.5 263.4 57.8 286.2 58.1 265.0 58.3 261.7 58.7 260.4 59.0 261.7 59.3 265.0 59.5 266.1 60.1 263.4 60.7 260.1 61.5 258.8 62.2 260.1 62.8 263.4 63.4 273.0 63.9 265.8 64.4 262.4 65.1 261.2 65.7 262.4 66.2 265.8 66.7 274.7 67.3 266.9 67.8 263.6 68.5 262.3 69.2 263.6 69.7 266.9 70.2 274.9 70.6 266.4 70.9 263.1 71.4 261.9 71.8 263.1 72.1 266.4 72.5 286.2 72.8 266.6 73.1 263.3 73.6 262.0 74.0 263.3 74.3 266.6 74.6 270.4 74.9 266.1 75.2 263.2 75.6 261.9 76.0 263.2 76.3 266.1 76.6 266.1 76.9 264.8 77.3 261.4 77.9 260.2 78.4 261.4 78.8 264.8 79.2 272.8 79.7 264.8 80.3 261.5 81.1 260.2 81.8 261.5 82.4 264.8 82.9 270.2 83.2 266.0 83.4 263.4 83.7 262.1 84.1 263.4 84.3 266.0 84.5 266.0 85.1 265.4 85.7 262.0 86.5 260.8 87.3 262.0 87.9 265.4 88.5 271.5 88.8 264.9 89.0 261.6 89.4 260.3 89.8 261.6 90.1 264.9 90.4 277.7 90.8 265.9 91.3 262.6 91.9 261.4 92.5 262.6 93.0 265.9 93.5 276.1 94.0 266.5 94.5 263.1 95.3 261.9 96.0 263.1 96.5 266.5 97.0 276.3 97.4 267.6 97.8 264.3 98.3 263.1 98.9 264.3 99.3 267.6 99.7 286.2 100.0 267.6 100.4 264.3 100.9 263.1 101.4 264.3 101.8 267.6 102.1 269.2 102.7 267.7 103.3 264.4 104.0 263.2 104.8 264.4 105.4 267.7 105.9 273.4 106.4 267.0 106.8 263.7 107.3 262.4 107.9 263.7 108.3 267.0 108.7 278.7 108.9 265.8 109.2 262.5 109.4 261.3 109.7 262.5 110.0 265.8 110.2 270.5 110.7 268.6 111.1 265.3 111.8 264.1 112.4 265.3 112.9 268.6 113.4 277.4 113.9 269.2 114.4 265.8 115.1 264.6 115.7 265.8 116.2 269.2 116.7 278.5 117.3 267.1 117.8 263.7 118.6 262.5 119.4 263.7 119.9 267.1 120.5 278.7 120.8 270.9 121.0 267.6 121.4 266.4 121.8 267.6 122.1 270.9 122.4 276.5 122.7 269.9 123.0 267.1 123.5 265.8 123.9 267.1 124.3 269.9 124.6 269.9 125.2 270.1 125.8 266.8 126.6 265.6 127.4 266.8 128.0 270.1 128.6 286.2 128.8 271.6 129.1 268.2 129.4 267.0 129.8 268.2 130.0 271.6 130.3 274.2 130.5 271.5 130.7 268.1 131.1 266.9 131.4 268.1 131.6 271.5 131.9 281.1 132.5 270.9 133.1 267.6 134.0 266.4 134.8 267.6 135.4 270.9 136.1 281.0 136.5 270.7 137.0 267.4 137.6 266.2 138.3 267.4 138.8 270.7 139.2 278.9 139.9 271.4 140.5 268.0 141.4 266.8 142.2 268.0 142.9 271.4 143.5 280.9 144.0 275.2 144.6 271.9 145.3 270.6 146.0 271.9 146.5 275.2 147.1 284.3 147.4 277.5 147.8 274.2 148.2 272.9 148.7 274.2 149.0 277.5 149.4 278.2 150.0 276.2 150.5 272.9 151.3 271.6 152.1 272.9 152.7 276.2 153.3 282.7 153.6 272.9 154.0 269.5 154.5 268.3 155.0 269.5 155.4 272.9 155.7 275.7 156.0 273.5 156.3 270.2 156.6 269.0 157.0 270.2 157.3 273.5 157.5 276.3 157.9 274.2 158.2 270.8 158.7 269.6 159.2 270.8 159.5 274.2 159.9 281.7 160.4 275.9 160.9 272.5 161.6 271.3 162.2 272.5 162.7 275.9 163.2 284.0 163.5 275.0 163.8 271.7 164.1 270.4 164.5 271.7 164.8 275.0 165.1 286.2 165.4 275.5 165.7 272.1 166.1 270.9 166.5 272.1 166.8 275.5 167.1 276.8 167.5 273.9 167.9 270.6 168.3 269.3 168.8 270.6 169.2 273.9 169.6 277.7 169.9 276.3 170.2 276.3 170.7 276.3 171.1 276.3 171.5 276.3 171.8 276.3 172.1 278.1 172.4 274.7 172.8 273.5 173.2 274.7 173.6 278.1 173.9 281.3 174.4 276.7 174.9 273.4 175.6 272.2 176.4 273.4 176.9 276.7 177.4 286.2 178.0 276.6 178.6 273.3 179.3 272.1 180.1 273.3 180.6 276.6 181.2 282.4 181.5 277.8 181.8 274.5 182.2 273.3 182.6 274.5 182.9 277.8 183.2 278.4 183.8 278.4 184.4 275.1 185.2 273.8 186.0 275.1 186.7 278.4 187.3 286.0 187.9 277.5 188.6 274.2 189.4 273.0 190.3 274.2 190.9 277.5 191.6 286.2 192.2 276.1 192.8 272.8 193.5 271.5 194.3 272.8 194.9 276.1 195.5 281.1 195.8 279.8 196.1 276.5 196.4 275.3 196.8 276.5 197.1 279.8 197.3 286.2 197.6 280.7 198.0 277.4 198.4 276.2 198.8 277.4 199.2 280.7 199.5 283.5 200.0 278.0 200.5 274.6 201.1 273.4 201.8 274.6 202.2 278.0 202.7 282.3 203.2 277.0 203.6 273.7 204.1 272.5 204.7 273.7 205.1 277.0 205.6 282.8 206.1 277.1 206.6 273.8 207.2 272.6 207.9 273.8 208.4 277.1 208.9 282.3 209.3 278.4 209.6 275.1 210.1 273.9 210.6 275.1 211.0 278.4 211.4 285.2 211.7 279.1 212.0 275.8 212.4 274.5 212.8 275.8 213.1 279.1 213.4 286.2 213.7 278.9 214.1 275.6 214.5 274.4 215.0 275.6 215.3 278.9 215.7 282.2 216.0 277.9 216.4 274.6 216.8 273.4 217.3 274.6 217.7 277.9 218.0 280.2 218.5 279.8 219.1 276.5 219.8 275.2 220.5 276.5 221.0 279.8 221.6 286.2 221.9 282.4 222.2 279.1 222.6 277.9 223.1 279.1 223.4 282.4 223.7 286.2 224.2 278.8 224.6 275.5 225.2 274.3 225.8 275.5 226.2 278.8 226.6 284.3 227.1 277.5 227.5 274.2 228.1 273.0 228.7 274.2 229.2 277.5 229.6 286.2 230.1 280.0 230.6 276.7 231.3 275.5 232.0 276.7 232.4 280.0 232.9 283.5 233.2 279.7 233.4 276.4 233.8 275.2 234.1 276.4 234.3 279.7 234.6 279.7 235.1 279.4 235.7 276.1 236.4 274.9 237.1 276.1 237.7 279.4 238.2 280.7 238.8 279.5 239.4 277.1 240.2 275.9 241.0 277.1 241.6 279.5 242.2 279.5 242.5 279.9 242.8 276.5 243.1 275.3 243.5 276.5 243.8 279.9 244.1 286.2 244.5 280.1 244.8 276.8 245.3 275.6 245.8 276.8 246.2 280.1 246.6 280.8 246.9 280.8 247.2 277.4 247.6 276.2 248.0 277.4 248.2 280.8 248.5 286.2 248.9 284.2 249.3 280.9 249.9 279.6 250.4 280.9 250.8 284.2 251.2 286.2" stroke="#7373fa" stroke-width="1.0" fill="none" stroke-linejoin="round"/><path d="M39.4 286.2 39.8 263.0 40.4 243.0 40.8 238.4 41.2 237.1 41.6 239.1 42.1 243.0 42.6 246.4 43.2 248.0 43.8 247.0 44.5 247.0 45.0 248.4 45.8 253.0 46.8 257.0 48.2 263.0 49.2 269.6 50.3 286.2 50.7 272.2 51.2 272.2 51.8 272.2 52.4 272.2 52.9 272.2 53.3 272.2 53.7 272.8 54.0 272.8 54.5 272.8 55.0 272.8 55.4 272.8 55.7 272.8 56.1 283.8 56.4 282.9 56.9 281.7 57.4 282.9 57.8 283.8 58.1 283.8 58.7 266.8 59.4 266.8 60.2 266.8 61.1 266.8 61.7 266.8 62.3 266.8 62.4 261.9 62.6 258.5 62.7 257.3 63.9 258.5 64.8 261.9 65.7 266.5 65.8 264.9 65.9 261.5 66.1 260.3 66.9 261.5 67.5 264.9 68.2 266.7 68.5 258.7 68.8 255.4 69.3 254.1 69.5 255.4 69.7 258.7 69.9 268.5 70.7 262.1 71.4 258.7 72.4 257.5 72.7 258.7 72.9 262.1 73.1 264.5 73.9 261.5 74.6 258.2 75.6 257.0 76.0 258.2 76.3 261.5 76.6 268.9 77.0 272.2 77.5 268.9 78.1 267.6 78.7 268.9 79.2 272.2 79.7 276.1 80.5 264.9" stroke="#ff0000" stroke-width="1.0" fill="none" stroke-linejoin="round"/><path d="M39.4 286.2 39.8 263.0 40.4 243.0 40.8 238.4 41.2 237.1 41.6 239.1 42.1 243.0 42.6 246.4 43.2 248.0 43.8 247.0 44.5 247.0 45.0 248.4 45.8 253.0 46.8 257.0 48.2 263.0 49.2 269.6 50.3 286.2 50.7 272.2" stroke="#ff0000" stroke-width="1.4" fill="none" stroke-linejoin="round"/></g>
<text x="35.6" y="240.8" font-size="10" text-anchor="end">0</text>
<text x="35.6" y="260.72" font-size="10" text-anchor="end"><tspan dy="-0.9">-</tspan><tspan dy="0.9">30</tspan></text>
<text x="35.6" y="280.65" font-size="10" text-anchor="end"><tspan dy="-0.9">-</tspan><tspan dy="0.9">60</tspan></text>
<text x="197.2" y="250.5" font-size="11.5">250 Hz</text>
<text x="39.2" y="290.65" font-size="10" text-anchor="middle">0</text>
<text x="91.92" y="290.65" font-size="10" text-anchor="middle">0.1</text>
<text x="144.65" y="290.65" font-size="10" text-anchor="middle">0.2</text>
<text x="197.38" y="290.65" font-size="10" text-anchor="middle">0.3</text>
<text x="250.1" y="290.65" font-size="10" text-anchor="middle">0.4</text>
<text x="145.65" y="303.75" font-size="11.6" text-anchor="middle">Time (s)</text>
<text transform="translate(16.7 143.3) rotate(-90)" font-size="11.7" text-anchor="middle">Normalized instantaneous level (dB)</text>
<text x="139.85" y="330" font-size="13.5" font-weight="bold" text-anchor="middle" style="font-family:'Liberation Serif',serif">(a)</text>
<path d="M378.18 13V52.6M430.85 13V52.6M483.53 13V52.6M325.5 32.8H536.2" stroke="#c4c4c4" stroke-width="0.8" stroke-dasharray="1 1" fill="none"/>
<path d="M378.18 13v2M378.18 52.6v-2M430.85 13v2M430.85 52.6v-2M483.53 13v2M483.53 52.6v-2M325.5 32.8h2M536.2 32.8h-2" stroke="#555" stroke-width="0.8" fill="none"/>
<path d="M325 13H536.7M325 52.6H536.7" stroke="#555" stroke-width="1" fill="none"/>
<path d="M325.5 13V52.6M536.2 13V52.6" stroke="#9a9a9a" stroke-width="1.1" fill="none"/>
<path d="M325.5 14.5V52.6M536.2 14.5V52.6" stroke="#333" stroke-width="1" stroke-dasharray="1 2" fill="none"/>
<g clip-path="url(#c10)"><path d="M326.3 62.5 326.5 13.0 326.7 32.8 327.1 42.7 327.6 49.5 328.1 58.3 328.6 42.3 329.1 57.4 329.4 44.5 329.7 57.1 330.6 26.9 330.6 62.5 331.0 41.9 331.4 49.1 331.9 41.4 332.5 50.8 332.7 41.0 332.9 54.5 333.5 42.0 334.0 49.8 334.3 43.4 334.6 60.8 334.9 43.3 335.2 60.2 335.6 41.3 335.9 47.8 336.4 41.0 337.0 51.2 337.5 32.5 338.0 62.5 338.4 40.2 338.7 48.4 339.2 37.3 339.7 44.5 340.2 34.4 340.7 42.5 341.0 30.4 341.3 43.7 341.9 26.9 342.0 41.3 342.3 28.5 342.5 62.5 342.8 29.6 343.0 38.2 343.6 47.1 344.1 62.5 344.7 33.3 345.3 45.8 345.6 40.1 345.8 44.1 346.3 32.8 346.9 53.2 347.4 35.9 348.0 50.6 348.2 43.3 348.5 45.4 348.8 46.0 349.1 43.7 349.3 38.7 349.5 45.6 349.8 38.2 350.1 49.0 350.4 34.6 350.8 42.9 351.1 30.5 351.7 49.6 352.3 38.2 352.8 62.5 353.1 35.1 353.3 45.4 353.6 40.4 354.0 39.9 354.2 40.7 354.5 53.1 354.7 37.9 354.9 47.7 355.4 41.0 355.9 53.7 356.5 38.4 357.0 52.3 357.5 36.8 357.9 48.3 358.3 41.6 358.6 52.7 359.0 40.3 359.4 62.5 359.7 38.0 360.0 62.5 360.6 43.5 361.2 47.8 361.8 36.4 362.3 48.8 362.8 34.3 363.2 46.7 363.8 33.1 364.2 51.4 364.5 32.8 364.7 44.0 365.1 40.3 365.5 49.1 365.9 36.1 366.2 54.9 366.8 37.4 367.4 62.5 367.6 38.1 367.9 55.1 368.4 37.2 368.9 49.7 369.3 44.1 369.6 62.5 370.0 39.2 370.5 57.4 370.9 40.3 371.4 58.5 371.7 40.8 371.9 52.7 372.3 39.8 372.6 53.6 373.1 41.1 373.6 62.5 374.2 40.5 374.8 60.1 375.2 43.3 375.6 55.5 376.0 42.1 376.3 54.8 376.7 42.7 377.1 60.1 377.4 44.6 377.7 62.5 378.0 42.1 378.3 48.1 378.5 43.4 378.8 47.5 379.2 43.0 379.7 52.6 380.2 43.3 380.7 52.7 381.2 41.3 381.8 54.1 382.1 43.6 382.4 59.4 382.8 43.2 383.3 51.9 383.5 44.1 383.7 48.0 384.3 45.5 384.8 53.4 385.2 41.9 385.6 51.0 386.0 41.2 386.4 59.4 386.7 50.5 386.9 57.8 387.4 42.3 387.8 48.7 388.2 41.5 388.6 57.9 388.9 43.0 389.1 60.0 389.4 40.8 389.7 49.6 390.0 42.7 390.3 62.5 390.8 41.5 391.2 50.2 391.8 41.0 392.3 60.0 392.8 42.6 393.2 57.0 393.5 50.9 393.9 48.3 394.3 40.8 394.7 51.9 395.1 44.5 395.5 54.9 395.9 44.9 396.3 57.3 396.8 43.1 397.4 47.5 397.8 42.0 398.3 56.2 398.8 44.9 399.2 57.3 399.8 48.7 400.3 61.5 400.8 48.4 401.2 59.6 401.6 43.9 401.9 62.5 402.4 47.4 402.9 55.3 402.9 41.4 404.0 56.0 404.5 43.9 405.0 49.7 405.2 47.3 405.5 62.5 405.8 46.3 406.2 51.0 406.6 46.6 407.1 49.3 407.4 44.8 407.8 60.9 408.3 44.8 408.8 52.3 409.3 45.0 409.8 62.5 410.2 48.2 410.7 55.9 411.2 47.0 411.8 62.5 412.1 45.3 412.4 52.1 412.6 46.4 412.8 61.3 413.3 51.7 413.7 56.3 413.9 50.4 414.1 53.3 414.6 49.5 415.0 58.1 415.3 48.8 415.6 52.0 416.2 49.5 416.8 58.6 417.2 50.0 417.5 62.5 418.1 50.3 418.6 62.5 419.0 50.1 419.3 54.1 419.7 51.9 420.0 57.2 420.4 48.9 420.9 55.6 421.2 50.6 421.5 62.0 421.8 49.5 422.0 62.5 422.5 51.1 422.9 54.0 423.2 51.0 423.4 62.5 423.8 50.7 424.2 60.4 424.5 50.1 424.9 57.4 425.2 49.8 425.6 62.5 426.0 49.5 426.4 58.1 426.6 50.4 426.8 62.4 427.4 50.9 428.0 62.5 428.5 51.6 429.0 62.5 429.5 51.3 430.0 57.3 430.3 51.1 430.6 62.5 431.2 51.3 431.7 62.5 432.1 51.2 432.5 61.4 432.9 50.3 433.3 62.5 433.6 51.1 433.8 62.5 434.2 54.4 434.5 56.9 435.0 50.5 435.5 62.5 436.1 51.1 436.7 59.6 437.1 58.5 437.4 62.1 437.7 53.2 437.9 62.5 438.3 59.3 438.7 60.5 439.1 57.4 439.6 58.7 440.0 57.5 440.5 62.5 441.1 54.0 441.6 62.5 442.0 52.9 442.4 62.5 443.0 54.6 443.5 60.3 444.0 52.9 444.5 58.4 445.0 53.3 445.5 62.5 446.0 55.3 446.4 59.2 446.7 53.6 446.9 62.5 447.2 51.9 447.5 62.5 447.7 56.1 447.9 60.3 448.4 52.8 449.0 62.5 449.4 52.3 449.8 62.5 450.0 54.0 450.2 62.5 450.5 54.3 450.9 57.7 451.3 59.9 451.7 62.5 451.9 56.8 452.2 62.5 452.6 54.6 453.0 62.5 453.5 53.1 454.0 62.5 454.3 57.1 454.7 60.0 455.3 59.8 455.9 60.7 456.4 53.9 457.0 62.5 457.4 54.5 457.8 62.5 458.2 54.3 458.5 62.2 458.7 54.5 459.0 62.5 459.2 53.4 459.4 62.5 460.0 56.1 460.6 62.5 461.1 54.5 461.6 62.5 462.1 53.9 462.7 62.5 462.9 53.5 463.1 62.5 463.6 53.2 464.2 58.8 464.4 58.8 464.6 62.5 465.2 54.2 465.7 62.5 466.0 53.4 466.4 62.5 466.9 55.0 467.4 62.5 467.8 53.1 468.1 62.5 468.5 53.4 468.9 62.5 469.3 54.0 469.7 62.5 470.3 53.2 470.9 59.7 471.1 54.4 471.4 62.5 471.9 54.0 472.5 62.5 472.8 58.2 473.0 59.8 473.4 53.5 473.7 62.5 474.1 53.6 474.5 62.5 475.1 53.4 475.7 62.2 476.2 53.6 476.7 62.5 477.2 54.7 477.7 62.5 478.1 53.4 478.6 62.5 479.2 59.4 479.8 62.5 480.1 56.6 480.3 62.5 480.6 56.2 480.9 62.5 481.5 60.3 482.1 62.5 482.6 53.3 483.1 62.5 483.6 55.9 484.1 62.5 484.3 57.7 484.5 62.5 484.9 53.7 485.3 62.5 485.6 54.4 486.0 62.5 486.2 54.1 486.4 62.5 486.9 55.2 487.5 62.5 487.8 57.7 488.0 62.5 488.6 53.8 489.1 62.5 489.7 56.1 490.3 62.5 490.7 57.7 491.1 62.5 491.6 54.0 492.0 62.5 492.3 54.1 492.5 62.5 492.8 60.9 493.2 62.5 493.7 56.6 494.2 62.5 494.7 56.8 495.1 62.5 495.4 53.5 495.7 60.9 496.1 55.2 496.5 62.5 497.1 56.9 497.7 62.5 498.1 56.3 498.4 62.5 498.7 54.7 499.0 61.3 499.5 55.6 500.0 62.5 500.3 60.9 500.6 62.5 501.0 57.2 501.3 62.4 501.8 62.3 502.3 62.5 502.8 57.6 503.3 62.5 503.6 56.4 504.0 62.5 504.3 61.1 504.7 62.5 505.2 57.9 505.8 62.5 506.1 57.5 506.5 62.5 507.0 59.6 507.5 62.5 507.9 58.9 508.2 62.5 508.6 57.5 509.0 62.5 509.5 58.3 509.9 62.5 510.4 55.6 510.9 62.5 511.5 55.7 512.0 62.5 512.3 56.6 512.5 62.5 512.8 59.0 513.1 62.5 513.5 57.0 513.9 62.5 514.4 56.3 514.9 62.5 515.3 60.2 515.6 62.5 516.1 56.6 516.5 62.5 517.0 58.0 517.5 62.5 518.0 58.8 518.4 62.5 519.0 60.9 519.5 62.5 520.1 55.0 520.6 62.5 520.9 56.0 521.1 62.5 521.5 61.5 521.8 62.5 522.2 61.4 522.6 62.5 523.2 55.3 523.8 62.5 524.3 59.7 524.7 62.5 525.2 58.2 525.7 62.5 526.1 58.2 526.5 61.9 527.1 57.6 527.6 62.5 528.0 59.2 528.4 62.5 529.0 61.9 529.6 62.5 529.9 58.2 530.2 62.5 530.5 59.7 530.7 62.5 531.1 62.5 531.4 62.5 531.8 57.7 532.1 62.5 532.7 59.8 533.3 62.5 533.7 62.2 534.1 62.5 534.3 57.5 534.5 62.5 534.9 62.5 535.2 62.5 535.6 57.4 536.1 62.5 536.5 57.5 536.8 62.5" stroke="#ff0000" stroke-width="0.55" fill="none" stroke-linejoin="round"/><path d="M325.5 35.4 326.4 36.3 327.2 55.3 328.0 38.3 328.7 47.0 329.6 36.2 330.4 51.2 330.9 35.8 331.4 51.9 331.8 39.8 332.3 48.8 333.0 39.1 333.7 62.5 334.2 37.5 334.6 56.4 335.3 39.5 336.0 56.3 336.3 39.3 336.7 61.7 337.0 42.5 337.3 62.5 337.9 41.7 338.4 62.5 339.2 43.0 340.0 50.1 340.5 44.2 341.0 60.9 341.6 46.2 342.2 53.9 342.8 44.8 343.4 54.4 343.9 46.3 344.4 54.2 344.7 44.4 345.0 54.9 345.8 45.2 346.6 62.5 347.2 45.7 347.8 52.0 348.1 48.4 348.4 51.8 349.1 46.4 349.9 62.5 350.6 46.1 351.4 62.5 352.2 46.5 353.0 61.2 353.3 49.6 353.6 62.5 354.0 44.8 354.4 53.4 355.1 44.6 355.8 62.5 356.6 46.4 357.5 62.5 358.2 45.7 358.8 57.7 359.7 44.1 360.6 62.5 361.2 44.1 361.9 59.1 362.7 43.7 363.4 62.5 363.7 44.2 364.1 51.3 364.9 44.3 365.6 62.5 366.0 44.7 366.3 55.3 366.8 52.9 367.3 62.5 367.7 46.0 368.2 62.5 368.5 45.2 368.9 62.5 369.7 46.4 370.4 56.9 371.3 44.9 372.1 62.5 372.5 50.6 372.9 62.5 373.5 45.0 374.1 62.5 374.5 44.9 374.9 54.7 375.6 49.1 376.2 62.5 376.9 45.1 377.5 62.5 378.2 44.8 378.9 62.5 379.3 45.4 379.7 54.1 380.3 45.2 381.0 58.2 381.6 49.6 382.2 56.0 382.8 46.8 383.3 56.9 384.1 45.2 384.9 58.8 385.5 46.7 386.1 62.5 386.9 45.8 387.7 59.6 388.3 46.0 388.9 62.5 389.6 48.4 390.4 62.5 391.0 46.2 391.6 62.2 392.3 47.7 393.0 53.4 393.6 46.6 394.2 59.2 394.8 52.2 395.4 53.5 395.9 46.7 396.4 62.5 397.3 46.7 398.1 62.5 398.8 46.6 399.4 58.3 400.0 46.7 400.6 62.5 401.5 46.5 402.3 58.6 402.7 49.3 403.1 62.5 403.8 45.0 404.4 62.5 404.9 45.6 405.4 54.5 405.9 45.5 406.4 55.5 406.9 46.7 407.3 55.3 407.8 44.9 408.4 62.5 409.1 47.1 409.8 54.1 410.2 47.0 410.6 62.5 411.3 49.3 411.9 62.5 412.6 46.1 413.4 57.8 414.0 49.4 414.6 62.5 415.0 47.6 415.4 62.5 415.8 48.3 416.2 62.5 416.7 53.7 417.3 62.5 417.9 51.6 418.5 62.5 419.1 48.4 419.8 62.5 420.5 49.7 421.3 55.4 421.7 49.1 422.2 62.5 423.0 48.7 423.9 62.5 424.7 48.8 425.5 62.5 426.1 50.8 426.8 55.5 427.6 48.4 428.4 56.0 429.0 50.2 429.7 56.8 430.3 49.0 430.9 62.0 431.7 54.1 432.6 62.5 433.1 50.1 433.7 58.2 434.4 49.7 435.0 62.5 435.6 50.9 436.2 62.5 437.0 49.6 437.9 56.1 438.3 49.4 438.8 59.4 439.5 49.4 440.2 62.5 441.0 50.3 441.8 59.7 442.5 53.3 443.3 62.5 443.9 51.4 444.6 59.3 444.9 51.4 445.2 62.5 445.6 51.3 445.9 59.1 446.4 53.9 446.9 62.5 447.5 56.8 448.0 62.5 448.6 52.4 449.3 62.5 449.7 52.4 450.2 58.4 450.9 52.3 451.7 62.5 452.4 52.2 453.1 62.5 453.4 51.6 453.8 62.5 454.4 53.4 455.0 57.8 455.6 59.6 456.3 62.5 457.0 50.9 457.7 62.5 458.5 52.3 459.3 62.5 460.2 50.3 461.0 61.0 461.5 52.4 462.1 62.5 462.9 50.4 463.6 62.5 464.3 50.9 465.0 62.5 465.9 51.6 466.7 62.5 467.2 52.3 467.6 62.5 468.3 51.2 469.1 62.5 469.8 51.5 470.5 62.5 470.8 55.3 471.2 62.5 472.0 52.8 472.8 62.5 473.4 51.9 473.9 62.5 474.8 53.3 475.7 62.5 476.1 50.8 476.4 62.5 477.2 50.7 478.0 62.5 478.7 51.5 479.4 62.5 480.2 54.4 481.1 62.5 481.8 54.2 482.6 62.5 483.4 53.0 484.3 61.0 484.8 55.1 485.3 62.5 485.7 60.3 486.2 62.5 486.5 57.9 486.9 62.1 487.3 55.1 487.7 62.5 488.5 56.5 489.3 62.5 490.1 54.0 491.0 62.5 491.5 54.4 492.0 62.5 492.7 53.9 493.5 62.5 494.3 52.1 495.2 62.5 495.8 52.3 496.4 62.5 496.8 51.4 497.3 59.6 497.7 51.7 498.2 62.5 498.6 53.4 498.9 62.5 499.5 54.0 500.1 62.5 500.6 52.7 501.2 62.5 501.8 51.4 502.4 62.5 503.2 52.3 503.9 62.5 504.2 54.9 504.6 62.5 505.3 50.8 506.0 62.5 506.9 51.6 507.7 62.5 508.3 52.6 508.8 62.5 509.3 50.6 509.7 62.5 510.4 52.1 511.1 62.5 511.5 53.3 511.8 62.5 512.1 52.0 512.5 62.5 512.8 52.1 513.2 62.5 513.8 51.8 514.4 62.5 515.3 52.8 516.1 62.5 516.6 56.8 517.1 62.5 517.7 53.2 518.4 62.5 519.0 54.1 519.6 62.5 520.1 54.8 520.7 60.4 521.6 54.8 522.5 62.5 522.9 53.2 523.4 60.4 523.7 53.7 524.1 62.5 524.8 55.3 525.6 62.5 526.0 52.7 526.4 62.5 527.2 52.5 527.9 62.5 528.7 51.8 529.6 62.5 530.1 54.4 530.5 62.5 531.4 52.9 532.2 62.5 532.7 52.7 533.1 62.5 533.9 52.2 534.7 60.2 535.4 52.7 536.1 62.5 536.5 55.7 537.0 60.7" stroke="#64c864" stroke-width="0.55" fill="none" stroke-linejoin="round"/><path d="M325.5 36.1 326.2 36.5 326.8 62.5 327.5 36.5 328.3 58.2 328.8 37.9 329.4 50.7 330.2 37.2 331.1 62.5 331.5 45.3 331.9 62.5 332.4 40.5 332.8 49.3 333.6 37.3 334.4 55.2 335.3 40.6 336.2 62.5 337.1 41.3 338.0 62.5 338.6 43.7 339.2 56.3 340.1 41.3 341.0 55.2 341.6 42.4 342.3 62.5 342.7 48.8 343.1 62.5 343.9 44.6 344.8 62.5 345.6 43.4 346.4 56.2 347.2 42.8 348.0 49.7 348.5 42.7 348.9 62.5 349.6 43.9 350.2 62.3 350.9 43.2 351.7 56.8 352.3 44.4 353.0 60.0 353.5 43.7 354.0 62.5 354.7 47.0 355.4 50.2 356.2 44.5 357.1 62.5 357.4 44.0 357.7 58.8 358.3 46.3 358.9 58.0 359.7 43.7 360.5 62.5 360.9 44.9 361.4 62.0 362.2 46.5 363.0 62.5 363.6 45.0 364.2 52.2 364.8 48.0 365.3 62.5 365.8 45.4 366.3 62.5 367.1 44.8 367.9 62.5 368.3 47.6 368.7 62.5 369.0 46.2 369.3 51.6 369.8 45.3 370.4 59.4 370.8 44.0 371.2 52.9 371.6 44.0 372.1 62.5 372.6 43.7 373.1 53.1 373.6 43.3 374.1 62.5 374.6 43.7 375.0 59.6 375.3 44.1 375.6 62.5 376.3 43.8 377.0 62.5 377.4 45.1 377.8 58.5 378.4 46.5 378.9 53.3 379.7 47.0 380.5 62.5 381.1 46.6 381.6 62.5 382.3 45.5 383.0 62.5 383.5 49.8 384.0 62.5 384.9 48.6 385.8 62.5 386.1 47.8 386.4 62.5 387.1 47.4 387.8 62.5 388.7 50.2 389.6 62.5 390.4 46.8 391.2 62.5 391.8 48.0 392.5 62.5 393.1 47.4 393.7 62.5 394.1 50.3 394.6 62.5 395.0 48.3 395.3 53.2 395.7 46.7 396.1 53.2 396.9 47.0 397.8 60.3 398.5 47.4 399.2 62.5 400.0 47.5 400.7 62.5 401.2 46.9 401.7 57.0 402.1 51.4 402.5 62.5 403.4 48.2 404.3 62.5 405.0 48.0 405.7 59.5 406.3 48.6 407.0 55.3 407.6 48.3 408.3 62.5 409.0 48.1 409.7 62.5 410.3 46.4 410.9 62.5 411.7 46.4 412.4 62.5 413.3 46.2 414.2 62.5 414.9 47.9 415.6 53.6 416.1 48.4 416.7 55.3 417.6 50.2 418.5 60.5 419.0 49.5 419.5 62.5 419.9 47.9 420.4 62.5 420.9 49.5 421.4 62.5 422.1 50.9 422.8 62.5 423.2 48.6 423.6 62.5 424.4 48.1 425.1 61.7 425.9 48.7 426.7 62.5 427.3 47.6 427.9 55.8 428.6 50.5 429.4 62.5 430.0 49.2 430.6 62.5 431.1 51.6 431.6 58.0 432.5 49.8 433.4 62.5 433.8 50.3 434.3 62.5 435.1 51.1 435.8 58.7 436.2 50.1 436.6 59.8 437.0 50.3 437.5 61.5 438.3 51.4 439.1 62.5 439.7 50.0 440.3 62.5 440.7 52.7 441.0 62.5 441.4 49.0 441.9 62.5 442.5 51.7 443.2 57.9 443.5 49.8 443.9 59.7 444.7 49.0 445.6 62.5 446.0 49.2 446.4 62.5 447.2 51.0 448.1 62.5 448.6 49.7 449.2 57.2 449.8 49.1 450.4 62.4 450.8 49.6 451.3 62.5 452.0 49.2 452.8 62.5 453.6 49.0 454.5 62.5 455.2 49.7 456.0 62.5 456.3 51.2 456.6 59.3 457.4 51.8 458.1 62.5 458.6 52.9 459.1 61.7 459.9 50.5 460.6 59.9 460.9 53.8 461.2 62.5 461.7 50.3 462.1 62.5 462.5 50.3 462.8 60.1 463.2 53.9 463.5 62.5 464.2 51.5 464.8 61.8 465.5 51.8 466.3 62.5 466.9 51.1 467.5 61.7 468.2 52.0 468.9 62.5 469.6 51.7 470.3 62.5 470.8 52.2 471.3 62.5 471.8 54.1 472.2 62.5 472.5 53.6 472.9 62.5 473.8 52.1 474.6 60.3 475.3 55.9 476.0 58.2 476.6 53.3 477.3 62.5 477.7 55.0 478.2 62.5 479.0 53.0 479.8 62.5 480.7 53.8 481.5 62.5 482.2 57.2 482.8 58.6 483.4 54.3 484.0 62.5 484.3 53.5 484.6 59.3 485.0 53.7 485.3 62.5 485.9 52.9 486.5 62.5 487.1 56.7 487.7 62.5 488.3 53.6 488.8 62.5 489.6 53.8 490.4 62.5 491.3 52.1 492.1 62.5 492.6 54.3 493.1 62.5 493.5 53.9 493.9 62.5 494.3 52.6 494.6 62.5 495.0 53.5 495.3 62.5 496.0 54.3 496.7 62.5 497.2 52.8 497.7 62.5 498.5 55.3 499.4 62.5 499.8 52.0 500.3 62.5 500.8 55.8 501.2 62.5 501.7 51.9 502.3 62.5 503.1 51.4 504.0 62.5 504.7 52.6 505.3 57.9 505.7 52.2 506.0 59.5 506.9 55.9 507.7 62.5 508.6 51.2 509.4 62.5 509.8 51.9 510.1 58.3 510.6 52.4 511.1 61.5 511.5 52.0 511.9 58.5 512.2 53.5 512.6 62.5 513.5 52.7 514.4 62.5 515.0 53.2 515.7 62.5 516.0 53.8 516.3 62.5 517.0 53.4 517.6 62.5 518.0 52.9 518.4 62.5 519.0 53.7 519.6 62.5 520.3 52.0 520.9 62.5 521.5 52.6 522.0 62.5 522.6 51.9 523.3 62.5 523.8 51.2 524.3 62.5 524.8 52.7 525.3 62.5 526.1 52.4 526.8 62.5 527.3 52.5 527.9 62.5 528.7 52.0 529.5 62.5 530.4 52.5 531.2 62.5 531.6 56.3 532.0 62.5 532.5 53.0 533.1 62.5 533.5 52.0 533.9 62.5 534.3 54.7 534.7 62.5 535.1 52.2 535.5 62.5 536.1 52.5 536.7 62.5" stroke="#7373fa" stroke-width="0.55" fill="none" stroke-linejoin="round"/></g>
<text x="321.9" y="17.4" font-size="10" text-anchor="end">0</text>
<text x="321.9" y="37.2" font-size="10" text-anchor="end"><tspan dy="-0.9">-</tspan><tspan dy="0.9">30</tspan></text>
<text x="321.9" y="57" font-size="10" text-anchor="end"><tspan dy="-0.9">-</tspan><tspan dy="0.9">60</tspan></text>
<text x="483.5" y="27.1" font-size="11.5">4 kHz</text>
<path d="M378.18 68.56V108.16M430.85 68.56V108.16M483.53 68.56V108.16M325.5 88.36H536.2" stroke="#c4c4c4" stroke-width="0.8" stroke-dasharray="1 1" fill="none"/>
<path d="M378.18 68.56v2M378.18 108.16v-2M430.85 68.56v2M430.85 108.16v-2M483.53 68.56v2M483.53 108.16v-2M325.5 88.36h2M536.2 88.36h-2" stroke="#555" stroke-width="0.8" fill="none"/>
<path d="M325 68.56H536.7M325 108.16H536.7" stroke="#555" stroke-width="1" fill="none"/>
<path d="M325.5 68.56V108.16M536.2 68.56V108.16" stroke="#9a9a9a" stroke-width="1.1" fill="none"/>
<path d="M325.5 70.06V108.16M536.2 70.06V108.16" stroke="#333" stroke-width="1" stroke-dasharray="1 2" fill="none"/>
<g clip-path="url(#c11)"><path d="M326.3 118.1 326.5 68.6 326.7 88.4 327.1 98.3 327.4 99.8 327.7 107.6 328.1 100.3 328.4 109.3 328.9 105.7 329.3 107.4 329.6 104.5 329.8 100.6 330.6 79.8 330.8 93.8 331.1 95.3 331.4 107.1 331.6 101.1 331.9 105.2 332.3 98.5 332.8 118.1 333.3 97.8 333.7 109.4 334.0 100.5 334.2 118.1 334.6 99.4 334.9 103.1 335.5 102.6 336.0 106.0 336.4 98.9 336.8 105.5 337.1 92.2 337.4 106.5 337.4 85.9 338.3 106.2 338.6 94.5 338.9 103.2 339.4 91.9 339.8 97.9 340.3 85.0 340.8 98.5 340.9 82.8 341.6 95.0 342.0 87.1 342.3 92.2 342.5 87.1 342.8 95.2 343.0 94.2 343.2 95.9 343.7 92.5 344.2 101.4 344.3 85.1 345.2 105.0 345.5 94.6 345.8 104.7 346.1 98.6 346.4 98.0 347.0 96.5 347.5 102.8 347.9 97.6 348.3 107.4 348.5 96.3 348.7 99.0 349.2 94.8 349.7 97.2 350.1 90.0 350.5 91.6 351.2 83.5 351.5 118.1 351.9 88.5 352.2 118.1 352.5 88.4 352.8 118.1 353.1 89.2 353.4 101.7 353.7 91.7 354.1 94.7 354.5 90.9 354.9 94.3 355.3 90.1 355.7 103.7 356.0 90.1 356.2 108.8 356.7 90.8 357.3 101.1 357.6 99.9 357.9 105.8 358.3 92.5 358.6 103.6 359.1 98.2 359.7 103.9 359.9 95.1 360.1 103.0 360.6 89.3 361.1 97.5 361.4 91.4 361.7 100.8 362.2 88.7 362.7 105.3 363.0 86.5 363.2 104.4 363.5 85.9 363.9 102.2 364.2 88.6 364.5 103.0 364.8 90.9 365.2 109.5 365.4 98.7 365.7 100.2 366.0 99.1 366.3 103.6 366.7 95.4 367.0 113.9 367.4 103.4 367.7 114.6 368.2 98.2 368.6 113.2 369.1 98.3 369.5 105.2 369.9 102.6 370.4 104.9 370.8 98.2 371.2 108.4 371.4 98.8 371.7 118.1 372.2 100.6 372.8 101.5 373.1 100.4 373.5 107.2 373.7 97.4 374.0 105.3 374.3 98.6 374.6 105.5 375.1 99.2 375.7 107.5 376.2 96.9 376.7 105.1 377.2 96.8 377.7 111.3 378.1 98.6 378.5 106.0 378.7 98.7 378.9 103.3 379.4 100.7 380.0 113.6 380.3 96.7 380.7 118.1 380.9 97.8 381.2 108.2 381.7 97.2 382.3 113.1 382.8 97.9 383.3 107.2 383.6 99.1 383.8 108.4 384.2 98.3 384.5 115.6 384.9 98.4 385.4 103.2 385.7 98.4 385.9 116.5 386.4 106.0 386.9 104.5 387.4 100.1 387.9 103.5 388.2 102.5 388.5 108.5 388.7 100.4 388.9 116.4 389.3 102.4 389.8 118.1 390.3 101.9 390.8 105.1 391.1 100.3 391.4 109.8 391.7 100.8 391.9 114.9 392.4 93.6 392.5 102.4 393.0 103.7 393.4 110.4 393.8 104.0 394.2 118.1 394.6 99.8 395.0 105.0 395.3 100.3 395.6 118.1 395.9 107.5 396.3 118.1 396.7 100.7 397.2 116.1 397.5 101.3 397.8 114.3 398.1 103.4 398.4 116.9 398.9 100.6 399.4 110.4 399.8 110.6 400.2 111.1 400.7 99.6 401.2 116.9 401.8 101.0 402.3 109.6 402.4 95.5 403.2 118.1 403.5 102.7 403.9 117.8 404.2 101.6 404.5 112.7 405.0 104.8 405.5 108.5 405.9 102.2 406.3 116.7 406.7 100.9 407.2 114.3 407.6 107.3 408.0 115.2 408.5 101.4 409.0 114.1 409.3 107.0 409.6 112.0 409.9 103.7 410.2 111.6 410.5 100.5 410.9 108.2 411.5 102.0 412.0 108.7 412.2 102.0 412.4 105.8 412.8 100.5 413.3 116.4 413.7 102.0 414.2 110.6 414.5 102.1 414.9 106.4 415.1 101.5 415.3 118.1 415.5 105.8 415.8 118.0 416.1 102.7 416.4 118.1 416.9 102.6 417.4 111.1 417.9 104.2 418.4 110.1 418.7 103.6 419.0 109.9 419.3 101.8 419.6 117.3 420.1 101.8 420.6 116.8 421.1 101.4 421.6 109.2 422.1 106.3 422.5 114.1 423.0 102.6 423.5 111.9 423.9 103.9 424.4 118.1 424.9 103.4 425.3 116.2 425.9 104.9 426.4 113.3 426.9 107.5 427.4 116.0 427.6 104.8 427.8 118.1 428.1 104.5 428.4 111.9 428.6 106.4 428.9 111.1 429.4 105.8 429.9 118.1 430.1 105.1 430.3 116.1 430.6 110.4 430.9 112.4 431.4 109.0 431.9 109.0 432.5 108.8 433.0 110.3 433.5 108.4 434.0 110.3 434.2 109.2 434.4 111.0 434.6 106.1 434.8 115.3 435.1 106.7 435.3 109.9 435.7 107.4 436.1 118.1 436.5 105.9 436.9 118.1 437.5 105.1 438.0 116.0 438.3 105.7 438.7 111.3 439.2 107.2 439.7 118.1 440.2 107.3 440.6 118.1 441.0 106.4 441.4 118.1 441.9 107.1 442.4 114.5 442.6 107.3 442.8 118.1 443.1 110.6 443.4 118.1 443.9 108.0 444.3 111.0 444.8 108.7 445.3 114.2 445.5 106.6 445.7 112.7 445.9 118.1 446.1 113.4 446.4 107.4 446.7 118.1 447.0 108.1 447.2 117.6 447.6 108.7 448.0 118.1 448.4 108.1 448.8 113.6 449.0 107.0 449.2 118.1 449.5 109.3 449.7 117.3 450.1 116.0 450.4 118.1 450.6 106.4 450.8 118.1 451.0 107.0 451.2 118.1 451.6 106.9 452.1 118.1 452.3 114.9 452.5 118.1 452.8 107.7 453.1 113.8 453.4 106.3 453.7 118.1 454.2 105.9 454.7 118.1 455.3 105.8 455.8 116.8 456.2 107.6 456.7 118.1 457.0 106.7 457.3 113.5 457.7 107.5 458.1 118.1 458.5 106.4 458.8 113.1 459.2 112.8 459.7 118.1 460.1 108.5 460.6 118.1 460.8 108.1 461.1 118.1 461.3 107.6 461.6 118.1 461.8 107.7 462.0 112.9 462.4 111.8 462.8 118.1 463.1 109.7 463.3 118.1 463.8 108.6 464.2 118.1 464.7 107.9 465.1 118.1 465.3 107.9 465.6 118.1 465.9 109.3 466.2 118.1 466.7 113.8 467.1 118.1 467.7 108.3 468.2 118.1 468.5 108.5 468.8 118.1 469.1 109.5 469.3 117.4 469.6 118.1 470.0 118.1 470.3 110.8 470.5 118.1 470.8 111.5 471.0 118.1 471.3 109.2 471.6 114.7 472.0 108.4 472.4 118.1 472.6 111.6 472.9 118.1 473.3 110.4 473.8 118.1 474.0 111.0 474.3 114.9 474.7 108.5 475.1 118.1 475.5 111.5 475.8 118.1 476.1 109.1 476.4 118.1 476.9 109.0 477.4 118.1 477.9 107.5 478.4 118.1 478.9 108.8 479.4 118.1 479.6 107.4 479.8 118.1 480.3 109.4 480.9 118.1 481.3 115.1 481.7 114.6 482.2 111.3 482.7 118.1 483.2 111.2 483.6 118.1 484.1 113.5 484.6 118.1 485.0 110.5 485.4 118.1 485.8 108.9 486.2 115.9 486.7 108.7 487.3 118.1 487.8 109.0 488.4 118.1 488.9 109.4 489.3 118.1 489.7 110.2 490.0 114.8 490.4 114.2 490.8 116.3 491.1 109.7 491.4 118.1 491.9 110.7 492.5 113.9 492.8 110.3 493.1 115.4 493.4 110.9 493.8 118.1 494.3 109.6 494.8 118.1 495.0 109.1 495.2 114.1 495.6 109.7 496.0 118.1 496.4 110.8 496.9 118.1 497.2 111.3 497.5 118.1 498.1 111.6 498.6 115.5 499.1 115.4 499.6 117.6 500.1 108.2 500.7 118.1 500.9 110.2 501.2 118.1 501.6 110.7 502.0 118.1 502.3 110.4 502.6 118.1 503.2 112.0 503.7 118.1 504.2 110.0 504.6 116.0 504.9 109.4 505.3 118.1 505.8 109.8 506.3 116.9 506.9 114.7 507.4 118.1 507.9 115.1 508.3 115.2 508.5 110.8 508.8 118.1 509.1 110.6 509.5 118.1 509.9 112.8 510.3 115.3 510.5 111.6 510.8 118.1 511.1 112.5 511.5 118.1 512.0 112.1 512.5 118.1 512.8 110.4 513.0 116.9 513.5 114.1 513.9 118.1 514.1 110.9 514.4 118.1 514.7 111.0 515.1 118.1 515.4 111.3 515.7 118.1 515.9 118.1 516.0 118.1 516.3 111.5 516.6 118.1 516.9 113.5 517.2 118.1 517.7 113.7 518.2 118.1 518.7 112.0 519.3 118.1 519.5 114.2 519.8 115.7 520.2 117.2 520.7 118.1 521.0 114.1 521.3 118.1 521.7 116.6 522.2 118.1 522.6 113.1 522.9 118.1 523.4 111.3 523.9 117.0 524.2 112.6 524.4 117.4 524.7 116.2 524.9 118.1 525.4 112.2 525.9 118.1 526.4 115.6 526.9 117.5 527.4 118.1 527.9 118.1 528.1 116.7 528.3 118.1 528.8 118.1 529.3 118.1 529.8 114.8 530.3 118.1 530.7 117.2 531.0 118.1 531.6 116.0 532.1 118.1 532.6 113.4 533.2 118.1 533.6 116.1 534.0 118.1 534.4 113.8 534.8 117.2 535.3 112.6 535.9 116.9 536.2 116.1 536.4 118.1" stroke="#ff0000" stroke-width="0.6" fill="none" stroke-linejoin="round"/><path d="M325.5 89.0 326.4 90.1 327.3 106.4 328.0 91.5 328.7 99.2 329.3 90.6 329.9 102.9 330.7 89.6 331.5 102.4 332.4 92.7 333.3 115.1 333.9 95.9 334.4 118.1 335.0 92.6 335.7 112.0 336.7 97.6 337.8 109.2 338.3 96.2 338.9 109.6 339.7 96.6 340.5 104.6 341.0 99.6 341.4 118.1 342.1 99.8 342.8 118.1 343.8 98.5 344.7 118.1 345.2 98.6 345.7 118.1 346.2 98.8 346.7 109.2 347.7 98.5 348.6 113.6 349.4 98.1 350.1 118.1 350.6 99.0 351.1 114.2 351.9 98.6 352.7 109.0 353.2 98.4 353.8 108.2 354.3 99.8 354.9 118.1 355.9 99.2 356.9 106.3 357.4 100.2 357.9 118.1 358.9 100.9 359.9 118.1 360.4 101.9 361.0 110.3 361.4 100.1 361.9 107.4 362.6 99.6 363.2 108.4 363.8 105.0 364.4 118.1 365.0 100.0 365.7 118.1 366.3 99.4 367.0 112.1 367.8 99.4 368.7 107.6 369.2 100.3 369.7 118.1 370.5 100.7 371.3 108.6 371.9 100.6 372.5 118.1 373.0 102.3 373.4 118.1 373.8 99.0 374.2 118.1 375.1 99.5 376.1 118.1 376.8 98.9 377.6 113.2 378.2 103.0 378.7 108.9 379.2 100.2 379.8 114.3 380.2 100.9 380.7 110.0 381.2 99.9 381.7 118.1 382.0 105.9 382.4 110.0 383.1 101.5 383.9 113.5 384.6 101.3 385.3 118.1 385.9 100.7 386.5 117.1 387.5 103.0 388.5 118.1 389.0 100.6 389.4 118.1 389.9 99.6 390.3 118.1 390.8 102.1 391.2 118.1 392.0 100.0 392.8 113.0 393.5 100.8 394.2 107.5 394.7 100.2 395.3 110.8 395.6 100.4 396.0 118.1 397.0 100.0 398.0 118.1 398.4 104.6 398.9 118.1 399.7 99.3 400.5 118.1 401.3 99.0 402.0 118.1 402.4 104.4 402.7 118.1 403.4 101.5 404.0 118.1 404.4 99.2 404.9 118.1 405.9 99.4 406.8 115.4 407.4 99.6 408.0 118.1 408.4 101.3 408.8 118.1 409.2 100.1 409.6 118.1 410.3 101.0 411.0 118.1 411.6 102.3 412.1 118.1 412.7 102.7 413.2 118.1 414.1 99.5 415.0 118.1 415.8 101.7 416.6 118.1 417.4 99.8 418.1 118.1 419.1 101.4 420.0 114.4 421.0 100.6 422.1 113.7 422.9 101.3 423.8 108.2 424.3 104.8 424.8 118.1 425.3 102.4 425.7 118.1 426.6 104.5 427.4 111.6 427.8 102.0 428.2 118.1 429.0 101.6 429.7 117.0 430.7 103.2 431.6 115.3 432.1 99.9 432.5 114.9 432.9 99.5 433.2 118.1 433.8 100.0 434.3 118.1 435.1 100.8 435.9 118.1 436.5 100.4 437.0 115.8 437.5 99.0 438.1 118.1 438.7 99.5 439.3 117.9 439.8 101.9 440.3 115.0 440.8 104.4 441.2 109.8 442.1 102.7 443.0 118.1 444.0 102.5 445.0 114.2 445.7 103.3 446.4 115.2 447.4 105.3 448.4 115.0 449.3 103.7 450.3 118.1 450.7 104.8 451.2 111.8 451.6 104.0 452.0 114.7 452.7 105.0 453.4 110.9 454.3 106.3 455.2 116.6 456.1 104.7 456.9 118.1 457.4 105.7 457.9 118.1 458.7 109.7 459.5 116.3 460.3 105.1 461.0 116.6 461.9 104.6 462.7 118.1 463.5 106.7 464.3 118.1 465.0 109.4 465.6 118.1 466.2 106.3 466.7 111.9 467.4 105.2 468.0 118.1 468.3 105.6 468.7 118.1 469.5 107.1 470.3 118.1 470.8 105.2 471.4 116.0 471.9 107.2 472.5 112.1 473.0 106.8 473.5 117.7 474.0 107.0 474.5 112.2 475.3 105.9 476.1 114.7 477.0 105.9 477.9 118.1 478.3 106.0 478.7 118.1 479.1 104.5 479.4 118.1 480.1 105.0 480.8 118.1 481.4 104.5 482.1 116.3 482.6 108.3 483.1 118.1 483.6 107.5 484.1 118.1 485.1 105.6 486.1 118.1 486.8 106.3 487.4 118.1 487.8 105.2 488.3 118.1 489.3 107.1 490.2 118.1 491.0 106.0 491.8 118.1 492.7 109.2 493.5 118.1 493.9 110.2 494.4 118.1 494.9 106.5 495.4 118.1 496.0 106.9 496.7 118.1 497.0 106.8 497.4 118.1 497.8 107.4 498.1 118.1 498.6 108.3 499.1 118.1 499.7 108.5 500.3 115.2 501.1 108.3 501.8 118.1 502.6 107.1 503.3 113.5 503.9 106.7 504.4 118.1 505.4 107.1 506.4 116.5 506.9 110.2 507.5 118.1 508.0 106.6 508.6 118.1 509.2 106.5 509.7 118.1 510.1 107.5 510.6 118.1 511.5 106.3 512.5 118.1 513.3 107.1 514.0 118.1 514.4 106.4 514.8 118.1 515.3 105.9 515.7 118.1 516.2 107.0 516.7 118.1 517.3 107.6 517.8 118.1 518.3 109.7 518.7 118.1 519.1 108.5 519.5 114.8 520.1 107.8 520.7 118.1 521.6 108.1 522.6 118.1 523.4 107.0 524.2 118.1 525.2 109.7 526.3 118.1 526.7 107.5 527.1 118.1 527.6 107.3 528.0 118.1 528.6 108.7 529.2 115.0 530.0 112.4 530.7 118.1 531.1 109.2 531.5 118.1 532.0 108.2 532.4 118.1 533.3 108.0 534.1 118.1 534.8 109.7 535.5 117.2 536.5 109.0 537.5 118.1" stroke="#64c864" stroke-width="0.6" fill="none" stroke-linejoin="round"/><path d="M325.5 89.0 326.5 91.3 327.5 105.1 328.3 90.7 329.1 100.6 329.7 94.0 330.3 108.5 330.7 93.0 331.1 118.1 331.9 93.5 332.8 111.2 333.3 98.3 333.9 108.3 334.5 95.6 335.1 118.1 335.8 97.4 336.4 99.4 337.4 95.3 338.4 107.2 339.3 98.7 340.1 106.7 340.6 97.2 341.1 110.2 341.5 95.3 341.9 115.2 342.8 96.2 343.7 118.1 344.0 96.8 344.4 118.1 344.9 99.3 345.4 115.9 346.3 97.1 347.2 108.5 347.6 98.9 348.0 118.0 348.3 98.4 348.7 114.9 349.6 99.8 350.6 105.0 351.3 98.8 352.1 110.1 352.9 98.5 353.8 118.1 354.4 99.4 355.0 118.1 355.9 99.1 356.8 117.3 357.6 97.9 358.5 113.8 359.1 99.3 359.8 118.1 360.3 98.8 360.9 118.1 361.8 99.5 362.7 118.1 363.4 99.6 364.2 105.3 365.1 98.8 366.0 109.6 366.4 102.8 366.8 105.4 367.3 101.4 367.8 114.2 368.2 100.4 368.7 116.8 369.4 100.7 370.1 118.1 370.5 102.4 371.0 111.9 371.9 99.8 372.8 118.1 373.4 101.5 373.9 118.1 374.6 101.7 375.4 114.8 376.2 102.8 377.1 114.3 377.9 100.9 378.7 118.1 379.6 100.8 380.5 118.1 381.0 100.0 381.5 118.1 382.1 104.0 382.7 114.5 383.3 100.0 383.9 118.1 384.4 99.4 384.8 118.1 385.7 99.5 386.6 118.1 387.1 100.7 387.5 118.1 388.2 100.3 389.0 118.1 389.5 99.7 390.1 118.1 390.8 99.7 391.5 118.1 392.0 101.1 392.4 114.1 393.2 99.4 393.9 115.9 394.8 99.7 395.6 118.1 396.5 99.0 397.5 117.9 398.0 99.3 398.5 118.1 399.5 100.1 400.5 116.0 401.2 101.9 402.0 118.1 402.8 100.5 403.6 118.1 404.2 100.8 404.7 116.8 405.4 100.7 406.0 113.1 406.7 102.1 407.4 118.1 408.1 100.8 408.7 115.1 409.5 101.6 410.2 118.1 411.0 100.5 411.7 110.3 412.2 101.5 412.7 118.1 413.0 105.8 413.4 118.1 414.1 101.1 414.9 109.0 415.7 105.4 416.6 118.1 417.3 101.8 418.0 118.1 419.0 103.7 420.1 108.0 420.9 101.0 421.8 111.5 422.7 100.6 423.6 113.0 424.4 107.9 425.2 117.1 425.7 100.9 426.2 116.3 426.5 101.6 426.9 118.1 427.5 106.5 428.0 118.1 428.7 103.0 429.3 117.6 429.7 102.2 430.1 114.9 430.7 102.2 431.2 118.1 432.1 102.0 433.0 112.3 433.4 104.6 433.7 118.1 434.7 108.1 435.7 116.8 436.6 103.1 437.4 118.1 438.3 103.7 439.2 117.9 440.0 109.1 440.9 113.5 441.5 101.2 442.2 117.7 442.7 105.4 443.3 118.1 444.2 101.9 445.2 110.2 445.9 104.6 446.6 118.1 447.1 103.3 447.6 118.1 448.6 104.0 449.6 116.7 450.2 106.4 450.9 118.1 451.4 104.0 451.9 118.1 452.8 104.9 453.7 118.1 454.6 105.5 455.5 114.3 456.1 105.3 456.7 118.1 457.1 106.4 457.5 118.1 457.9 105.1 458.3 118.1 459.2 107.1 460.0 118.1 460.6 105.9 461.2 113.3 462.0 104.6 462.8 118.1 463.3 104.5 463.9 118.1 464.3 104.8 464.8 118.1 465.5 105.1 466.2 112.9 466.8 106.4 467.5 118.1 468.4 107.4 469.3 118.1 470.2 108.4 471.1 118.1 472.1 108.2 473.1 118.1 474.1 107.3 475.0 118.1 476.0 106.8 476.9 118.1 477.5 107.5 478.0 118.1 478.7 106.2 479.5 113.2 480.4 104.7 481.3 118.1 482.0 104.1 482.7 118.1 483.6 104.6 484.4 117.2 485.1 108.3 485.7 118.1 486.2 104.6 486.7 118.1 487.7 107.4 488.7 117.4 489.1 108.3 489.5 115.5 490.5 106.3 491.4 118.1 492.3 109.3 493.1 118.1 493.6 106.4 494.1 117.5 494.5 108.2 494.9 118.1 495.5 107.2 496.1 118.1 496.5 110.9 496.9 118.1 497.5 106.9 498.0 118.1 498.5 111.9 499.0 118.1 500.0 107.9 500.9 118.1 501.5 109.2 502.0 113.1 502.7 109.8 503.5 114.7 504.0 109.2 504.5 118.1 505.5 110.0 506.5 118.1 507.4 108.6 508.3 114.2 508.9 107.7 509.5 118.1 510.2 111.6 510.9 118.1 511.6 109.6 512.2 118.1 513.1 107.5 513.9 118.1 514.8 108.4 515.6 118.1 516.4 108.8 517.1 118.1 518.1 106.8 519.0 118.1 519.9 113.7 520.8 118.1 521.4 106.1 522.0 118.1 522.6 106.5 523.2 118.1 523.8 107.5 524.3 118.1 524.8 106.7 525.3 118.1 526.2 107.9 527.1 118.1 527.8 107.5 528.6 118.1 529.5 108.2 530.4 118.1 531.3 110.0 532.2 118.1 532.5 107.6 532.9 118.1 533.3 112.0 533.7 118.1 534.4 108.7 535.0 118.1 535.6 108.6 536.1 118.1 536.5 109.8 536.9 118.1" stroke="#7373fa" stroke-width="0.6" fill="none" stroke-linejoin="round"/></g>
<text x="321.9" y="72.96" font-size="10" text-anchor="end">0</text>
<text x="321.9" y="92.76" font-size="10" text-anchor="end"><tspan dy="-0.9">-</tspan><tspan dy="0.9">30</tspan></text>
<text x="321.9" y="112.56" font-size="10" text-anchor="end"><tspan dy="-0.9">-</tspan><tspan dy="0.9">60</tspan></text>
<text x="483.5" y="82.66" font-size="11.5">2 kHz</text>
<path d="M378.18 124.1V163.7M430.85 124.1V163.7M483.53 124.1V163.7M325.5 143.9H536.2" stroke="#c4c4c4" stroke-width="0.8" stroke-dasharray="1 1" fill="none"/>
<path d="M378.18 124.1v2M378.18 163.7v-2M430.85 124.1v2M430.85 163.7v-2M483.53 124.1v2M483.53 163.7v-2M325.5 143.9h2M536.2 143.9h-2" stroke="#555" stroke-width="0.8" fill="none"/>
<path d="M325 124.1H536.7M325 163.7H536.7" stroke="#555" stroke-width="1" fill="none"/>
<path d="M325.5 124.1V163.7M536.2 124.1V163.7" stroke="#9a9a9a" stroke-width="1.1" fill="none"/>
<path d="M325.5 125.6V163.7M536.2 125.6V163.7" stroke="#333" stroke-width="1" stroke-dasharray="1 2" fill="none"/>
<g clip-path="url(#c12)"><path d="M326.3 173.6 326.5 124.1 327.1 129.4 327.9 136.0 328.4 150.5 328.8 161.9 329.2 158.9 329.7 155.2 330.2 152.1 330.6 136.2 331.0 152.6 331.5 159.7 331.9 169.3 332.4 152.9 332.8 165.8 333.2 155.9 333.5 167.0 334.1 153.7 334.7 164.9 335.1 151.8 335.5 163.2 335.9 153.9 336.2 159.7 337.4 141.9 338.0 168.1 338.9 147.7 339.8 157.7 340.3 140.6 340.8 148.4 341.0 139.3 342.1 146.0 342.4 140.0 342.8 149.6 343.6 148.7 344.4 158.8 344.8 142.7 345.1 154.5 345.9 145.5 346.8 173.6 347.7 156.2 348.5 161.9 349.1 149.0 349.6 173.6 350.5 148.5 351.5 161.4 351.8 140.6 353.1 162.5 354.0 145.8 354.9 154.7 355.4 149.2 355.8 154.0 356.5 147.3 357.1 161.4 357.7 148.4 358.2 162.4 358.8 147.6 359.4 152.2 360.3 148.5 361.2 167.0 362.1 147.5 363.0 161.8 364.5 143.9 364.9 161.9 365.3 147.2 365.8 158.1 366.7 154.3 367.6 167.9 368.4 154.1 369.2 173.6 369.8 156.8 370.3 173.6 370.8 155.9 371.3 163.2 372.2 155.3 373.2 173.6 373.9 155.4 374.6 173.6 374.7 148.5 375.7 162.6 376.6 160.2 377.5 163.8 377.9 154.8 378.3 166.4 379.1 155.9 379.9 170.9 380.8 150.5 381.3 164.5 381.7 154.0 382.1 158.3 383.0 155.4 383.9 163.6 384.6 152.3 385.3 160.8 386.2 154.3 387.2 166.1 387.9 161.5 388.6 173.6 389.3 157.1 390.0 163.6 390.9 156.1 391.8 154.8 391.9 146.8 393.7 163.0 394.5 155.4 395.4 173.6 396.3 156.2 397.2 173.0 397.6 156.0 398.1 169.0 398.6 161.2 399.2 172.0 400.1 159.6 401.0 171.6 401.3 155.8 401.7 161.4 401.7 147.8 403.1 164.8 403.7 156.2 404.4 160.3 405.1 155.1 405.8 166.1 406.4 154.7 407.0 162.6 407.4 155.1 407.8 162.6 408.3 154.4 408.8 173.6 409.7 156.8 410.7 166.5 411.2 153.4 411.7 170.2 411.7 151.2 413.0 162.9 413.7 159.3 414.4 163.4 415.3 153.9 416.3 160.4 416.9 162.0 417.5 168.6 418.4 156.1 419.4 164.2 420.1 158.2 420.8 173.6 421.4 159.8 421.9 172.3 422.4 155.1 422.9 172.1 423.8 157.3 424.8 164.4 425.8 160.2 426.7 166.8 427.2 160.1 427.6 170.5 428.2 163.0 428.8 164.1 429.4 161.3 429.9 173.6 430.2 159.7 430.6 165.2 431.5 161.6 432.4 173.6 432.8 162.3 433.3 173.6 433.7 160.0 434.2 168.1 434.6 161.1 435.1 173.6 435.9 163.7 436.7 171.1 437.0 160.2 437.4 173.6 438.1 160.5 438.9 173.6 439.6 161.3 440.3 167.8 441.1 161.4 441.9 173.6 442.5 161.3 443.1 173.6 443.5 160.1 443.8 173.6 444.2 166.2 444.5 173.6 445.4 160.1 446.3 173.6 447.0 165.7 447.8 173.6 448.4 158.6 449.0 170.1 450.0 160.2 450.9 173.6 451.4 162.1 451.9 172.7 452.8 165.3 453.6 173.6 454.4 164.6 455.3 173.6 456.0 165.4 456.7 173.6 457.3 162.9 457.9 168.6 458.6 164.8 459.4 173.6 460.2 161.6 461.0 173.6 461.6 166.3 462.2 173.6 462.5 164.6 462.9 173.6 463.3 162.0 463.8 172.1 464.6 165.4 465.4 172.9 466.2 164.1 467.0 173.6 467.7 164.1 468.4 173.6 468.9 169.2 469.4 173.6 470.1 169.4 470.7 173.6 471.4 166.5 472.1 173.6 472.6 168.2 473.1 173.6 473.5 168.2 473.9 171.0 474.6 165.4 475.4 173.6 475.8 166.0 476.1 172.0 477.0 165.3 478.0 171.9 478.5 167.3 479.0 173.6 479.8 173.6 480.6 170.7 481.6 165.1 482.5 173.6 482.8 166.2 483.2 173.6 484.0 163.9 484.9 173.6 485.4 165.4 486.0 173.6 486.5 169.2 487.0 173.6 488.0 163.4 488.9 173.6 489.4 164.4 489.9 173.6 490.8 170.0 491.8 173.6 492.4 165.4 493.0 170.2 493.9 171.2 494.7 173.6 495.3 171.3 495.9 173.6 496.5 165.4 497.1 173.6 497.5 163.9 498.0 173.6 498.4 164.1 498.7 173.6 499.4 165.3 500.1 169.9 501.1 165.5 502.0 173.6 502.9 165.9 503.9 173.6 504.3 164.5 504.8 173.6 505.1 169.2 505.5 169.5 506.2 172.0 506.9 173.6 507.3 165.2 507.7 173.6 508.3 167.4 509.0 173.6 509.7 167.0 510.5 173.6 511.2 171.9 512.0 171.7 512.7 167.4 513.3 173.6 514.2 168.2 515.0 173.6 515.8 165.8 516.7 173.6 517.5 167.5 518.2 173.6 518.6 170.3 518.9 173.6 519.4 166.1 519.9 173.1 520.6 164.6 521.2 172.3 521.9 171.9 522.7 173.6 523.4 173.6 524.1 173.6 524.6 173.4 525.1 173.6 525.9 173.6 526.7 172.2 527.1 172.0 527.6 173.6 528.1 167.0 528.5 173.6 529.4 166.3 530.2 173.6 531.1 170.0 531.9 173.6 532.9 167.7 533.9 173.6 534.4 168.5 534.8 173.6 535.7 170.9 536.7 173.6" stroke="#ff0000" stroke-width="0.7" fill="none" stroke-linejoin="round"/><path d="M325.5 144.6 326.3 145.9 327.0 160.9 328.2 144.3 329.5 173.6 331.0 145.8 332.6 173.6 334.2 148.0 335.7 163.8 336.3 148.5 336.9 157.1 338.3 148.7 339.6 160.7 340.5 151.0 341.3 168.3 342.6 153.0 343.9 170.3 344.9 150.9 345.9 173.6 346.7 152.5 347.6 157.8 348.8 149.5 350.0 169.4 350.8 149.4 351.7 173.6 352.4 150.7 353.1 170.4 354.7 151.1 356.2 163.8 357.3 152.1 358.5 173.6 359.8 153.4 361.1 173.6 362.5 151.5 363.8 165.0 365.0 152.0 366.3 162.8 367.0 149.7 367.7 172.6 368.9 149.5 370.0 173.6 371.2 151.8 372.3 173.6 373.3 152.9 374.4 160.9 375.2 158.6 376.0 169.2 377.4 159.7 378.9 162.7 379.5 164.3 380.1 170.9 381.2 157.4 382.3 173.6 382.9 154.6 383.5 173.3 384.7 155.4 385.9 172.9 387.4 155.6 388.8 173.6 390.1 154.5 391.3 166.0 392.5 155.4 393.8 162.6 394.4 155.0 394.9 168.8 395.7 155.9 396.4 172.9 398.1 159.2 399.7 173.6 400.6 155.5 401.6 164.9 402.5 155.0 403.4 172.0 404.2 155.9 405.0 173.6 406.2 155.7 407.3 173.6 408.2 155.9 409.1 173.6 409.8 156.5 410.5 173.6 412.0 162.5 413.4 173.6 414.9 156.0 416.3 173.6 418.0 163.7 419.6 173.6 420.2 155.4 420.7 168.3 422.2 156.9 423.7 173.6 424.4 155.9 425.0 173.6 426.0 157.8 427.1 168.7 427.8 158.5 428.5 173.6 429.3 157.4 430.1 173.6 431.5 158.1 433.0 173.6 434.5 158.3 436.0 171.1 436.6 157.5 437.3 170.3 438.1 157.6 438.9 168.0 439.6 158.2 440.4 173.6 441.7 159.1 443.0 170.1 444.4 158.2 445.7 173.6 447.0 159.4 448.3 167.2 448.9 158.0 449.5 173.6 450.9 157.5 452.3 173.6 453.4 158.9 454.5 173.6 455.6 161.4 456.7 169.3 457.5 159.5 458.3 167.6 458.9 160.0 459.6 168.4 460.7 160.9 461.9 173.6 462.8 162.1 463.7 173.6 464.5 161.1 465.3 173.6 466.9 161.9 468.4 173.2 470.0 159.9 471.6 173.6 472.5 160.6 473.5 167.1 475.1 162.6 476.7 167.6 477.8 161.0 478.9 167.9 480.4 161.8 481.9 173.6 482.5 160.5 483.1 173.6 483.9 161.5 484.7 172.8 485.8 161.2 486.9 173.6 487.5 162.1 488.1 171.9 488.7 161.5 489.3 173.6 490.8 163.8 492.4 173.6 493.7 160.8 495.0 173.6 496.3 160.9 497.6 173.6 498.9 162.1 500.2 173.6 501.2 167.7 502.2 173.6 502.9 164.8 503.6 173.6 504.3 163.4 505.0 173.6 505.5 163.7 506.1 173.6 506.7 162.4 507.2 173.6 508.8 168.3 510.3 173.0 511.3 164.3 512.2 173.6 513.6 163.1 515.0 173.5 516.0 166.7 517.0 173.6 518.5 163.3 520.0 173.6 521.4 168.5 522.8 173.6 523.7 161.7 524.6 172.5 526.1 164.9 527.5 173.6 529.2 165.3 530.8 171.9 531.9 165.3 533.0 173.6 534.0 167.4 535.0 173.6 535.6 166.2 536.2 173.6 536.8 163.9 537.4 173.6" stroke="#64c864" stroke-width="0.7" fill="none" stroke-linejoin="round"/><path d="M325.5 143.2 326.5 148.9 327.6 164.6 329.2 145.9 330.7 162.0 332.3 150.9 333.8 155.4 334.4 151.0 335.0 162.7 335.8 148.5 336.5 157.9 337.4 148.1 338.4 161.2 340.0 148.8 341.6 173.6 343.2 149.9 344.8 161.4 345.8 151.7 346.8 165.9 348.3 148.3 349.9 167.6 350.9 152.2 351.9 173.6 353.4 150.6 354.8 173.6 355.4 149.4 356.0 173.6 356.9 150.6 357.7 171.0 358.4 149.2 359.2 169.4 360.5 149.3 361.8 173.6 363.0 152.9 364.3 173.6 364.9 152.9 365.5 162.1 366.5 151.5 367.5 173.6 368.3 151.9 369.1 166.3 370.6 152.1 372.2 173.1 373.6 151.9 375.1 173.6 376.0 153.0 376.8 162.4 378.4 152.4 380.0 170.2 381.2 155.0 382.4 169.7 383.2 152.4 383.9 163.9 384.7 153.0 385.4 162.6 386.3 153.8 387.2 162.0 388.1 155.3 388.9 173.6 389.8 158.9 390.6 172.2 391.8 153.3 393.0 165.4 394.2 152.7 395.5 170.7 396.4 153.0 397.4 166.0 398.8 155.0 400.2 173.6 400.9 159.7 401.5 173.6 403.0 155.5 404.5 171.6 405.6 156.5 406.6 173.6 408.0 158.0 409.5 171.7 410.4 155.6 411.3 163.6 412.2 154.6 413.0 171.9 413.7 156.1 414.3 165.1 415.2 155.6 416.0 173.6 417.1 155.5 418.1 165.4 419.2 156.1 420.3 172.8 421.3 156.6 422.4 168.2 423.1 158.9 423.8 165.2 425.4 156.1 427.0 172.6 427.8 155.9 428.5 172.5 429.8 156.8 431.0 173.6 432.5 156.3 433.9 173.6 435.3 157.1 436.7 165.3 437.3 160.3 437.9 173.6 438.5 159.4 439.1 170.5 439.9 157.7 440.7 173.6 441.7 158.2 442.8 173.6 444.4 157.5 446.0 173.6 447.7 160.6 449.3 173.6 450.4 158.6 451.4 168.8 452.7 158.0 454.0 173.6 455.2 159.4 456.5 173.6 457.1 160.8 457.7 173.6 458.5 159.3 459.2 171.1 459.9 159.6 460.7 167.1 461.9 160.8 463.1 170.7 464.8 163.3 466.4 172.6 467.1 163.0 467.7 173.6 469.1 160.7 470.4 173.6 471.1 161.3 471.7 173.6 473.0 160.6 474.4 173.6 475.9 161.5 477.5 173.6 478.9 161.9 480.4 173.6 481.1 160.3 481.8 173.6 483.1 160.7 484.4 172.9 485.0 162.1 485.6 173.6 487.0 161.4 488.4 173.6 489.8 164.0 491.2 173.6 491.8 163.5 492.5 173.6 493.5 163.1 494.6 173.6 496.1 162.4 497.6 173.6 498.9 163.9 500.2 168.5 501.3 166.6 502.5 173.6 503.5 165.5 504.4 173.6 505.6 164.7 506.9 173.6 507.8 164.1 508.7 169.6 509.5 165.4 510.3 173.6 511.6 163.6 512.9 173.6 514.5 164.7 516.2 171.3 516.9 164.3 517.6 173.6 518.9 162.9 520.2 173.6 521.3 166.5 522.3 173.6 523.1 164.3 523.9 173.6 524.6 162.6 525.3 173.6 526.7 165.6 528.2 173.6 529.6 165.0 531.1 173.6 531.7 162.7 532.4 173.6 533.7 163.4 535.0 173.6 536.3 163.8 537.7 173.6" stroke="#7373fa" stroke-width="0.7" fill="none" stroke-linejoin="round"/></g>
<text x="321.9" y="128.5" font-size="10" text-anchor="end">0</text>
<text x="321.9" y="148.3" font-size="10" text-anchor="end"><tspan dy="-0.9">-</tspan><tspan dy="0.9">30</tspan></text>
<text x="321.9" y="168.1" font-size="10" text-anchor="end"><tspan dy="-0.9">-</tspan><tspan dy="0.9">60</tspan></text>
<text x="483.5" y="138.2" font-size="11.5">1 kHz</text>
<path d="M378.18 179.9V219.5M430.85 179.9V219.5M483.53 179.9V219.5M325.5 199.7H536.2" stroke="#c4c4c4" stroke-width="0.8" stroke-dasharray="1 1" fill="none"/>
<path d="M378.18 179.9v2M378.18 219.5v-2M430.85 179.9v2M430.85 219.5v-2M483.53 179.9v2M483.53 219.5v-2M325.5 199.7h2M536.2 199.7h-2" stroke="#555" stroke-width="0.8" fill="none"/>
<path d="M325 179.9H536.7M325 219.5H536.7" stroke="#555" stroke-width="1" fill="none"/>
<path d="M325.5 179.9V219.5M536.2 179.9V219.5" stroke="#9a9a9a" stroke-width="1.1" fill="none"/>
<path d="M325.5 181.4V219.5M536.2 181.4V219.5" stroke="#333" stroke-width="1" stroke-dasharray="1 2" fill="none"/>
<g clip-path="url(#c13)"><path d="M326.1 229.4 326.5 196.4 326.9 183.2 327.3 179.9 327.6 183.2 328.0 189.1 328.4 190.5 328.7 191.8 329.5 201.0 330.0 197.1 331.2 193.8 331.8 198.4 332.5 201.7 333.7 208.3 334.3 229.4 335.2 205.5 336.2 202.2 337.4 201.0 337.5 202.2 337.5 205.5 337.5 211.9 337.9 206.3 338.2 204.9 338.7 203.7 339.5 204.9 340.1 206.3 340.7 206.3 341.3 202.2 342.0 198.9 342.9 197.7 343.2 198.9 343.4 202.2 343.6 212.3 344.5 204.2 345.4 200.9 346.6 199.7 346.8 200.9 346.9 204.2 347.0 209.8 347.7 208.2 348.3 204.9 349.2 203.7 349.3 204.9 349.4 208.2 349.4 211.5 349.9 200.9 350.4 197.6 351.0 196.4 351.2 197.6 351.3 200.9 351.4 208.1 352.2 202.9 352.9 199.6 353.9 198.4 354.2 199.6 354.4 202.9 354.7 216.0 354.9 210.8 355.1 207.5 355.3 206.3 355.6 207.5 355.8 210.8 356.0 219.0 356.3 210.2 356.7 206.9 357.1 205.6 357.3 206.9 357.5 210.2 357.7 229.4 358.0 210.8 358.4 207.5 358.8 206.3 359.2 207.5 359.5 210.8 359.9 213.9 360.2 211.1 360.5 207.8 360.8 206.6 361.2 207.8 361.5 211.1 361.8 219.4 362.1 205.9 362.5 202.6 362.9 201.3 363.1 202.6 363.3 205.9 363.4 213.4 364.1 205.9 364.7 202.6 365.5 201.3 365.9 202.6 366.2 205.9 366.4 220.8 366.6 209.5 366.8 206.2 367.1 205.0 367.8 206.2 368.3 209.5 368.8 220.9 369.1 214.2 369.4 210.9 369.7 209.7 370.1 210.9 370.3 214.2 370.6 219.4 370.9 215.3 371.2 212.0 371.7 210.8 372.1 212.0 372.5 215.3 372.8 222.3 373.0 216.9 373.2 213.6 373.5 212.4 373.8 213.6 374.0 216.9 374.2 217.8 374.3 207.5 374.4 204.2 374.5 203.0 375.4 204.2 376.0 207.5 376.7 215.1 377.1 215.8 377.5 213.2 378.1 212.0 378.7 213.2 379.1 215.8 379.5 215.8 379.8 216.0 380.1 212.7 380.5 211.5 380.9 212.7 381.1 216.0 381.4 219.3 381.7 218.8 381.9 215.7 382.2 214.5 382.5 215.7 382.7 218.8 382.9 218.8 383.3 217.1 383.7 213.8 384.3 212.5 384.8 213.8 385.2 217.1 385.6 229.4 386.1 216.0 386.7 212.7 387.4 211.5 388.1 212.7 388.7 216.0 389.2 226.1 389.6 217.2 390.0 213.9 390.4 212.7 390.9 213.9 391.3 217.2 391.7 218.9 391.7 210.8 391.8 207.5 391.9 206.3 392.6 207.5 393.1 210.8 393.7 229.4 393.9 216.3 394.1 213.0 394.3 211.8 394.6 213.0 394.8 216.3 395.0 228.8 395.2 216.7 395.5 213.4 395.9 212.2 396.2 213.4 396.5 216.7 396.8 229.4 397.1 216.8 397.5 213.5 398.0 212.3 398.5 213.5 398.9 216.8 399.2 223.5 399.6 216.9 399.9 213.6 400.4 212.4 400.8 213.6 401.1 216.9 401.5 222.3 401.7 217.8 401.9 214.5 402.2 213.3 402.5 214.5 402.7 217.8 403.0 229.4 403.3 217.8 403.7 214.5 404.2 213.3 404.7 214.5 405.1 217.8 405.5 229.4 406.0 218.5 406.5 215.2 407.2 214.0 407.9 215.2 408.4 218.5 408.9 229.4 409.3 216.9 409.7 213.6 410.3 212.4 410.8 213.6 411.2 216.9 411.6 217.3 411.8 218.9 412.0 215.6 412.3 214.4 412.6 215.6 412.8 218.9 413.0 229.4 413.5 222.7 414.1 219.4 414.8 218.2 415.5 219.4 416.1 222.7 416.6 229.4 417.0 218.2 417.4 214.9 417.9 213.7 418.5 214.9 418.9 218.2 419.3 229.4 419.7 216.8 420.2 213.5 420.8 212.2 421.4 213.5 421.8 216.8 422.3 229.4 422.5 215.4 422.7 212.1 423.0 210.9 423.3 212.1 423.5 215.4 423.7 229.4 424.2 216.7 424.7 213.4 425.3 212.2 425.9 213.4 426.4 216.7 426.9 224.9 427.2 217.5 427.6 214.1 428.0 212.9 428.5 214.1 428.8 217.5 429.1 225.8 429.5 217.8 429.8 214.5 430.2 213.3 430.6 214.5 430.9 217.8 431.2 224.6 431.7 218.2 432.1 214.9 432.7 213.7 433.3 214.9 433.7 218.2 434.2 229.4 434.4 218.9 434.7 215.6 435.0 214.4 435.3 215.6 435.6 218.9 435.9 229.4 436.3 220.1 436.8 216.8 437.4 215.6 438.0 216.8 438.5 220.1 438.9 229.4 439.1 220.4 439.4 217.1 439.7 215.9 440.0 217.1 440.2 220.4 440.5 227.7 440.9 219.8 441.3 216.5 441.8 215.2 442.3 216.5 442.7 219.8 443.1 224.0 443.6 218.5 444.1 215.2 444.8 214.0 445.4 215.2 445.9 218.5 446.4 223.6 446.7 219.7 447.1 216.4 447.5 215.1 447.9 216.4 448.2 219.7 448.5 226.2 448.8 218.5 449.1 215.2 449.4 214.0 449.8 215.2 450.1 218.5 450.3 229.4 450.6 219.0 450.8 215.7 451.1 214.5 451.4 215.7 451.6 219.0 451.8 229.4 452.2 221.3 452.6 218.0 453.1 216.8 453.5 218.0 453.9 221.3 454.3 229.4 454.6 222.9 454.9 219.6 455.3 218.4 455.7 219.6 456.0 222.9 456.3 229.4 456.6 224.5 456.9 221.2 457.4 220.0 457.8 221.2 458.1 224.5 458.4 229.4 458.9 224.1 459.3 220.8 459.9 219.5 460.5 220.8 461.0 224.1 461.4 229.4 461.6 222.1 461.8 218.7 462.1 217.5 462.3 218.7 462.5 222.1 462.7 229.4 463.1 225.4 463.4 222.1 463.9 220.8 464.4 222.1 464.7 225.4 465.1 229.4 465.5 224.8 465.9 221.5 466.4 220.2 467.0 221.5 467.4 224.8 467.8 229.4 468.1 223.5 468.4 222.1 468.8 220.9 469.2 222.1 469.5 223.5 469.8 223.5 470.2 224.0 470.5 220.7 470.9 219.5 471.3 220.7 471.6 224.0 472.0 229.4 472.2 224.4 472.4 221.1 472.7 219.9 473.0 221.1 473.2 224.4 473.4 226.7 473.6 223.2 473.8 219.9 474.1 218.7 474.4 219.9 474.6 223.2 474.8 229.4 475.1 225.6 475.4 222.3 475.8 221.1 476.2 222.3 476.5 225.6 476.8 229.4 477.0 223.5 477.3 220.5 477.6 219.3 477.9 220.5 478.1 223.5 478.3 223.5 478.8 224.6 479.2 221.3 479.8 220.1 480.4 221.3 480.9 224.6 481.3 227.2 481.6 227.1 481.9 223.8 482.3 222.6 482.7 223.8 483.0 227.1 483.2 229.4 483.5 222.6 483.8 219.3 484.1 218.0 484.5 219.3 484.8 222.6 485.0 229.4 485.4 222.5 485.8 219.2 486.3 217.9 486.8 219.2 487.1 222.5 487.5 229.4 487.8 223.0 488.1 219.7 488.4 218.5 488.8 219.7 489.1 223.0 489.4 229.4 489.6 222.7 489.9 219.4 490.2 218.1 490.6 219.4 490.8 222.7 491.1 225.8 491.5 223.5 491.9 220.2 492.5 218.9 493.1 220.2 493.5 223.5 493.9 229.4 494.3 223.5 494.7 220.2 495.3 219.0 495.9 220.2 496.3 223.5 496.7 229.4 496.9 224.1 497.1 220.8 497.4 219.6 497.7 220.8 497.9 224.1 498.1 226.0 498.4 225.8 498.8 222.5 499.3 221.3 499.8 222.5 500.1 225.8 500.5 229.4 500.9 228.3 501.4 224.9 501.9 223.7 502.5 224.9 503.0 228.3 503.4 229.4 504.0 223.1 504.5 219.8 505.3 218.6 506.0 219.8 506.6 223.1 507.2 229.4 507.7 224.3 508.2 220.9 508.9 219.7 509.6 220.9 510.1 224.3 510.6 226.0 510.8 223.2 511.0 219.9 511.3 218.7 511.6 219.9 511.9 223.2 512.1 229.4 512.6 222.7 513.1 219.4 513.8 218.1 514.5 219.4 515.0 222.7 515.5 229.4 515.8 224.0 516.1 220.7 516.4 219.5 516.8 220.7 517.1 224.0 517.4 226.1 517.7 223.6 518.0 220.3 518.5 219.1 518.9 220.3 519.3 223.6 519.6 229.4 519.9 224.8 520.3 221.4 520.7 220.2 521.1 221.4 521.5 224.8 521.8 229.4 522.2 228.4 522.6 225.1 523.1 223.8 523.6 225.1 524.0 228.4 524.4 228.4 524.9 227.9 525.4 224.6 526.1 223.4 526.7 224.6 527.2 227.9 527.7 229.4 528.1 227.0 528.5 223.7 529.0 222.5 529.5 223.7 529.9 227.0 530.3 229.4 530.5 225.5 530.8 222.2 531.1 221.0 531.3 222.2 531.6 225.5 531.8 226.5 532.0 225.7 532.2 222.4 532.5 221.1 532.8 222.4 533.0 225.7 533.2 229.4 533.4 226.2 533.7 222.8 534.0 221.6 534.3 222.8 534.6 226.2 534.8 229.4 535.1 226.0 535.4 222.7 535.8 221.5 536.1 222.7 536.4 226.0 536.7 227.2" stroke="#ff0000" stroke-width="0.85" fill="none" stroke-linejoin="round"/><path d="M325.5 201.7 325.9 209.7 326.3 209.7 326.8 208.5 327.3 209.7 327.7 209.7 328.0 209.7 328.4 208.1 328.8 204.8 329.3 203.6 329.8 204.8 330.1 208.1 330.5 229.4 330.8 206.4 331.1 203.1 331.5 201.9 331.8 203.1 332.1 206.4 332.4 217.1 332.6 208.0 332.9 204.7 333.2 203.5 333.5 204.7 333.8 208.0 334.0 211.3 334.4 206.9 334.8 203.6 335.3 202.4 335.8 203.6 336.2 206.9 336.5 216.7 337.0 206.1 337.4 202.7 338.0 201.5 338.6 202.7 339.1 206.1 339.5 218.6 339.9 206.2 340.2 202.9 340.7 201.7 341.2 202.9 341.6 206.2 341.9 219.1 342.3 207.0 342.6 203.7 343.0 202.5 343.4 203.7 343.7 207.0 344.1 221.9 344.4 207.4 344.8 204.1 345.2 202.9 345.7 204.1 346.1 207.4 346.4 222.0 346.8 209.1 347.3 205.8 347.8 204.6 348.4 205.8 348.8 209.1 349.2 221.2 349.5 209.2 349.7 205.9 350.0 204.7 350.3 205.9 350.6 209.2 350.8 213.5 351.2 207.3 351.6 204.0 352.2 202.8 352.7 204.0 353.2 207.3 353.6 219.2 354.1 207.1 354.6 203.7 355.4 202.5 356.1 203.7 356.6 207.1 357.1 229.4 357.4 209.0 357.6 205.7 358.0 204.5 358.3 205.7 358.6 209.0 358.8 213.4 359.3 210.6 359.9 207.3 360.5 206.1 361.2 207.3 361.7 210.6 362.3 222.9 362.8 212.0 363.4 208.7 364.1 207.5 364.8 208.7 365.4 212.0 365.9 216.8 366.2 212.4 366.6 209.1 367.0 207.9 367.4 209.1 367.7 212.4 368.0 212.4 368.4 211.4 368.8 208.1 369.4 206.9 369.9 208.1 370.3 211.4 370.7 222.6 371.2 213.6 371.7 210.3 372.3 209.1 373.0 210.3 373.5 213.6 373.9 225.5 374.5 214.1 375.0 210.8 375.8 209.6 376.5 210.8 377.0 214.1 377.6 216.4 378.1 212.6 378.6 209.2 379.2 208.0 379.9 209.2 380.4 212.6 380.9 221.2 381.3 213.0 381.7 209.7 382.3 208.5 382.9 209.7 383.3 213.0 383.7 225.3 384.1 216.6 384.5 213.3 385.0 212.1 385.5 213.3 385.8 216.6 386.2 225.5 386.4 214.7 386.7 212.8 387.0 211.6 387.3 212.8 387.6 214.7 387.8 214.7 388.2 215.3 388.6 212.0 389.1 210.8 389.7 212.0 390.1 215.3 390.5 218.3 391.0 216.8 391.5 213.5 392.1 212.3 392.8 213.5 393.3 216.8 393.8 229.4 394.1 217.2 394.4 214.1 394.8 212.9 395.2 214.1 395.4 217.2 395.7 217.2 396.3 213.1 396.8 209.8 397.6 208.5 398.3 209.8 398.9 213.1 399.4 221.9 399.8 213.2 400.1 209.9 400.5 208.7 401.0 209.9 401.3 213.2 401.6 224.4 401.9 213.9 402.2 210.6 402.5 209.4 402.9 210.6 403.2 213.9 403.5 229.2 403.9 214.5 404.4 211.1 405.1 209.9 405.7 211.1 406.2 214.5 406.6 222.1 407.1 214.9 407.6 211.6 408.2 210.4 408.9 211.6 409.3 214.9 409.8 222.9 410.3 214.1 410.8 210.8 411.5 209.6 412.1 210.8 412.6 214.1 413.1 229.4 413.6 217.0 414.1 213.7 414.7 212.5 415.4 213.7 415.9 217.0 416.4 221.1 416.6 214.3 416.8 211.0 417.0 209.8 417.3 211.0 417.5 214.3 417.7 218.8 418.2 216.2 418.6 212.9 419.2 211.6 419.8 212.9 420.3 216.2 420.7 229.4 421.1 215.6 421.4 212.3 421.9 211.1 422.4 212.3 422.7 215.6 423.0 218.4 423.4 215.6 423.7 212.3 424.1 211.1 424.5 212.3 424.9 215.6 425.2 219.2 425.7 217.3 426.3 215.8 427.0 214.5 427.8 215.8 428.3 217.3 428.9 217.3 429.2 218.2 429.5 214.9 429.9 213.7 430.3 214.9 430.7 218.2 431.0 226.3 431.3 216.8 431.7 213.5 432.2 212.3 432.6 213.5 433.0 216.8 433.3 223.5 433.6 217.2 433.9 213.9 434.3 212.7 434.7 213.9 434.9 217.2 435.2 221.8 435.7 217.2 436.2 213.9 436.8 212.7 437.5 213.9 437.9 217.2 438.4 221.4 438.9 216.7 439.3 213.4 439.9 212.2 440.5 213.4 441.0 216.7 441.5 224.8 441.9 219.2 442.3 215.8 442.9 214.6 443.4 215.8 443.8 219.2 444.3 225.1 444.5 218.6 444.8 215.3 445.2 214.0 445.6 215.3 445.9 218.6 446.2 229.4 446.6 220.3 447.0 217.0 447.5 215.8 448.1 217.0 448.5 220.3 448.9 222.3 449.2 219.9 449.5 218.3 449.9 217.1 450.3 218.3 450.6 219.9 450.9 219.9 451.2 220.8 451.4 220.8 451.8 220.0 452.2 220.8 452.5 220.8 452.8 220.8 453.2 222.5 453.7 219.2 454.3 218.0 455.0 219.2 455.4 222.5 455.9 229.4 456.2 225.7 456.5 222.3 456.9 221.1 457.3 222.3 457.6 225.7 457.9 229.4 458.3 219.8 458.7 218.5 459.1 217.3 459.6 218.5 460.0 219.8 460.3 219.8 460.8 221.0 461.2 217.7 461.8 216.5 462.4 217.7 462.8 221.0 463.2 229.2 463.6 220.9 463.9 219.2 464.3 218.0 464.8 219.2 465.1 220.9 465.5 220.9 465.8 218.7 466.2 215.4 466.7 214.2 467.3 215.4 467.6 218.7 468.0 229.4 468.4 221.0 468.8 217.6 469.4 216.4 469.9 217.6 470.3 221.0 470.7 229.4 470.9 223.0 471.1 219.7 471.4 218.5 471.6 219.7 471.8 223.0 472.0 229.4 472.4 221.5 472.8 218.2 473.3 217.0 473.9 218.2 474.3 221.5 474.7 229.4 475.0 224.1 475.4 220.7 475.9 219.5 476.4 220.7 476.8 224.1 477.1 224.3 477.5 223.1 477.8 219.8 478.2 218.6 478.6 219.8 478.9 223.1 479.2 229.4 479.7 222.2 480.2 218.8 480.9 217.6 481.6 218.8 482.1 222.2 482.6 222.8 482.8 222.4 483.1 219.1 483.3 217.9 483.6 219.1 483.8 222.4 484.1 229.4 484.4 222.5 484.8 219.2 485.3 218.0 485.8 219.2 486.2 222.5 486.5 225.4 486.7 222.9 486.9 220.1 487.2 218.8 487.5 220.1 487.7 222.9 487.9 222.9 488.4 225.6 488.8 222.3 489.4 221.0 490.0 222.3 490.4 225.6 490.9 229.4 491.1 225.5 491.4 222.2 491.8 220.9 492.1 222.2 492.4 225.5 492.7 229.4 492.9 223.1 493.1 219.8 493.4 218.6 493.7 219.8 493.9 223.1 494.2 229.4 494.5 221.5 494.9 218.2 495.4 217.0 495.8 218.2 496.2 221.5 496.6 229.4 496.8 221.8 497.0 218.5 497.3 217.2 497.6 218.5 497.8 221.8 498.0 227.2 498.2 225.8 498.4 222.4 498.7 221.2 499.0 222.4 499.2 225.8 499.4 229.4 499.9 224.0 500.4 220.7 501.0 219.5 501.6 220.7 502.1 224.0 502.6 229.4 503.1 224.1 503.7 220.8 504.4 219.6 505.2 220.8 505.7 224.1 506.3 228.2 506.7 224.8 507.1 221.5 507.7 220.2 508.3 221.5 508.7 224.8 509.2 226.1 509.6 223.9 510.0 220.6 510.5 219.4 511.0 220.6 511.4 223.9 511.8 225.6 512.3 223.9 512.8 220.6 513.4 219.4 514.0 220.6 514.5 223.9 514.9 229.4 515.5 224.5 516.0 221.1 516.7 219.9 517.4 221.1 518.0 224.5 518.5 225.5 518.9 222.1 519.2 218.7 519.6 217.5 520.1 218.7 520.4 222.1 520.7 228.5 521.0 221.1 521.2 217.8 521.6 216.6 521.9 217.8 522.1 221.1 522.4 226.2 522.6 226.3 522.8 223.0 523.0 221.8 523.3 223.0 523.5 226.3 523.7 229.4 524.1 223.5 524.6 220.2 525.3 219.0 526.0 220.2 526.4 223.5 526.9 229.4 527.3 222.5 527.7 219.2 528.1 218.0 528.6 219.2 529.0 222.5 529.3 229.4 529.8 224.1 530.4 220.8 531.0 219.6 531.7 220.8 532.3 224.1 532.8 229.2 533.1 221.4 533.5 218.1 533.9 216.8 534.4 218.1 534.7 221.4 535.1 228.0 535.6 221.3 536.2 218.0 536.9 216.8 537.6 218.0 538.2 221.3 538.7 229.4" stroke="#64c864" stroke-width="0.85" fill="none" stroke-linejoin="round"/><path d="M325.5 198.4 325.7 203.5 325.9 200.2 326.2 199.0 326.4 200.2 326.6 203.5 326.8 205.6 327.3 205.1 327.7 201.8 328.3 200.6 329.0 201.8 329.4 205.1 329.9 229.4 330.3 207.7 330.8 204.4 331.4 203.2 332.0 204.4 332.5 207.7 333.0 229.4 333.2 210.3 333.5 207.0 333.9 205.8 334.3 207.0 334.6 210.3 334.8 216.2 335.2 209.3 335.7 207.1 336.2 205.9 336.7 207.1 337.1 209.3 337.6 209.3 338.0 208.0 338.5 204.7 339.1 203.5 339.7 204.7 340.1 208.0 340.6 229.4 340.8 209.9 341.0 206.6 341.3 205.4 341.6 206.6 341.8 209.9 342.1 229.4 342.6 209.3 343.1 209.3 343.8 209.3 344.6 209.3 345.1 209.3 345.6 209.3 346.0 210.8 346.3 207.5 346.8 206.3 347.2 207.5 347.6 210.8 347.9 217.9 348.5 210.0 349.0 206.6 349.7 205.4 350.5 206.6 351.0 210.0 351.5 214.0 352.0 212.0 352.4 208.7 352.9 207.5 353.5 208.7 353.9 212.0 354.3 213.2 354.8 212.6 355.4 209.3 356.0 208.1 356.7 209.3 357.3 212.6 357.8 214.8 358.2 208.1 358.6 204.8 359.2 203.6 359.8 204.8 360.2 208.1 360.6 221.4 360.8 209.2 361.1 205.9 361.3 204.7 361.6 205.9 361.9 209.2 362.1 216.0 362.5 210.9 362.9 207.6 363.4 206.4 364.0 207.6 364.4 210.9 364.8 224.7 365.2 211.8 365.7 208.5 366.3 207.3 366.9 208.5 367.4 211.8 367.8 229.4 368.0 210.5 368.2 207.2 368.5 206.0 368.7 207.2 368.9 210.5 369.1 213.5 369.4 213.0 369.7 209.7 370.1 208.4 370.5 209.7 370.8 213.0 371.1 225.6 371.6 213.5 372.0 210.2 372.7 209.0 373.3 210.2 373.8 213.5 374.3 219.8 374.6 212.9 374.8 209.6 375.2 208.4 375.6 209.6 375.8 212.9 376.1 221.0 376.4 212.4 376.7 209.1 377.0 207.9 377.4 209.1 377.7 212.4 377.9 213.7 378.4 213.4 378.9 210.1 379.5 208.9 380.1 210.1 380.6 213.4 381.0 222.7 381.5 209.4 382.0 206.1 382.7 204.9 383.3 206.1 383.8 209.4 384.3 213.5 384.6 209.6 384.9 206.3 385.3 205.1 385.7 206.3 386.0 209.6 386.3 220.8 386.7 211.6 387.2 208.3 387.8 207.0 388.4 208.3 388.9 211.6 389.3 229.4 389.9 215.0 390.4 211.7 391.1 210.5 391.9 211.7 392.4 215.0 392.9 221.6 393.4 220.3 393.9 217.0 394.5 215.7 395.1 217.0 395.5 220.3 396.0 222.3 396.4 215.2 396.9 211.9 397.4 210.7 398.0 211.9 398.5 215.2 398.9 219.0 399.3 218.6 399.7 215.3 400.3 214.1 400.8 215.3 401.2 218.6 401.6 219.4 402.0 216.9 402.4 213.6 402.9 212.4 403.5 213.6 403.9 216.9 404.3 229.4 404.5 215.4 404.8 212.1 405.2 210.9 405.5 212.1 405.8 215.4 406.1 229.4 406.3 216.2 406.6 212.9 407.0 211.7 407.4 212.9 407.7 216.2 408.0 217.3 408.4 215.0 408.8 211.7 409.4 210.5 410.0 211.7 410.4 215.0 410.8 229.4 411.3 215.4 411.8 212.1 412.4 210.9 413.1 212.1 413.6 215.4 414.1 219.9 414.4 215.4 414.7 212.1 415.0 210.9 415.4 212.1 415.7 215.4 416.0 223.2 416.4 217.4 416.8 214.1 417.4 212.8 418.0 214.1 418.4 217.4 418.8 219.4 419.1 217.9 419.4 214.5 419.8 213.3 420.2 214.5 420.5 217.9 420.8 218.8 421.3 219.9 421.7 218.1 422.4 216.9 423.0 218.1 423.5 219.9 424.0 219.9 424.3 218.1 424.6 214.8 425.0 213.5 425.4 214.8 425.7 218.1 426.0 229.3 426.3 216.2 426.6 212.9 426.9 211.7 427.3 212.9 427.6 216.2 427.9 217.9 428.3 214.4 428.8 211.1 429.5 209.9 430.1 211.1 430.6 214.4 431.1 228.7 431.5 219.9 432.0 216.6 432.6 215.4 433.2 216.6 433.6 219.9 434.1 223.9 434.3 216.5 434.6 213.2 434.9 212.0 435.2 213.2 435.5 216.5 435.7 221.0 436.2 219.5 436.7 216.3 437.4 215.1 438.1 216.3 438.6 219.5 439.1 219.5 439.3 220.1 439.6 216.8 440.0 215.6 440.3 216.8 440.6 220.1 440.8 223.8 441.4 220.5 441.9 218.9 442.6 217.7 443.3 218.9 443.8 220.5 444.4 220.5 444.9 221.1 445.4 217.7 446.2 216.5 446.9 217.7 447.4 221.1 447.9 229.4 448.2 220.0 448.5 216.7 448.8 215.5 449.2 216.7 449.5 220.0 449.7 222.8 450.2 221.3 450.6 218.0 451.2 216.8 451.8 218.0 452.3 221.3 452.7 229.4 453.2 217.7 453.7 214.4 454.4 213.2 455.1 214.4 455.6 217.7 456.1 229.4 456.3 218.7 456.5 215.4 456.7 214.2 457.0 215.4 457.2 218.7 457.4 229.4 457.8 219.1 458.3 215.8 458.8 214.6 459.4 215.8 459.8 219.1 460.3 229.4 460.7 218.2 461.1 214.9 461.6 213.6 462.2 214.9 462.6 218.2 463.0 223.4 463.5 222.6 464.0 219.3 464.7 218.0 465.3 219.3 465.8 222.6 466.3 229.3 466.8 220.4 467.2 217.1 467.7 215.9 468.3 217.1 468.7 220.4 469.1 229.4 469.4 221.8 469.7 218.5 470.1 217.2 470.6 218.5 470.9 221.8 471.2 226.5 471.6 219.9 471.9 216.6 472.4 215.4 472.9 216.6 473.3 219.9 473.7 229.4 474.2 222.2 474.8 218.9 475.5 217.6 476.2 218.9 476.7 222.2 477.3 229.4 477.5 223.4 477.8 220.1 478.1 218.9 478.4 220.1 478.6 223.4 478.9 229.4 479.1 224.5 479.3 221.2 479.6 220.0 479.9 221.2 480.1 224.5 480.4 229.4 480.9 221.4 481.4 218.1 482.0 216.9 482.7 218.1 483.2 221.4 483.7 229.4 484.0 221.6 484.3 218.3 484.7 217.1 485.2 218.3 485.5 221.6 485.8 229.4 486.0 220.8 486.3 217.5 486.7 216.3 487.1 217.5 487.4 220.8 487.6 229.4 487.9 223.9 488.2 220.6 488.5 219.4 488.9 220.6 489.2 223.9 489.4 229.4 489.7 222.0 489.9 218.7 490.2 217.4 490.5 218.7 490.8 222.0 491.0 225.0 491.3 222.8 491.5 219.5 491.9 218.2 492.2 219.5 492.5 222.8 492.8 224.0 493.3 222.0 493.8 218.6 494.4 217.4 495.1 218.6 495.6 222.0 496.1 229.4 496.4 221.7 496.7 218.3 497.2 217.1 497.6 218.3 497.9 221.7 498.2 229.4 498.7 222.4 499.2 219.1 499.8 217.9 500.5 219.1 501.0 222.4 501.5 229.4 502.0 223.7 502.5 220.4 503.3 219.2 504.0 220.4 504.5 223.7 505.1 228.0 505.5 221.9 505.9 218.6 506.4 217.4 506.9 218.6 507.3 221.9 507.7 226.8 508.1 221.9 508.6 218.6 509.3 217.4 509.9 218.6 510.4 221.9 510.8 227.7 511.1 223.4 511.4 220.1 511.7 218.8 512.1 220.1 512.3 223.4 512.6 229.4 513.0 224.3 513.4 221.0 513.9 219.8 514.5 221.0 514.9 224.3 515.3 229.4 515.8 223.9 516.4 220.6 517.1 219.4 517.8 220.6 518.4 223.9 519.0 229.4 519.2 223.5 519.5 220.2 519.9 219.0 520.2 220.2 520.5 223.5 520.8 229.4 521.0 223.9 521.3 220.6 521.6 219.3 521.9 220.6 522.2 223.9 522.4 229.4 523.0 225.6 523.5 222.3 524.3 221.1 525.0 222.3 525.5 225.6 526.1 228.6 526.7 224.4 527.2 221.1 528.0 219.9 528.7 221.1 529.3 224.4 529.8 229.4 530.3 224.1 530.7 220.8 531.3 219.5 531.9 220.8 532.3 224.1 532.8 229.4 533.2 223.8 533.6 220.5 534.1 219.3 534.6 220.5 535.0 223.8 535.3 229.4 535.8 227.2 536.2 223.9 536.8 222.7 537.4 223.9 537.8 227.2 538.3 229.4" stroke="#7373fa" stroke-width="0.85" fill="none" stroke-linejoin="round"/><path d="M326.1 229.4 326.5 196.4 326.9 183.2 327.3 179.9 327.6 183.2 328.0 189.1 328.4 190.5 328.7 191.8 329.5 201.0 330.0 197.1 331.2 193.8 331.8 198.4 332.5 201.7 333.7 208.3 334.3 229.4 335.2 205.5" stroke="#ff0000" stroke-width="1.3" fill="none" stroke-linejoin="round"/></g>
<text x="321.9" y="184.3" font-size="10" text-anchor="end">0</text>
<text x="321.9" y="204.1" font-size="10" text-anchor="end"><tspan dy="-0.9">-</tspan><tspan dy="0.9">30</tspan></text>
<text x="321.9" y="223.9" font-size="10" text-anchor="end"><tspan dy="-0.9">-</tspan><tspan dy="0.9">60</tspan></text>
<text x="483.5" y="194" font-size="11.5">500 Hz</text>
<path d="M378.18 235.5V275.1M430.85 235.5V275.1M483.53 235.5V275.1M325.5 255.3H536.2" stroke="#c4c4c4" stroke-width="0.8" stroke-dasharray="1 1" fill="none"/>
<path d="M378.18 235.5v2M378.18 275.1v-2M430.85 235.5v2M430.85 275.1v-2M483.53 235.5v2M483.53 275.1v-2M325.5 255.3h2M536.2 255.3h-2" stroke="#555" stroke-width="0.8" fill="none"/>
<path d="M325 235.5H536.7M325 275.1H536.7" stroke="#555" stroke-width="1" fill="none"/>
<path d="M325.5 235.5V275.1M536.2 235.5V275.1" stroke="#9a9a9a" stroke-width="1.1" fill="none"/>
<path d="M325.5 237V275.1M536.2 237V275.1" stroke="#333" stroke-width="1" stroke-dasharray="1 2" fill="none"/>
<g clip-path="url(#c14)"><path d="M404.6 268.0 404.9 271.3 405.2 274.0 405.5 271.2 405.8 267.9 406.2 266.7 406.7 267.9 407.0 271.2 407.3 281.3 407.7 271.8 408.1 268.5 408.5 267.2 409.0 268.5 409.4 271.8 409.7 275.1 410.3 272.1 410.8 268.8 411.6 267.6 412.3 268.8 412.9 272.1 413.4 285.0 414.0 268.7 414.6 265.4 415.3 264.2 416.1 265.4 416.7 268.7 417.2 273.4 417.4 267.4 417.5 264.1 417.7 262.9 418.3 264.1 418.8 267.4 419.3 277.1 419.6 270.0 419.9 266.7 420.3 265.5 420.7 266.7 421.1 270.0 421.4 277.9 421.7 272.5 422.1 269.5 422.6 268.3 423.1 269.5 423.5 272.5 423.8 272.5 424.3 272.8 424.8 269.5 425.4 268.3 426.0 269.5 426.5 272.8 427.0 278.4 427.4 273.7 427.8 270.4 428.4 269.2 428.9 270.4 429.3 273.7 429.7 285.0 430.1 270.4 430.4 267.1 430.9 265.9 431.4 267.1 431.8 270.4 432.2 285.0 432.7 273.5 433.1 270.2 433.8 268.9 434.4 270.2 434.9 273.5 435.4 285.0 435.7 272.0 436.1 268.7 436.5 267.5 437.0 268.7 437.4 272.0 437.7 275.2 438.2 275.3 438.7 272.0 439.3 270.8 440.0 272.0 440.5 275.3 441.0 278.1 441.6 275.6 442.2 273.8 443.1 272.6 444.0 273.8 444.6 275.6 445.3 275.6 445.8 274.1 446.3 270.8 447.0 269.6 447.6 270.8 448.2 274.1 448.7 285.0 448.9 274.2 449.2 270.9 449.5 269.7 449.9 270.9 450.1 274.2 450.4 277.1 450.9 275.6 451.4 272.3 452.1 271.1 452.8 272.3 453.3 275.6 453.8 285.0 454.4 276.3 455.0 273.0 455.8 271.7 456.6 273.0 457.2 276.3 457.8 279.1 458.1 277.1 458.5 273.8 458.9 272.5 459.4 273.8 459.8 277.1 460.1 285.0 460.5 275.5 461.0 272.2 461.5 270.9 462.1 272.2 462.5 275.5 462.9 279.4 463.3 277.2 463.7 273.9 464.3 272.7 464.8 273.9 465.2 277.2 465.6 285.0 465.9 277.4 466.2 274.1 466.6 272.8 467.0 274.1 467.3 277.4 467.5 285.0 468.0 279.1 468.5 275.7 469.1 274.5 469.7 275.7 470.1 279.1 470.6 282.0 471.0 277.4 471.3 274.1 471.8 272.8 472.3 274.1 472.6 277.4 473.0 284.9 473.6 279.6 474.3 276.3 475.1 275.1 476.0 276.3 476.6 279.6 477.2 285.0 477.7 279.5 478.1 276.2 478.6 275.0 479.2 276.2 479.6 279.5 480.0 282.4 480.3 279.7 480.7 276.4 481.1 275.2 481.5 276.4 481.9 279.7 482.2 285.0 482.7 279.8 483.3 276.5 484.0 275.3 484.8 276.5 485.3 279.8 485.9 285.0 486.3 276.1 486.7 272.7 487.3 271.5 487.8 272.7 488.2 276.1 488.6 285.0 489.0 277.0 489.3 273.7 489.7 272.5 490.2 273.7 490.5 277.0 490.8 282.3 491.4 277.9 491.9 274.6 492.6 273.4 493.3 274.6 493.8 277.9 494.4 285.0 494.7 280.6 495.1 277.3 495.6 276.1 496.1 277.3 496.5 280.6 496.8 285.0 497.4 278.2 497.9 274.9 498.6 273.7 499.3 274.9 499.8 278.2 500.4 284.1 500.6 279.3 500.8 276.0 501.2 274.8 501.5 276.0 501.7 279.3 502.0 279.4 502.4 280.3 502.9 277.0 503.5 275.8 504.1 277.0 504.5 280.3 505.0 285.0 505.5 282.3 506.0 279.0 506.7 277.7 507.3 279.0 507.8 282.3 508.3 285.0 508.8 280.2 509.3 278.1 509.9 276.9 510.5 278.1 511.0 280.2 511.5 280.2 512.1 281.7 512.7 278.4 513.5 277.2 514.3 278.4 514.9 281.7 515.6 285.0 516.2 280.4 516.8 277.1 517.6 275.9 518.4 277.1 519.0 280.4 519.6 285.0 520.1 282.2 520.5 278.9 521.1 277.7 521.8 278.9 522.2 282.2 522.7 285.0 523.1 281.6 523.5 278.3 524.1 277.1 524.7 278.3 525.1 281.6 525.5 285.0 525.9 283.0 526.3 279.7 526.8 278.5 527.3 279.7 527.7 283.0 528.1 285.0 528.5 283.8 529.0 280.5 529.6 279.3 530.2 280.5 530.6 283.8 531.1 285.0 531.5 283.9 531.9 280.6 532.5 279.4 533.1 280.6 533.5 283.9 533.9 285.0 534.4 283.2 534.9 283.2 535.6 283.1 536.3 283.2 536.8 283.2 537.4 283.2" stroke="#ff0000" stroke-width="1.0" fill="none" stroke-linejoin="round"/><path d="M325.5 257.6 326.0 261.0 326.4 257.7 327.0 256.5 327.6 257.7 328.1 261.0 328.5 269.3 329.0 261.5 329.5 258.1 330.1 256.9 330.7 258.1 331.2 261.5 331.7 267.8 332.0 260.2 332.4 260.2 332.8 259.2 333.2 260.2 333.6 260.2 333.9 260.2 334.3 262.7 334.6 259.4 335.1 258.2 335.5 259.4 335.9 262.7 336.2 265.8 336.5 259.4 336.7 259.4 337.1 259.4 337.5 259.4 337.7 259.4 338.0 259.4 338.5 262.5 339.0 261.1 339.7 259.9 340.4 261.1 341.0 262.5 341.5 262.5 341.8 261.5 342.0 258.1 342.4 256.9 342.8 258.1 343.1 261.5 343.3 263.5 344.0 260.5 344.6 260.5 345.5 260.5 346.3 260.5 346.9 260.5 347.6 260.5 348.1 262.1 348.6 262.1 349.4 262.1 350.1 262.1 350.6 262.1 351.2 262.1 351.4 266.0 351.7 262.7 352.1 261.5 352.4 262.7 352.7 266.0 353.0 266.4 353.4 265.2 353.9 261.9 354.4 260.7 355.0 261.9 355.5 265.2 355.9 270.9 356.5 262.1 357.0 258.8 357.8 257.6 358.5 258.8 359.1 262.1 359.6 262.7 360.0 262.4 360.5 259.1 361.0 257.9 361.5 259.1 361.9 262.4 362.3 266.0 362.9 265.6 363.5 262.3 364.3 261.1 365.1 262.3 365.7 265.6 366.3 285.0 366.9 262.8 367.5 259.5 368.3 258.3 369.1 259.5 369.8 262.8 370.4 266.3 370.8 266.2 371.3 262.9 371.8 261.7 372.4 262.9 372.9 266.2 373.3 270.0 373.6 264.7 373.9 261.4 374.4 260.2 374.8 261.4 375.1 264.7 375.4 270.9 375.7 265.4 376.0 262.4 376.4 261.2 376.7 262.4 377.0 265.4 377.3 265.4 377.9 267.4 378.4 264.1 379.1 262.9 379.8 264.1 380.3 267.4 380.8 285.0 381.4 268.9 381.9 265.6 382.7 264.4 383.4 265.6 384.0 268.9 384.5 272.1 384.9 267.3 385.4 264.0 385.9 262.7 386.5 264.0 386.9 267.3 387.4 285.0 387.9 267.4 388.4 265.4 389.1 264.2 389.8 265.4 390.3 267.4 390.8 267.4 391.3 266.6 391.8 263.3 392.5 262.1 393.2 263.3 393.6 266.6 394.1 285.0 394.7 265.2 395.3 261.9 396.2 260.7 397.0 261.9 397.6 265.2 398.2 266.7 398.4 263.7 398.7 260.4 399.0 259.2 399.4 260.4 399.6 263.7 399.9 278.2 400.3 264.2 400.6 260.9 401.1 259.7 401.5 260.9 401.9 264.2 402.3 285.0 402.6 267.3 402.9 264.0 403.4 262.8 403.8 264.0 404.2 267.3 404.5 275.2 404.9 267.4 405.3 264.1 405.9 262.9 406.4 264.1 406.8 267.4 407.2 275.5 407.8 269.9 408.5 266.5 409.3 265.3 410.1 266.5 410.7 269.9 411.3 270.3 411.5 276.5 411.8 273.6 412.1 272.4 412.4 273.6 412.7 276.5 412.9 276.5 413.2 268.4 413.5 266.4 413.8 265.2 414.2 266.4 414.4 268.4 414.7 268.4 414.9 268.2 415.2 264.9 415.5 263.7 415.8 264.9 416.0 268.2 416.3 276.8 416.6 268.4 416.9 265.1 417.4 263.8 417.8 265.1 418.2 268.4 418.5 274.6 419.0 266.7 419.5 263.4 420.1 262.2 420.8 263.4 421.3 266.7 421.8 272.9 422.3 268.0 422.9 264.7 423.6 263.5 424.4 264.7 424.9 268.0 425.5 275.7 426.1 270.0 426.7 266.7 427.5 265.5 428.3 266.7 428.9 270.0 429.5 270.7 430.2 271.2 430.8 267.8 431.7 266.6 432.5 267.8 433.2 271.2 433.8 285.0 434.4 270.4 435.0 267.1 435.8 265.9 436.6 267.1 437.2 270.4 437.8 273.2 438.4 270.6 439.0 267.3 439.8 266.1 440.5 267.3 441.1 270.6 441.7 280.1 442.1 273.8 442.5 270.5 443.0 269.3 443.5 270.5 443.8 273.8 444.2 285.0 444.5 274.7 444.9 271.4 445.3 270.1 445.8 271.4 446.1 274.7 446.4 275.0 446.9 274.9 447.3 273.7 447.9 272.4 448.5 273.7 449.0 274.9 449.4 274.9 450.1 275.1 450.7 271.8 451.6 270.6 452.4 271.8 453.1 275.1 453.7 281.9 454.4 274.3 455.0 273.9 455.9 272.6 456.7 273.9 457.4 274.3 458.0 274.3 458.4 276.1 458.8 272.8 459.3 271.6 459.8 272.8 460.2 276.1 460.6 282.8 460.9 275.7 461.3 272.3 461.7 271.1 462.2 272.3 462.6 275.7 462.9 285.0 463.5 275.6 464.0 272.2 464.7 271.0 465.4 272.2 466.0 275.6 466.5 277.4 467.0 277.2 467.4 273.9 468.1 272.7 468.7 273.9 469.1 277.2 469.6 285.0 469.8 275.1 470.1 273.6 470.4 272.4 470.7 273.6 470.9 275.1 471.2 275.1 471.5 278.3 471.7 275.0 472.1 273.8 472.5 275.0 472.8 278.3 473.1 282.5 473.7 278.7 474.3 275.4 475.1 274.2 475.9 275.4 476.5 278.7 477.1 285.0 477.5 276.3 477.9 273.0 478.4 271.8 478.9 273.0 479.3 276.3 479.7 277.8 480.2 277.2 480.7 273.9 481.4 272.7 482.0 273.9 482.5 277.2 483.0 285.0 483.5 278.4 484.1 275.1 484.7 273.8 485.4 275.1 485.9 278.4 486.5 285.0 486.9 278.8 487.2 275.5 487.8 274.3 488.3 275.5 488.7 278.8 489.1 285.0 489.6 278.7 490.0 275.4 490.7 274.2 491.3 275.4 491.8 278.7 492.2 284.3 492.7 279.9 493.1 279.9 493.7 278.6 494.3 279.9 494.7 279.9 495.1 279.9 495.6 275.9 496.1 272.6 496.7 271.3 497.3 272.6 497.8 275.9 498.3 285.0 498.9 277.7 499.5 274.4 500.2 273.2 501.0 274.4 501.6 277.7 502.2 278.0 502.6 278.4 502.9 275.1 503.4 273.9 503.9 275.1 504.2 278.4 504.6 285.0 505.1 277.9 505.6 274.6 506.2 273.4 506.9 274.6 507.4 277.9 507.9 285.0 508.5 280.7 509.0 277.4 509.8 276.2 510.6 277.4 511.2 280.7 511.8 285.0 512.1 280.2 512.5 276.8 512.9 275.6 513.4 276.8 513.7 280.2 514.1 282.3 514.6 280.5 515.1 277.2 515.7 275.9 516.4 277.2 516.9 280.5 517.4 285.0 517.9 277.9 518.4 276.4 519.2 275.2 519.9 276.4 520.4 277.9 521.0 277.9 521.6 280.6 522.2 277.3 523.1 276.1 523.9 277.3 524.5 280.6 525.2 285.0 525.5 280.0 525.9 276.7 526.4 275.5 526.8 276.7 527.2 280.0 527.6 285.0 528.2 278.6 528.8 275.3 529.6 274.1 530.4 275.3 531.0 278.6 531.6 285.0 532.1 278.8 532.5 275.7 533.2 274.5 533.8 275.7 534.3 278.8 534.7 278.8 535.2 279.5 535.7 276.8 536.3 275.6 536.9 276.8 537.4 279.5 537.9 279.5" stroke="#64c864" stroke-width="1.0" fill="none" stroke-linejoin="round"/><path d="M325.5 253.0 326.1 260.5 326.7 257.2 327.6 256.0 328.4 257.2 329.0 260.5 329.6 285.0 329.9 264.9 330.2 261.6 330.6 260.4 331.0 261.6 331.2 264.9 331.5 285.0 331.8 261.6 332.0 259.8 332.3 258.6 332.6 259.8 332.8 261.6 333.0 261.6 333.3 263.2 333.6 259.9 334.0 258.7 334.4 259.9 334.6 263.2 334.9 264.6 335.3 261.3 335.7 259.9 336.1 258.7 336.6 259.9 337.0 261.3 337.3 261.3 338.0 261.9 338.6 258.6 339.5 257.4 340.4 258.6 341.0 261.9 341.7 270.3 342.2 265.0 342.6 261.7 343.3 260.5 343.9 261.7 344.4 265.0 344.9 272.7 345.2 261.3 345.4 258.0 345.8 256.8 346.2 258.0 346.4 261.3 346.7 262.4 347.3 262.2 347.8 258.9 348.5 257.7 349.2 258.9 349.7 262.2 350.3 285.0 350.6 266.7 350.9 263.3 351.3 262.1 351.7 263.3 352.0 266.7 352.3 269.4 352.5 260.6 352.7 257.3 353.0 256.1 353.3 257.3 353.5 260.6 353.8 285.0 354.0 261.2 354.3 257.9 354.7 256.7 355.1 257.9 355.4 261.2 355.6 285.0 356.0 262.3 356.5 259.0 357.0 257.8 357.6 259.0 358.0 262.3 358.4 266.1 359.0 263.3 359.6 260.0 360.4 258.8 361.2 260.0 361.8 263.3 362.4 263.6 363.0 266.3 363.5 263.0 364.3 261.8 365.1 263.0 365.7 266.3 366.3 270.4 366.5 268.1 366.8 265.9 367.1 264.6 367.4 265.9 367.7 268.1 367.9 268.1 368.2 269.5 368.6 266.2 369.0 264.9 369.5 266.2 369.8 269.5 370.2 271.3 370.8 267.7 371.4 264.4 372.2 263.2 373.0 264.4 373.6 267.7 374.3 273.0 374.5 273.9 374.8 270.6 375.2 269.4 375.5 270.6 375.8 273.9 376.1 274.3 376.7 268.5 377.3 265.2 378.1 264.0 378.9 265.2 379.5 268.5 380.2 271.2 380.4 270.1 380.7 266.8 381.1 265.6 381.5 266.8 381.7 270.1 382.0 271.0 382.4 267.5 382.8 264.2 383.3 263.0 383.8 264.2 384.2 267.5 384.6 267.7 385.0 268.0 385.4 264.7 386.0 263.4 386.5 264.7 386.9 268.0 387.3 277.0 387.8 266.7 388.3 263.4 388.9 262.2 389.6 263.4 390.1 266.7 390.6 277.5 391.0 265.6 391.3 262.3 391.8 261.1 392.3 262.3 392.7 265.6 393.1 276.6 393.4 268.0 393.7 264.7 394.1 263.4 394.5 264.7 394.8 268.0 395.1 274.3 395.7 264.3 396.3 261.0 397.1 259.8 397.8 261.0 398.4 264.3 399.0 273.2 399.4 264.6 399.7 261.3 400.1 260.1 400.6 261.3 400.9 264.6 401.2 285.0 401.6 264.9 402.1 261.6 402.6 260.4 403.2 261.6 403.6 264.9 404.1 270.2 404.7 267.3 405.3 264.0 406.2 262.8 407.0 264.0 407.6 267.3 408.3 277.0 408.6 274.7 409.0 271.4 409.6 270.2 410.1 271.4 410.5 274.7 410.8 279.5 411.2 270.8 411.5 267.5 411.9 266.3 412.4 267.5 412.7 270.8 413.0 275.7 413.5 270.4 414.0 267.1 414.7 265.9 415.3 267.1 415.8 270.4 416.3 279.8 416.6 270.8 416.9 267.4 417.3 266.2 417.7 267.4 418.0 270.8 418.3 274.1 418.8 278.1 419.4 275.9 420.2 274.6 421.0 275.9 421.6 278.1 422.1 278.1 422.5 268.3 422.8 265.0 423.2 263.8 423.7 265.0 424.0 268.3 424.3 271.5 424.7 269.7 425.1 266.4 425.6 265.2 426.1 266.4 426.5 269.7 426.8 281.8 427.3 270.5 427.7 267.2 428.3 266.0 428.9 267.2 429.3 270.5 429.7 280.2 430.0 269.5 430.3 266.2 430.7 265.0 431.2 266.2 431.5 269.5 431.8 282.4 432.4 269.9 433.0 266.6 433.9 265.4 434.8 266.6 435.4 269.9 436.1 281.0 436.6 272.1 437.1 268.7 437.8 267.5 438.6 268.7 439.1 272.1 439.6 282.5 440.0 272.5 440.4 269.2 440.9 268.0 441.4 269.2 441.8 272.5 442.2 278.7 442.5 275.2 442.8 271.9 443.1 270.6 443.5 271.9 443.8 275.2 444.1 276.4 444.4 274.4 444.7 271.1 445.1 269.8 445.5 271.1 445.8 274.4 446.2 276.6 446.4 275.0 446.7 271.7 447.0 270.5 447.3 271.7 447.6 275.0 447.8 279.0 448.2 272.4 448.7 269.0 449.3 267.8 449.8 269.0 450.3 272.4 450.7 285.0 451.0 273.5 451.3 270.2 451.7 269.0 452.1 270.2 452.4 273.5 452.7 275.2 453.1 275.0 453.4 271.7 453.9 270.5 454.4 271.7 454.8 275.0 455.2 280.4 455.4 273.4 455.7 270.1 456.0 268.9 456.4 270.1 456.7 273.4 456.9 282.1 457.3 272.9 457.8 269.6 458.3 268.4 458.9 269.6 459.3 272.9 459.8 277.4 460.3 274.5 460.9 271.2 461.7 270.0 462.4 271.2 463.0 274.5 463.6 277.9 463.9 274.7 464.2 272.3 464.6 271.1 465.0 272.3 465.3 274.7 465.7 274.7 466.1 276.1 466.6 272.8 467.3 271.6 467.9 272.8 468.4 276.1 468.9 278.0 469.4 275.5 470.0 272.6 470.7 271.4 471.5 272.6 472.0 275.5 472.6 275.5 473.2 275.9 473.7 272.6 474.5 271.4 475.3 272.6 475.9 275.9 476.5 276.9 476.9 275.6 477.2 273.6 477.8 272.4 478.3 273.6 478.7 275.6 479.1 275.6 479.6 277.8 480.1 274.5 480.7 273.3 481.4 274.5 481.9 277.8 482.4 278.0 482.7 279.8 483.0 276.5 483.4 275.3 483.8 276.5 484.1 279.8 484.4 284.0 484.7 279.0 485.1 275.6 485.5 274.4 486.0 275.6 486.3 279.0 486.6 280.2 487.0 276.9 487.4 274.9 488.0 273.7 488.6 274.9 489.0 276.9 489.4 276.9 489.7 278.1 490.0 274.8 490.4 273.5 490.8 274.8 491.2 278.1 491.5 284.4 491.8 277.8 492.2 275.0 492.6 273.8 493.1 275.0 493.4 277.8 493.8 277.8 494.1 277.9 494.4 274.6 494.8 273.4 495.2 274.6 495.5 277.9 495.8 282.9 496.3 275.0 496.8 271.7 497.4 270.5 498.0 271.7 498.4 275.0 498.9 277.5 499.3 275.0 499.8 271.7 500.3 270.5 500.9 271.7 501.4 275.0 501.8 277.8 502.3 275.4 502.8 272.1 503.4 270.8 504.1 272.1 504.6 275.4 505.0 276.9 505.6 276.1 506.2 272.8 506.9 271.6 507.6 272.8 508.2 276.1 508.8 279.3 509.1 276.3 509.4 273.0 509.8 271.7 510.2 273.0 510.5 276.3 510.8 281.4 511.4 277.7 512.1 274.4 512.9 273.2 513.8 274.4 514.4 277.7 515.1 285.0 515.5 282.4 515.8 279.1 516.3 277.9 516.8 279.1 517.1 282.4 517.5 285.0 518.0 280.7 518.6 277.4 519.4 276.2 520.1 277.4 520.7 280.7 521.3 281.7 521.8 280.0 522.4 276.7 523.1 275.5 523.8 276.7 524.4 280.0 525.0 282.1 525.5 279.9 526.1 276.6 526.8 275.4 527.5 276.6 528.1 279.9 528.6 285.0 529.0 281.0 529.4 277.7 530.0 276.5 530.5 277.7 530.9 281.0 531.3 285.0 531.8 281.0 532.2 277.7 532.8 276.4 533.4 277.7 533.9 281.0 534.3 285.0 534.7 281.4 535.1 278.1 535.7 276.8 536.3 278.1 536.7 281.4 537.1 285.0" stroke="#7373fa" stroke-width="1.0" fill="none" stroke-linejoin="round"/><path d="M326.1 285.0 326.6 261.9 327.1 243.4 327.6 237.5 328.0 236.2 328.6 236.2 329.2 239.5 330.1 245.7 330.8 246.4 331.6 246.7 332.3 251.3 333.1 255.3 333.7 255.3 335.0 257.3 336.4 266.5 337.0 259.8 337.6 256.5 338.4 255.3 338.9 256.5 339.3 259.8 339.6 270.2 340.0 264.5 340.4 264.5 340.9 263.4 341.4 264.5 341.8 264.5 342.2 264.5 342.9 263.8 343.6 260.5 344.5 259.3 345.1 260.5 345.5 263.8 346.0 264.8 346.2 260.5 346.3 257.2 346.6 256.0 347.8 257.2 348.7 260.5 349.7 263.4 350.3 259.2 351.0 255.9 351.8 254.6 352.7 255.9 353.3 259.2 353.9 263.2 353.9 261.8 353.9 258.5 353.9 257.3 355.3 258.5 356.3 261.8 357.3 263.2 357.4 262.5 357.5 259.2 357.6 257.9 358.4 259.2 358.9 262.5 359.5 285.0 359.5 265.1 359.6 261.8 359.7 260.6 360.6 261.8 361.3 265.1 362.0 266.8 362.3 263.1 362.5 259.8 362.9 258.6 363.6 259.8 364.1 263.1 364.6 272.6 365.1 265.6 365.6 265.6 366.3 264.9 367.0 265.6 367.5 265.6 368.0 265.6 368.2 265.8 368.4 262.5 368.7 261.2 369.5 262.5 370.1 265.8 370.7 268.8 371.0 270.3 371.2 267.0 371.6 265.8 371.9 267.0 372.2 270.3 372.5 285.0 372.8 260.6 373.2 260.6 373.6 260.6 374.1 260.6 374.4 260.6 374.7 260.6 374.7 261.5 374.7 258.2 374.8 256.9 375.5 258.2 376.1 261.5 376.6 266.6 376.9 266.1 377.2 266.1 377.6 265.1 377.9 266.1 378.2 266.1 378.5 266.1 379.0 263.8 379.6 260.5 380.3 259.3 380.6 260.5 380.8 263.8 381.0 267.9 381.2 269.1 381.5 265.7 381.8 264.5 382.2 265.7 382.4 269.1 382.7 272.9 383.2 265.1 383.8 261.8 384.5 260.6 385.2 261.8 385.8 265.1 386.3 272.8 386.7 266.4 387.1 263.1 387.6 261.8 388.1 263.1 388.5 266.4 388.9 268.5 389.3 265.8 389.7 262.5 390.3 261.2 390.8 262.5 391.2 265.8 391.6 267.3 391.8 267.0 392.1 263.7 392.4 262.5 392.7 263.7 392.9 267.0 393.1 268.8 393.6 267.7 394.1 264.4 394.8 263.2 395.4 264.4 395.9 267.7 396.4 273.8 397.0 268.9 397.6 265.6 398.4 264.3 399.1 265.6 399.7 268.9 400.3 269.9 400.9 266.4 401.6 263.1 402.4 261.9 402.8 263.1 403.1 266.4 403.5 268.8 403.7 271.3 404.0 268.0 404.3 266.8 404.6 268.0" stroke="#ff0000" stroke-width="1.0" fill="none" stroke-linejoin="round"/><path d="M326.1 285.0 326.6 261.9 327.1 243.4 327.6 237.5 328.0 236.2 328.6 236.2 329.2 239.5 330.1 245.7 330.8 246.4 331.6 246.7 332.3 251.3 333.1 255.3 333.7 255.3 335.0 257.3 336.4 266.5 337.0 259.8" stroke="#ff0000" stroke-width="1.4" fill="none" stroke-linejoin="round"/></g>
<text x="321.9" y="239.9" font-size="10" text-anchor="end">0</text>
<text x="321.9" y="259.7" font-size="10" text-anchor="end"><tspan dy="-0.9">-</tspan><tspan dy="0.9">30</tspan></text>
<text x="321.9" y="279.5" font-size="10" text-anchor="end"><tspan dy="-0.9">-</tspan><tspan dy="0.9">60</tspan></text>
<text x="483.5" y="249.6" font-size="11.5">250 Hz</text>
<text x="325.5" y="289.5" font-size="10" text-anchor="middle">0</text>
<text x="378.18" y="289.5" font-size="10" text-anchor="middle">0.1</text>
<text x="430.85" y="289.5" font-size="10" text-anchor="middle">0.2</text>
<text x="483.53" y="289.5" font-size="10" text-anchor="middle">0.3</text>
<text x="536.2" y="289.5" font-size="10" text-anchor="middle">0.4</text>
<text x="431.85" y="302.6" font-size="11.6" text-anchor="middle">Time (s)</text>
<text transform="translate(303 143.3) rotate(-90)" font-size="11.7" text-anchor="middle">Normalized instantaneous level (dB)</text>
<text x="426.05" y="330" font-size="13.5" font-weight="bold" text-anchor="middle" style="font-family:'Liberation Serif',serif">(b)</text>
</svg></body></html>
